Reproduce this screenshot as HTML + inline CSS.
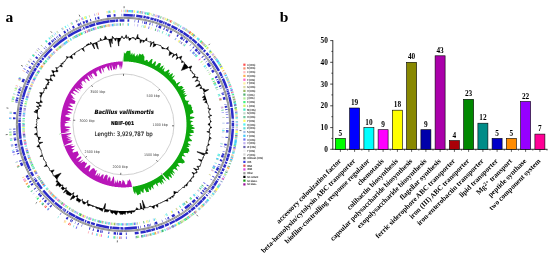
<!DOCTYPE html>
<html><head><meta charset="utf-8"><style>
html,body{margin:0;padding:0;background:#fff;}
svg{display:block;}
.tk{font-family:"DejaVu Sans Condensed","DejaVu Sans",sans-serif;font-stretch:condensed;font-size:3.6px;fill:#444;}
.dc{font-family:"DejaVu Sans Condensed","DejaVu Sans",sans-serif;font-stretch:condensed;}
.lg{font-family:"DejaVu Sans Condensed","DejaVu Sans",sans-serif;font-stretch:condensed;font-size:2.75px;fill:#333;stroke:#333;stroke-width:0.1px;}
.ax{font-family:"Liberation Serif",serif;font-weight:bold;font-size:7.3px;fill:#000;}
.xl{font-family:"Liberation Serif",serif;font-weight:bold;font-size:7.2px;fill:#000;}
.pl{font-family:"Liberation Serif",serif;font-weight:bold;font-size:15.5px;fill:#000;}
</style></head><body>
<svg width="550" height="258" viewBox="0 0 550 258">
<defs><filter id="bl" x="-5%" y="-5%" width="110%" height="110%"><feGaussianBlur stdDeviation="0.35"/></filter></defs>
<rect width="550" height="258" fill="#fff"/>
<text x="5.5" y="22" class="pl">a</text>
<text x="279.8" y="22" class="pl">b</text>
<g id="map" filter="url(#bl)">
<circle cx="123.5" cy="124.4" r="113.4" fill="none" stroke="#ff5050" stroke-width="2.4" pathLength="1440" stroke-dasharray="0 33 2 62 3 42 3 148 2 14 2 117 2 112 1 240 1 50 2 56 2 236 1 257 1 51" transform="rotate(-90 123.5 124.4)"/>
<circle cx="123.5" cy="124.4" r="113.4" fill="none" stroke="#f89070" stroke-width="2.4" pathLength="1440" stroke-dasharray="0 7 3 98 1 25 1 39 3 1 1 30 1 43 2 25 2 71 1 55 2 11 1 138 2 20 2 141 3 102 2 12 1 49 1 63 2 32 2 164 1 13 1 18 1 38 1 204 1 3" transform="rotate(-90 123.5 124.4)"/>
<circle cx="123.5" cy="124.4" r="113.4" fill="none" stroke="#ffb8c0" stroke-width="2.4" pathLength="1440" stroke-dasharray="0 65 3 263 2 55 2 21 2 108 1 54 2 14 2 80 1 116 2 168 1 179 1 298" transform="rotate(-90 123.5 124.4)"/>
<circle cx="123.5" cy="124.4" r="113.4" fill="none" stroke="#ffb050" stroke-width="2.4" pathLength="1440" stroke-dasharray="0 82 1 65 3 31 1 33 1 29 2 95 1 40 1 49 2 13 3 91 2 81 1 23 1 2 3 15 1 236 2 42 3 13 1 246 1 131 1 92" transform="rotate(-90 123.5 124.4)"/>
<circle cx="123.5" cy="124.4" r="113.4" fill="none" stroke="#ff60c8" stroke-width="2.4" pathLength="1440" stroke-dasharray="0 37 2 243 1 12 1 69 1 107 2 1 1 150 1 136 2 7 1 188 1 1 1 388 2 85" transform="rotate(-90 123.5 124.4)"/>
<circle cx="123.5" cy="124.4" r="113.4" fill="none" stroke="#fff0a0" stroke-width="2.4" pathLength="1440" stroke-dasharray="0 1 2 86 1 16 1 49 3 116 2 73 1 104 1 90 3 95 2 196 3 560 3 32" transform="rotate(-90 123.5 124.4)"/>
<circle cx="123.5" cy="124.4" r="113.4" fill="none" stroke="#d8d8a0" stroke-width="2.4" pathLength="1440" stroke-dasharray="0 100 2 7 3 157 3 68 2 81 3 86 2 56 3 163 2 433 2 123 1 33 2 37 2 14 1 54" transform="rotate(-90 123.5 124.4)"/>
<circle cx="123.5" cy="124.4" r="113.4" fill="none" stroke="#98b860" stroke-width="2.4" pathLength="1440" stroke-dasharray="0 90 2 89 1 30 2 89 3 66 1 12 1 180 1 11 2 17 2 64 3 511 1 29 1 34 1 12 1 184" transform="rotate(-90 123.5 124.4)"/>
<circle cx="123.5" cy="124.4" r="113.4" fill="none" stroke="#50b070" stroke-width="2.4" pathLength="1440" stroke-dasharray="0 51 2 7 1 72 1 65 2 31 2 73 2 4 3 9 3 75 2 41 2 11 2 19 1 8 1 5 1 89 2 51 3 50 3 206 3 44 2 42 2 57 1 360 2 27" transform="rotate(-90 123.5 124.4)"/>
<circle cx="123.5" cy="124.4" r="113.4" fill="none" stroke="#b0f090" stroke-width="2.4" pathLength="1440" stroke-dasharray="0 57 1 46 1 8 3 81 1 64 3 73 2 21 1 4 1 13 2 31 1 50 2 124 2 2 3 91 3 229 1 80 1 55 4 65 2 6 3 12 1 2 3 126 1 158" transform="rotate(-90 123.5 124.4)"/>
<circle cx="123.5" cy="124.4" r="113.4" fill="none" stroke="#40f080" stroke-width="2.4" pathLength="1440" stroke-dasharray="0 30 1 120 2 18 3 11 2 51 1 59 2 102 1 149 1 34 3 47 1 42 2 56 2 175 3 27 2 493" transform="rotate(-90 123.5 124.4)"/>
<circle cx="123.5" cy="124.4" r="113.4" fill="none" stroke="#d0f060" stroke-width="2.4" pathLength="1440" stroke-dasharray="0 135 1 9 2 20 1 21 3 9 3 30 2 92 3 175 1 101 2 733 1 96" transform="rotate(-90 123.5 124.4)"/>
<circle cx="123.5" cy="124.4" r="113.4" fill="none" stroke="#40e8c0" stroke-width="2.4" pathLength="1440" stroke-dasharray="0 19 1 24 3 1 3 41 1 229 1 193 1 9 2 11 3 8 1 17 2 10 3 18 4 36 1 34 2 209 1 159 2 82 2 43 1 51 3 36 3 38 1 23 1 29 1 77" transform="rotate(-90 123.5 124.4)"/>
<circle cx="123.5" cy="124.4" r="113.4" fill="none" stroke="#c0d8c8" stroke-width="2.4" pathLength="1440" stroke-dasharray="0 251 2 58 2 207 1 38 2 105 2 435 3 191 2 141" transform="rotate(-90 123.5 124.4)"/>
<circle cx="123.5" cy="124.4" r="113.4" fill="none" stroke="#70c8a0" stroke-width="2.4" pathLength="1440" stroke-dasharray="0 39 1 36 2 87 1 17 1 207 1 48 2 131 1 44 2 36 2 277 2 126 2 219 1 155" transform="rotate(-90 123.5 124.4)"/>
<circle cx="123.5" cy="124.4" r="113.4" fill="none" stroke="#ffff60" stroke-width="2.4" pathLength="1440" stroke-dasharray="0 21 3 29 2 19 1 11 2 96 1 54 4 130 5 74 1 13 1 30 6 102 2 160 2 542 1 47 3 57 3 18" transform="rotate(-90 123.5 124.4)"/>
<circle cx="123.5" cy="124.4" r="113.4" fill="none" stroke="#50f0f0" stroke-width="2.4" pathLength="1440" stroke-dasharray="0 4 1 8 4 18 2 68 1 56 3 56 3 2 5 65 1 19 3 17 1 41 2 10 1 267 3 113 2 127 1 372 2 38 2 4 1 25 1 14 1 45 2 11 1 17" transform="rotate(-90 123.5 124.4)"/>
<circle cx="123.5" cy="124.4" r="113.4" fill="none" stroke="#60e0d8" stroke-width="2.4" pathLength="1440" stroke-dasharray="0 3 1 116 2 9 1 38 1 6 1 41 2 10 1 35 2 8 3 5 2 5 1 52 3 14 2 22 2 10 2 16 3 44 1 26 5 14 1 123 2 189 1 35 1 281 1 142 1 69 2 83" transform="rotate(-90 123.5 124.4)"/>
<circle cx="123.5" cy="124.4" r="113.4" fill="none" stroke="#a0b8e8" stroke-width="2.4" pathLength="1440" stroke-dasharray="0 27 1 34 2 19 1 23 1 8 2 10 3 8 3 123 2 5 3 139 2 51 1 54 1 7 5 10 1 7 2 44 2 11 3 27 1 35 2 14 1 89 1 144 1 105 3 31 2 142 2 129 1 63 1 31" transform="rotate(-90 123.5 124.4)"/>
<circle cx="123.5" cy="124.4" r="113.4" fill="none" stroke="#40c8f8" stroke-width="2.4" pathLength="1440" stroke-dasharray="0 10 3 15 2 168 1 57 3 78 1 16 2 36 6 2 2 17 1 6 2 3 3 2 1 73 2 16 2 80 2 120 1 7 1 9 2 275 1 63 2 9 1 189 1 147" transform="rotate(-90 123.5 124.4)"/>
<circle cx="123.5" cy="124.4" r="113.4" fill="none" stroke="#7070f0" stroke-width="2.4" pathLength="1440" stroke-dasharray="0 17 2 52 3 92 1 48 1 2 1 5 2 10 2 23 1 26 3 115 3 61 1 10 1 69 1 70 1 90 2 102 2 66 2 115 1 19 3 13 1 135 2 20 2 5 1 236" transform="rotate(-90 123.5 124.4)"/>
<circle cx="123.5" cy="124.4" r="113.4" fill="none" stroke="#c0b0f0" stroke-width="2.4" pathLength="1440" stroke-dasharray="1 4 2 35 2 17 1 6 2 42 1 12 3 51 2 25 3 5 1 85 1 1 1 41 1 13 3 8 3 76 1 37 3 48 2 36 1 47 3 2 3 16 3 12 1 12 1 19 1 27 3 291 2 32 1 41 2 61 1 80 1 51 1 19 2 69 2 58" transform="rotate(-90 123.5 124.4)"/>
<circle cx="123.5" cy="124.4" r="113.4" fill="none" stroke="#6860b0" stroke-width="2.4" pathLength="1440" stroke-dasharray="0 153 2 164 3 12 2 46 2 91 1 27 1 1 1 57 2 50 3 55 1 8 2 562 1 94 2 97" transform="rotate(-90 123.5 124.4)"/>
<circle cx="123.5" cy="124.4" r="113.4" fill="none" stroke="#f0f0f0" stroke-width="2.4" pathLength="1440" stroke-dasharray="0 306 1 50 1 560 1 521" transform="rotate(-90 123.5 124.4)"/>
<circle cx="123.5" cy="124.4" r="113.4" fill="none" stroke="#d0d0d0" stroke-width="2.4" pathLength="1440" stroke-dasharray="0 80 2 3 1 8 3 39 3 53 1 263 3 106 1 102 3 62 1 38 1 446 2 57 1 1 1 48 1 110" transform="rotate(-90 123.5 124.4)"/>
<circle cx="123.5" cy="124.4" r="109.4" fill="none" stroke="#2c2cc8" stroke-width="2.5" pathLength="1440" stroke-dasharray="20 1 3 3 13 2 5 1 7 2 7 1 5 1 4 1 8 1 3 1 4 1 8 2 14 2 3 1 8 1 14 1 7 1 12 2 17 2 4 4 7 2 4 2 5 1 25 3 9 1 3 2 22 2 2 1 3 1 5 1 3 1 21 2 23 2 1 2 3 1 7 1 2 2 36 1 14 2 8 1 7 2 4 2 7 2 6 2 5 2 1 2 4 3 2 2 12 1 7 1 2 2 5 2 1 3 3 3 9 1 13 1 5 2 10 1 6 1 32 1 12 2 9 2 13 1 4 2 8 1 10 1 11 4 8 17 2 8 6 3 2 2 5 9 2 12 2 1 2 3 4 7 2 6 2 16 1 7 2 5 1 6 2 1 2 6 4 14 1 24 3 4 2 1 1 4 4 4 2 5 4 1 3 6 1 5 2 8 4 3 3 4 4 1 5 22 7 3 2 14 2 3 3 2 1 3 2 2 4 7 3 1 2 5 4 2 2 4 2 20 4 7 4 20 2 1 4 1 3 4 2 3 4 2 3 1 1 2 1 11 7 14 1 1 1 1 2 5 3 1 1 5 3 3 2 7 4 5 1 4 1 3 1 8 1 3 1 7 6 3 3 1 2 2 2 3 1 2 1 3 3 9 4 4 2 4 1 6 4 8 5 1 2 4 4 2 5 5 2 9 2 3 4 16 8 6 4 13 1 3" transform="rotate(-90 123.5 124.4)"/>
<circle cx="123.5" cy="124.4" r="106.15" fill="none" stroke="#404040" stroke-width="0.6"/>
<circle cx="123.5" cy="124.4" r="107.15" fill="none" stroke="#404040" stroke-width="0.6"/>
<circle cx="123.5" cy="124.4" r="104.0" fill="none" stroke="#2c2cc8" stroke-width="2.5" pathLength="1440" stroke-dasharray="2 7 4 12 1 6 2 8 1 3 2 1 3 6 2 4 1 9 2 3 6 6 2 4 2 1 2 4 5 13 3 6 6 2 2 4 5 8 1 7 2 5 6 2 2 1 3 8 2 5 2 5 1 4 9 4 1 4 6 10 4 3 2 2 7 4 3 3 1 10 2 1 2 5 6 10 1 3 4 3 2 4 1 4 1 6 1 11 2 11 1 3 4 1 1 9 2 13 4 3 1 9 1 4 3 1 5 5 4 7 2 3 1 2 7 3 3 9 2 6 1 14 2 5 3 1 2 2 3 3 3 8 1 2 4 4 8 4 3 1 13 6 2 7 3 9 7 7 2 1 1 3 1 8 1 11 5 1 1 8 1 2 2 1 2 5 2 8 1 3 2 2 28 2 7 2 16 1 4 2 29 3 9 2 7 2 3 2 21 1 16 2 3 3 3 1 2 1 1 2 20 2 35 5 17 2 5 1 2 2 1 4 10 3 4 1 18 1 11 1 21 2 13 2 35 2 6 2 2 3 3 1 4 1 3 1 7 2 4 2 3 2 3 2 4 1 26 2 3 1 8 1 20 1 8 2 4 1 6 2 6 2 5 2 25 5 37 3 33 2 1 2 3 2 8 1 14 2 30 1 11 1 6 3 9 0" transform="rotate(-90 123.5 124.4)"/>
<circle cx="123.5" cy="124.4" r="100.0" fill="none" stroke="#ff5050" stroke-width="2.4" pathLength="1440" stroke-dasharray="0 321 1 410 1 198 3 33 2 31 2 60 1 202 1 5 2 81 2 84" transform="rotate(-90 123.5 124.4)"/>
<circle cx="123.5" cy="124.4" r="100.0" fill="none" stroke="#f89070" stroke-width="2.4" pathLength="1440" stroke-dasharray="0 253 1 122 1 93 1 297 2 99 1 13 1 13 3 4 3 49 1 84 3 73 1 30 1 20 2 2 1 200 1 22 1 7 3 32" transform="rotate(-90 123.5 124.4)"/>
<circle cx="123.5" cy="124.4" r="100.0" fill="none" stroke="#ffb8c0" stroke-width="2.4" pathLength="1440" stroke-dasharray="0 133 1 85 1 84 1 145 1 73 2 367 1 15 3 7 1 90 1 9 3 5 1 124 3 26 3 7 3 31 3 21 2 51 3 70 1 6 1 8 2 6 3 37" transform="rotate(-90 123.5 124.4)"/>
<circle cx="123.5" cy="124.4" r="100.0" fill="none" stroke="#ffb050" stroke-width="2.4" pathLength="1440" stroke-dasharray="0 50 1 768 1 74 3 322 5 28 2 25 1 5 1 50 3 101" transform="rotate(-90 123.5 124.4)"/>
<circle cx="123.5" cy="124.4" r="100.0" fill="none" stroke="#ff60c8" stroke-width="2.4" pathLength="1440" stroke-dasharray="0 109 2 86 2 100 2 389 1 58 1 21 1 24 2 15 3 49 3 13 2 4 2 102 2 40 3 4 1 18 2 16 1 131 1 141 1 23 1 61 1 2" transform="rotate(-90 123.5 124.4)"/>
<circle cx="123.5" cy="124.4" r="100.0" fill="none" stroke="#fff0a0" stroke-width="2.4" pathLength="1440" stroke-dasharray="0 211 1 411 1 118 2 11 2 31 2 83 1 2 2 317 1 244" transform="rotate(-90 123.5 124.4)"/>
<circle cx="123.5" cy="124.4" r="100.0" fill="none" stroke="#d8d8a0" stroke-width="2.4" pathLength="1440" stroke-dasharray="0 480 2 108 3 69 2 53 1 121 2 71 2 67 2 83 3 172 1 12 4 19 2 161" transform="rotate(-90 123.5 124.4)"/>
<circle cx="123.5" cy="124.4" r="100.0" fill="none" stroke="#98b860" stroke-width="2.4" pathLength="1440" stroke-dasharray="0 9 1 39 1 211 2 38 3 40 1 97 1 119 3 174 3 35 2 62 2 132 1 306 3 104 3 6 2 40" transform="rotate(-90 123.5 124.4)"/>
<circle cx="123.5" cy="124.4" r="100.0" fill="none" stroke="#50b070" stroke-width="2.4" pathLength="1440" stroke-dasharray="0 74 2 16 1 136 1 43 2 188 2 45 2 160 2 13 1 132 4 38 1 7 3 45 1 33 2 22 1 36 3 200 1 1 1 10 3 96 2 36 1 19 3 42 3 6" transform="rotate(-90 123.5 124.4)"/>
<circle cx="123.5" cy="124.4" r="100.0" fill="none" stroke="#b0f090" stroke-width="2.4" pathLength="1440" stroke-dasharray="0 204 2 32 2 404 1 52 2 45 1 1 3 13 1 177 2 121 3 19 2 36 1 7 3 23 2 1 1 112 4 163" transform="rotate(-90 123.5 124.4)"/>
<circle cx="123.5" cy="124.4" r="100.0" fill="none" stroke="#40f080" stroke-width="2.4" pathLength="1440" stroke-dasharray="0 136 1 113 3 4 2 4 2 284 3 174 1 63 2 32 2 91 1 48 1 16 3 3 2 5 1 1 1 94 2 32 2 74 3 30 2 42 2 29 1 21 3 3 3 4 1 32 3 57 1 0" transform="rotate(-90 123.5 124.4)"/>
<circle cx="123.5" cy="124.4" r="100.0" fill="none" stroke="#d0f060" stroke-width="2.4" pathLength="1440" stroke-dasharray="0 47 1 807 3 141 1 126 1 179 2 12 2 81 2 14 2 19" transform="rotate(-90 123.5 124.4)"/>
<circle cx="123.5" cy="124.4" r="100.0" fill="none" stroke="#40e8c0" stroke-width="2.4" pathLength="1440" stroke-dasharray="0 84 1 65 2 23 1 10 3 33 1 69 2 139 1 80 2 65 2 76 1 100 2 4 2 4 3 23 2 10 1 48 2 18 2 93 1 4 2 69 2 28 3 105 3 23 2 18 2 124 1 21 1 57" transform="rotate(-90 123.5 124.4)"/>
<circle cx="123.5" cy="124.4" r="100.0" fill="none" stroke="#c0d8c8" stroke-width="2.4" pathLength="1440" stroke-dasharray="0 369 1 165 1 308 3 42 1 121 1 75 3 18 2 134 3 70 2 119 1 1" transform="rotate(-90 123.5 124.4)"/>
<circle cx="123.5" cy="124.4" r="100.0" fill="none" stroke="#70c8a0" stroke-width="2.4" pathLength="1440" stroke-dasharray="0 278 1 47 2 190 3 31 1 15 3 229 2 47 3 22 1 3 1 59 2 6 3 125 1 187 1 59 3 38 3 18 2 54" transform="rotate(-90 123.5 124.4)"/>
<circle cx="123.5" cy="124.4" r="100.0" fill="none" stroke="#ffff60" stroke-width="2.4" pathLength="1440" stroke-dasharray="0 51 1 12 1 69 2 467 3 59 2 15 1 126 1 1 2 4 2 150 2 23 2 75 3 100 2 264" transform="rotate(-90 123.5 124.4)"/>
<circle cx="123.5" cy="124.4" r="100.0" fill="none" stroke="#50f0f0" stroke-width="2.4" pathLength="1440" stroke-dasharray="0 46 1 54 1 114 3 155 2 53 2 20 1 86 3 31 2 45 1 89 3 11 3 194 2 107 2 14 1 23 2 4 2 75 1 12 2 29 2 144 2 23 2 58 1 12" transform="rotate(-90 123.5 124.4)"/>
<circle cx="123.5" cy="124.4" r="100.0" fill="none" stroke="#60e0d8" stroke-width="2.4" pathLength="1440" stroke-dasharray="0 42 1 48 1 14 3 70 2 84 2 5 1 16 2 113 2 25 2 141 1 41 2 73 2 6 3 1 3 30 1 33 1 8 2 3 1 2 1 28 1 17 3 63 3 31 2 13 1 27 1 15 1 12 2 30 2 96 4 1 1 14 1 34 1 50 2 53 3 122 2 16" transform="rotate(-90 123.5 124.4)"/>
<circle cx="123.5" cy="124.4" r="100.0" fill="none" stroke="#a0b8e8" stroke-width="2.4" pathLength="1440" stroke-dasharray="0 124 3 195 1 33 2 20 1 271 1 82 3 21 1 27 2 17 2 37 1 24 1 6 1 27 1 3 2 114 2 19 1 53 1 3 2 16 3 38 2 14 3 176 2 14 2 42 3 21" transform="rotate(-90 123.5 124.4)"/>
<circle cx="123.5" cy="124.4" r="100.0" fill="none" stroke="#40c8f8" stroke-width="2.4" pathLength="1440" stroke-dasharray="0 11 2 254 1 105 1 65 3 18 3 63 1 44 1 30 1 44 2 53 1 9 1 16 3 20 3 37 1 97 3 34 4 71 2 12 1 73 1 13 2 132 1 19 2 34 3 3 3 9 2 5 1 5 3 66 3 16 3 24" transform="rotate(-90 123.5 124.4)"/>
<circle cx="123.5" cy="124.4" r="100.0" fill="none" stroke="#7070f0" stroke-width="2.4" pathLength="1440" stroke-dasharray="0 32 1 25 2 108 2 6 3 4 2 147 1 77 1 47 2 43 2 36 1 151 3 24 3 52 2 29 1 143 1 10 3 1 1 51 3 17 1 61 2 41 4 25 1 13 3 18 3 38 3 13 1 105 3 68" transform="rotate(-90 123.5 124.4)"/>
<circle cx="123.5" cy="124.4" r="100.0" fill="none" stroke="#c0b0f0" stroke-width="2.4" pathLength="1440" stroke-dasharray="0 25 1 7 1 45 3 55 2 180 2 68 1 78 2 226 1 9 3 49 2 35 1 35 3 3 2 147 3 15 2 6 1 35 2 3 1 4 1 48 1 3 4 34 3 28 1 79 1 3 1 26 3 36 3 75 1 1 1 1 1 11 3 13" transform="rotate(-90 123.5 124.4)"/>
<circle cx="123.5" cy="124.4" r="100.0" fill="none" stroke="#6860b0" stroke-width="2.4" pathLength="1440" stroke-dasharray="0 141 2 570 1 115 1 54 1 51 2 4 2 20 1 71 1 15 1 1 4 20 2 35 2 46 2 33 1 150 2 7 2 1 1 78" transform="rotate(-90 123.5 124.4)"/>
<circle cx="123.5" cy="124.4" r="100.0" fill="none" stroke="#f0f0f0" stroke-width="2.4" pathLength="1440" stroke-dasharray="0 223 2 538 3 150 1 242 1 280" transform="rotate(-90 123.5 124.4)"/>
<circle cx="123.5" cy="124.4" r="100.0" fill="none" stroke="#d0d0d0" stroke-width="2.4" pathLength="1440" stroke-dasharray="0 147 3 84 1 168 1 310 3 20 2 269 1 137 2 51 3 8 1 75 5 120 1 28" transform="rotate(-90 123.5 124.4)"/>
<line x1="124.1" y1="8.2" x2="124.1" y2="6.2" stroke="#333" stroke-width="0.7"/>
<line x1="208.5" y1="45.2" x2="209.9" y2="43.8" stroke="#333" stroke-width="0.7"/>
<line x1="239.5" y1="130.5" x2="241.5" y2="130.6" stroke="#333" stroke-width="0.7"/>
<line x1="196.6" y1="214.7" x2="197.9" y2="216.3" stroke="#333" stroke-width="0.7"/>
<line x1="117.4" y1="240.4" x2="117.3" y2="242.4" stroke="#333" stroke-width="0.7"/>
<line x1="37.1" y1="202.2" x2="35.7" y2="203.5" stroke="#333" stroke-width="0.7"/>
<line x1="7.7" y1="134.5" x2="5.7" y2="134.7" stroke="#333" stroke-width="0.7"/>
<line x1="8.4" y1="108.2" x2="6.5" y2="107.9" stroke="#333" stroke-width="0.7"/>
<line x1="22.9" y1="66.3" x2="21.1" y2="65.3" stroke="#333" stroke-width="0.7"/>
<line x1="52" y1="32.8" x2="50.7" y2="31.3" stroke="#333" stroke-width="0.7"/>
<line x1="80" y1="16.7" x2="79.2" y2="14.8" stroke="#333" stroke-width="0.7"/>
<path d="M123.5,38.4 123.9,38.4 124.3,38.4 124.6,38.4 125,38 125.4,36.9 125.8,35.9 126.2,34.8 126.6,36.4 126.9,38.6 127.3,38.1 127.7,37.7 128.1,36.7 128.4,37.4 128.8,38.2 129,40.3 129.4,40.2 129.8,40.2 130.1,40.1 130.6,39.5 131,38.8 131.4,38.1 131.8,37.7 132.2,37.6 132.6,37.5 133,37.4 133.4,37.5 133.8,37.6 134.1,37.7 134.5,38 134.8,38.7 135.1,39.4 135.4,40 135.7,40 136.4,38.2 137.1,36.3 137.8,34.4 137.9,36.2 137.9,38.1 138.4,37.8 138.8,37.8 139.1,38.1 139.4,38.4 139.8,38.7 140,39.8 140.1,41.1 140.2,42.4 140.4,43.2 141,42.1 141.6,41 142.2,40 142.6,40 142.8,40.9 143,41.7 143.2,42.5 143.6,42.1 144.1,41.6 144.6,41.2 145.3,40.1 146,39 146.7,37.8 146.8,39 146.8,40.3 147.1,40.7 147.4,41 147.7,41.3 148.1,41.5 148.4,41.6 148.8,41.7 149.1,41.9 149.5,42 149.9,42 150.2,42.1 150.9,41.3 150.8,42.7 150.6,44.6 150.3,46.7 151.2,44.9 152.2,43.2 153.1,42 153.5,41.9 154,41.6 153.7,43.5 153.5,45.2 153.1,47.2 154,46 154.4,46 154.7,46.3 155.3,45.7 156,45 156.6,44.4 157,44.5 157.4,44.6 157.8,44.6 158.1,44.7 158.5,44.9 158.8,45 159.2,45.2 159.6,45.3 159.9,45.3 160.3,45.4 160.7,45.5 161,45.9 161.2,46.2 161.5,46.6 161.6,47 161.8,47.6 161.9,48.2 162.1,48.7 162.5,48.7 162.9,48.7 163.3,48.7 163.7,48.7 164.2,48.7 164.6,48.7 165,48.7 165.4,48.7 165.8,48.8 166.4,48.6 167.4,47.7 168.3,46.7 168.1,48 167.8,49.2 168.1,49.4 168.4,49.7 168.7,49.9 169,50.2 169.2,50.6 169.3,51.1 169.5,51.5 169.5,52.1 169.4,53 169.3,53.9 169.2,54.8 169,55.6 169.8,55.1 170.6,54.6 171.3,54.1 172.1,53.7 172.8,53.4 173.1,53.6 173.5,53.7 173.4,54.4 172.8,55.9 172.2,57.4 173.5,56.3 174.8,55.1 176.4,53.6 176.7,53.7 176.8,54.3 176.9,54.8 177,55.3 177.2,55.7 177.3,56.1 177.1,57 176.6,58.2 176.1,59.4 177.2,58.7 178.3,57.9 179.4,57.2 180.2,56.8 181,56.5 181.8,56.1 181.5,57.1 181.1,58.1 180.8,59.1 180.7,59.7 181.1,59.9 181.4,60.1 181.8,60.2 181.8,60.8 181.7,61.5 181.5,62.2 181.6,62.6 182.4,62.4 183.1,62.1 183.9,61.9 184.2,62.1 184.2,62.6 184.3,63.1 184.3,63.6 184.2,64.2 183.8,65.1 183.4,66.1 183,66.9 182.6,67.8 182.3,68.6 181.9,69.4 181.4,70.4 182.2,70.1 183.1,69.8 184,69.5 185,69.1 185.9,68.7 186.9,68.3 188,67.8 190.2,66.4 191,66.2 191.8,66 191.4,66.9 191,67.7 190.6,68.6 190.4,69.3 190.3,69.8 190.3,70.3 190.3,70.8 190.7,71 191.1,71.1 191.6,71.2 192,71.3 192.1,71.8 192.1,72.3 192.1,72.7 192.3,73 192.6,73.3 192.8,73.6 193.1,73.8 193.6,73.9 194.1,74 194.6,74.2 194.9,74.4 195,74.8 194.4,75.6 193.4,76.8 192.4,77.9 193.7,77.5 195.2,76.9 195.4,77.3 196.2,77.2 197,77.1 197.8,77 198,77.4 197.6,78.1 197.2,78.8 196.9,79.4 196,80.4 195.1,81.4 196.4,81 197.7,80.7 198.4,80.7 198.8,80.9 199.2,81.1 199.3,81.5 199.3,82 199.3,82.4 199.4,82.8 199.7,83 199.1,83.8 197.6,85 196,86.3 195.8,86.8 197.7,86.2 199.6,85.6 201,85.3 201,85.7 201.1,86.1 201,86.6 200.6,87.2 200.2,87.8 199.9,88.4 200.5,88.5 201.3,88.5 202.1,88.6 202.9,88.6 203.5,88.8 204.1,88.9 204.7,89.1 204.7,89.5 204.2,90.2 204.8,90.3 207.1,89.8 208.7,89.6 206.5,90.9 204.3,92.2 203.5,92.9 203.7,93.2 203.9,93.5 204.1,93.9 204.4,94.2 204.6,94.5 204.9,94.8 204.9,95.2 204.1,95.9 203.2,96.6 202.4,97.2 202.6,97.5 203.6,97.6 204.6,97.6 203.9,98.3 204.8,98.4 203.9,99.1 203,99.7 202.9,100.1 204.2,100.1 205.5,100.1 206.7,100.1 206.4,100.6 205.7,101.2 205,101.8 204.6,102.3 205.3,102.5 205.9,102.7 206.6,102.9 207,103.2 207.2,103.5 207.4,103.9 207.5,104.2 207.8,104.6 208,104.9 208.2,105.2 208.3,105.6 208.4,106 208.4,106.4 208.4,106.7 208.3,107.1 208.1,107.6 208,108 207.9,108.4 208.9,108.6 209.9,108.8 210.9,109 210.2,109.5 209.4,110 209.1,110.5 208.8,110.9 208.7,111.3 208.7,111.7 208.6,112.1 208.7,112.4 208.9,112.8 209.1,113.1 209.2,113.5 209.4,113.8 209.6,114.2 209.8,114.6 210.2,114.9 211,115.2 211.8,115.5 210,116.1 209.1,116.5 208.2,117 208.9,117.3 209.6,117.6 210.2,118 210,118.4 209.8,118.7 209.8,119.1 209.9,119.5 210.1,119.9 210.2,120.2 210.5,120.6 210.8,121 211.1,121.3 211.3,121.7 210.8,122.1 210.4,122.5 209.9,122.9 209.4,123.3 208.9,123.7 208.4,124 207.9,124.4 208.5,124.8 209.1,125.1 209.7,125.5 210,125.9 209.9,126.3 210.3,126.7 211.1,127.1 212,127.5 211.1,127.8 210.3,128.2 209.7,128.5 209.6,128.9 209.4,129.3 209.2,129.6 209.2,130 209.5,130.4 209.7,130.8 209.4,131.2 208.1,131.4 206.8,131.7 208.1,132.2 209.3,132.7 210.1,133.1 210.2,133.5 210.2,133.9 210,134.3 209.8,134.6 209.6,135 209.4,135.3 209.4,135.7 209.4,136.1 209.4,136.5 209.7,136.9 210.2,137.4 210.8,137.8 211.3,138.3 209.7,138.4 209.1,138.7 209.5,139.2 210.2,139.7 209.5,139.9 208.8,140.2 209,140.6 209,141 208.8,141.4 208.5,141.7 208.3,142 208.3,142.4 208.2,142.8 208.1,143.2 208.3,143.6 208.7,144.1 209.1,144.5 209.4,145 208.7,145.3 208,145.5 207.3,145.7 206.9,146 206.9,146.4 206.9,146.7 206.8,147.1 206.9,147.5 206.9,147.9 207,148.3 207.1,148.8 207.3,149.2 207.6,149.7 207.9,150.2 207.6,150.5 206.9,150.7 206.3,150.9 205.6,151.1 206.3,151.7 207,152.3 207.7,153 207.8,153.4 207,153.6 206.2,153.7 205.5,153.8 201.8,152.9 197.8,151.8 196.9,151.8 200.6,153.6 204.4,155.4 204.2,155.8 203.9,156.1 203.6,156.4 203.4,156.7 203.1,157 202.9,157.3 202.9,157.7 202.8,158.1 202.8,158.5 202.7,158.8 202.5,159.2 202.3,159.5 202.1,159.8 201.7,160 200,159.7 198.4,159.3 199.8,160.4 201.1,161.4 201.7,162.1 201.4,162.4 201.2,162.7 201.1,163.1 201,163.5 200.9,163.8 200.7,164.2 200.6,164.5 200.5,164.9 200.3,165.3 200.3,165.6 200.2,166 200.1,166.4 199.4,166.4 198.4,166.4 197.5,166.3 196.9,166.3 197.5,167.1 198.2,168 198.8,168.8 198.8,169.2 198.4,169.4 197.9,169.5 196.8,169.3 195.2,168.8 193.6,168.2 194.8,169.4 196.1,170.6 197,171.7 197.1,172.2 197.1,172.6 196.6,172.8 196.1,172.9 195.6,173 195.1,173.2 194.5,173.2 193.2,172.8 192,172.3 192.8,173.4 193.6,174.4 193.7,175 193.5,175.3 193.6,175.8 193.7,176.3 193.7,176.8 193.6,177.2 193,177.3 192.5,177.3 191.9,177.4 191.8,177.8 191.8,178.2 191.8,178.7 191.6,179.1 191.1,179.2 190.6,179.2 190.5,179.7 190.9,180.5 191.4,181.4 190.5,181.2 189.9,181.1 189.5,181.3 189.1,181.4 188.7,181.6 188.4,181.9 188.3,182.2 188.1,182.6 188,183 187.8,183.3 187.6,183.7 187.5,184 187.3,184.4 187.2,184.9 187.2,185.3 187.1,185.8 186.6,185.9 185.9,185.7 185.2,185.6 184.5,185.4 184.6,186 184.7,186.6 184.7,187.2 184.5,187.6 183.9,187.5 183.3,187.4 182.7,187.3 182.4,187.6 182.2,187.9 181.9,188.2 181.7,188.5 181.4,188.7 181.1,189 180.9,189.3 180.6,189.5 180.3,189.7 180,189.9 179.7,190.2 179.3,190.3 179,190.5 178.7,190.7 178.4,191 178.2,191.4 178.1,191.8 177.9,192.2 177.8,192.6 176.9,192.1 176.3,192 175.7,191.9 175.1,191.7 174.5,191.5 173.9,191.2 173.9,191.9 173.9,192.6 174,193.2 174,193.9 174,194.5 174.3,195.6 173.7,195.4 173.3,195.6 173.3,196.2 173.2,196.7 173.2,197.3 172.7,197.3 172.1,197.1 171.5,197 171.1,196.9 171,197.5 170.9,198.1 170.8,198.7 170.5,198.8 169.9,198.6 169.3,198.5 168.8,198.3 168.4,198.4 168.1,198.6 167.7,198.7 167.6,199.3 167.8,200.3 167.9,201.3 167.3,201.1 166.9,201.1 166.4,201 165.9,200.9 165.4,200.8 165.1,200.9 164.7,201.1 164.4,201.2 164,201.4 163.6,201.5 163.3,201.7 162.9,201.8 162.6,202 162.3,202.2 162,202.4 161.6,202.6 161.3,202.8 161,203 160.6,203.1 160.3,203.2 159.9,203.3 159.5,203.4 159.1,203.4 158.7,203.5 158.4,203.6 158,203.7 157.8,204.3 157.8,205.3 157.8,206.3 157.8,207.2 157.2,206.7 156.5,206.2 155.9,205.6 155.3,205 155,205.4 154.8,205.9 154.5,206.3 154.4,207 154.2,207.7 154.1,208.5 153.6,208.3 153.1,207.9 152.6,207.6 152,207.2 151.5,206.9 150.9,206.2 150.4,206.1 150,206 149.7,206.2 149.4,206.5 149.1,206.7 148.7,206.9 148.4,207.1 148.1,207.4 147.7,207.6 147.4,207.7 147,207.7 146.6,207.7 146.2,207.8 145.9,207.9 145.5,207.9 144.5,205.4 143.4,202.9 142.4,200.3 142.8,203.3 143.2,206.3 143.7,210.1 143.1,209.5 142.6,208.8 142,207.9 141.1,205.5 140.2,203.1 140.4,205.6 140.5,208.2 140.3,209 140,209.1 139.6,209.3 139.2,209.3 138.8,209.2 138.5,209.2 138,209 137.6,208.5 137.1,208.1 136.7,207.7 136.4,208.3 136.1,208.9 135.8,209.5 135.5,210.1 135.2,210.6 134.9,211.1 134.6,211.7 134.2,211.8 133.9,211.9 133.5,212 133.1,212 132.7,211.9 132.3,211.8 132,212.3 131.7,213.1 131.3,214 130.9,213.3 130.4,212.6 130.1,212.6 129.7,212.5 129.3,212.4 128.9,212.5 128.5,212.9 128.2,213.3 127.8,213.6 127.4,213 126.9,212.1 126.5,211.2 126.2,211.7 125.8,212.6 125.4,213.5 125.1,214.5 124.7,213.8 124.3,213.8 123.9,213.8 123.5,213.7 123.1,214 122.7,214.2 122.3,214.4 121.9,214.5 121.5,214.2 121.2,213.9 120.8,213.7 120.4,214.5 120,213.3 119.6,213.1 119.3,212.9 118.9,212.4 118.5,212 118.2,211.5 117.8,212 117.3,213 116.8,214 116.4,215.1 116,214.7 115.6,214.4 115.3,214.1 114.9,213.7 114.6,213.3 114.2,212.9 113.9,212.4 113.4,212.7 113,213 112.6,213.4 112.2,213.6 111.8,213.3 111.4,213 111.1,212.7 110.8,212.1 110.5,211.2 110.3,210.4 110,209.6 109.5,210.2 109,210.8 108.5,211.4 108.1,211.8 107.7,211.8 107.3,211.8 106.9,211.8 106.5,211.8 106.1,211.8 105.7,211.7 105.3,211.7 104.9,211.9 104.5,212.1 105.1,207.2 105.5,204.1 105.3,203.4 104.2,206.3 103.1,209.2 102.2,211.4 101.9,211 101.6,210.7 101.3,210.4 100.9,210.2 100.5,210.1 100.2,209.9 99.8,209.7 99.5,209.5 99.2,209.3 98.8,209 98.6,208.5 98.2,208.6 97.6,209.2 97.5,208.3 97.2,207.8 96.7,208.1 96.2,208.4 96,207.9 95.7,207.4 95.5,206.9 95.2,206.6 94.8,206.5 94.4,206.5 94,206.4 93.6,206.5 93.2,206.5 92.8,206.6 92.4,206.5 92.1,206.3 91.8,206 91.5,205.7 91.1,205.5 90.7,205.5 90.4,205.4 90,205.3 89.5,205.5 88.9,205.8 88.4,206 88,206 87.8,205.5 87.6,205 87.4,204.5 87.7,202.9 87.9,201.6 88.1,200.2 87.3,201.2 86.4,202.2 85.3,203.6 84.7,204 84.2,204 83.9,203.9 83.5,203.8 83.1,203.6 82.9,203.1 82.8,202.7 82.6,202.2 82.5,201.6 82.5,200.8 82.5,200 82.5,199.2 81.7,199.8 80.7,200.8 79.8,201.7 78.9,202.4 78.7,202 78.5,201.5 78.3,201.1 78,201 77.5,200.9 77.1,200.9 76.7,200.8 76.6,200.2 76.5,199.6 77.5,197.3 77.6,196.5 77.6,195.8 77.6,195.1 76.7,195.7 76.1,196.1 75.4,196.4 73.6,198.5 73.5,197.9 72.5,198.5 71.6,199.2 70.7,199.8 70.4,199.5 73,195.2 73.5,193.8 74,192.5 73,193.3 72,194 70.2,195.8 69.9,195.6 69.5,195.4 69.1,195.3 68.7,195.1 68.4,195 68,194.8 67.6,194.7 67.2,194.6 66.9,194.3 66.6,194.1 66.3,193.8 66.2,193.3 66.3,192.6 66.4,191.9 66.5,191.1 65.5,191.7 64.5,192.3 63.5,192.8 65.7,189.7 66.1,188.7 66.5,187.7 65.7,188 64.9,188.4 63,189.9 62.6,189.8 62.2,189.6 62,189.2 61.8,188.9 61.6,188.5 61.1,188.4 62.6,186.4 62.8,185.6 63,184.9 62.2,185.1 61.5,185.4 59.3,187 59.3,186.4 59.1,186 59,185.6 58.9,185.2 58.2,185.3 57.3,185.6 56.5,185.8 55.9,185.8 56.5,184.7 57.1,183.6 57.7,182.6 57.6,182.2 57.1,182.1 56.5,182.1 56,182.1 56.4,181.2 56.9,180.3 57.3,179.4 57.1,179.2 57.3,178.5 57.8,177.6 58.3,176.7 59.2,175.6 60.1,174.4 61.1,173.1 60.1,173.5 58.8,174 57.6,174.5 56.3,175 55.1,175.5 53.7,176 53.4,175.8 53.2,175.5 53.1,175.1 53.1,174.6 53.1,174.2 52.9,173.8 52.7,173.5 52.4,173.3 52.1,173 52.6,172.2 53.2,171.4 53.8,170.5 54.1,169.9 52.9,170.2 51.8,170.5 50.6,170.8 50,170.8 49.8,170.4 49.6,170.1 49.5,169.8 49.4,169.4 49.4,168.9 49.3,168.5 49.2,168.2 49,167.9 48.7,167.6 48.5,167.3 48.2,167 47.9,166.8 47.6,166.5 47.2,166.2 47,166 45.6,166.3 44.3,166.5 45.2,165.6 46.1,164.7 46,164.3 45.8,164 46,163.5 46.1,163 46.2,162.5 46.1,162.1 45.8,161.9 45.4,161.6 45.1,161.4 44.9,161.1 44.6,160.8 44.4,160.4 44.2,160.1 44,159.8 43.7,159.5 43.5,159.2 43.4,158.8 43.5,158.4 43.5,157.9 43.5,157.5 43.4,157.2 43.2,156.8 43.1,156.5 42.5,156.3 41.2,156.4 39.9,156.5 40.9,155.7 41.9,154.9 42.2,154.4 42.1,154 42,153.7 41.8,153.3 41.7,153 41.6,152.6 41.5,152.2 41.4,151.9 41.3,151.5 41.2,151.2 41.2,150.8 41.2,150.4 41.2,150 41,149.6 40.6,149.4 40.1,149.1 39.7,148.8 39.7,148.4 39.8,148 39.8,147.6 39.7,147.2 38.8,147.1 37.9,146.9 37,146.8 37,146.4 37.6,145.8 38.3,145.2 38.9,144.7 38.9,144.3 39.7,143.7 41.3,143 42.8,142.3 41.1,142.3 39.4,142.3 38.6,142.1 38.5,141.7 38.3,141.3 38.2,141 38,140.6 38.6,140.1 39.4,139.6 40.1,139.1 39.4,138.9 39.2,138.5 40,138 40.8,137.5 39.7,137.3 38.6,137.1 37.6,136.9 36.9,136.6 37,136.2 37.1,135.8 37.1,135.4 36.5,135.1 35.6,134.8 34.8,134.5 34.3,134.2 35.2,133.7 36.1,133.2 36.9,132.7 37.3,132.3 37.2,131.9 37.2,131.6 37.2,131.2 37.1,130.8 36.9,130.5 36.7,130.1 36.7,129.7 36.8,129.3 36.9,128.9 36.9,128.6 36.6,128.2 35.7,127.9 34.7,127.5 35.7,127.1 36,126.7 36.4,126.3 36.8,125.9 36.8,125.5 36.6,125.2 36.4,124.8 36.2,124.4 36.4,124 36.7,123.6 37,123.3 37.1,122.9 36.9,122.5 36.8,122.1 36.6,121.7 36.7,121.4 36.8,121 36.9,120.6 36.9,120.2 36.7,119.9 36.5,119.5 37.3,119.1 38.4,118.8 39.6,118.5 38.7,118.1 38.2,117.7 38,117.3 37.9,116.9 37.7,116.5 37.6,116.1 37.6,115.8 37.6,115.4 37.6,115 37.5,114.6 37.4,114.2 37.3,113.8 37.3,113.4 37,113 35.5,112.4 33.9,111.8 35.5,111.6 37.1,111.5 36.1,111 35.2,110.4 36,110.1 36.8,109.9 37.6,109.6 38.3,109.4 38.7,109.1 39.2,108.8 39.6,108.5 38.9,108 37.9,107.4 36.9,106.8 36.4,106.3 38,106.2 39.6,106.2 41.2,106.2 41.4,105.8 40.5,105.2 39.7,104.7 38.9,104.1 37.9,103.5 37,102.8 36,102.2 39.3,102.6 40.6,102.6 41.9,102.5 42.3,102.3 42.3,101.9 41.7,101.3 41.2,100.8 40.8,100.3 40.8,99.9 40.7,99.5 40.7,99.1 40.7,98.7 40.7,98.3 40.7,97.9 40.7,97.5 40.4,97 40.2,96.5 39.9,96 39.9,95.6 40.4,95.4 40.9,95.2 41.4,94.9 41,94.4 40.5,93.8 39.9,93.1 39.7,92.6 40.9,92.7 42.1,92.7 43.3,92.8 43.8,92.6 43.7,92.2 43.7,91.7 43.6,91.3 43.8,91 44,90.7 44.3,90.4 44.3,90 44.1,89.4 43.8,88.9 43.6,88.4 44.9,88.6 46,88.7 47,88.7 46.7,88.2 46.7,87.8 46.7,87.4 46.7,86.9 46.5,86.4 46.3,85.9 46.2,85.4 46,84.9 46.7,84.9 47.5,84.8 48.3,84.8 48.7,84.6 48.5,84.1 48.4,83.6 48.3,83.1 48.6,82.9 49,82.7 49.4,82.5 47.7,81.1 46.3,79.8 45.4,78.9 46.9,79.3 48,79.5 49.5,79.9 51,80.4 52.5,80.9 52,80.1 51.5,79.4 51.1,78.7 50.8,78.1 50.7,77.6 50.7,77.1 50.7,76.7 50.7,76.2 50.6,75.7 50.6,75.2 50.9,74.9 52.4,75.6 53.6,75.9 55,76.4 55.1,76.1 54.4,75.1 53.8,74.2 53.2,73.3 52.7,72.5 52.2,71.6 51.7,70.8 51.9,70.4 53,70.8 54.1,71.1 55.2,71.5 55.9,71.6 56.6,71.7 57.3,71.7 57.8,71.7 57.9,71.2 57.9,70.8 56.7,69.3 56.2,68.4 55.7,67.5 56.5,67.7 57.2,67.8 57.6,67.7 58.1,67.5 58.5,67.4 58.8,67.2 58.9,66.8 59.1,66.4 59.2,66 59.9,66.1 60.8,66.4 61.7,66.8 62.3,66.8 62,66 61.6,65.2 61.3,64.3 60.9,63.5 61.7,63.7 62.5,63.9 63.2,64.1 63,63.4 62.9,62.7 62.9,62.2 63.6,62.3 63.9,62.1 64.2,61.9 64.6,61.7 64.8,61.5 65.1,61.2 65.3,60.9 65.5,60.6 65.6,60.1 65.8,59.7 65.9,59.3 66.1,59 66.4,58.7 66.7,58.5 67,58.2 66.7,57.3 66.4,56.4 67.3,56.9 67.7,56.7 68.3,56.9 69,57.1 69.7,57.3 70.4,57.7 71.3,58.1 72.1,58.6 72.6,58.7 72.4,57.8 72.1,56.8 71.9,55.9 71.9,55.4 72.2,55.1 72.4,54.8 72.7,54.4 73,54.2 73.4,54.2 74.2,54.6 75,55.1 74.8,54.3 74.7,53.4 75.1,53.4 75.4,53.1 75.6,52.7 75.8,52.4 76.1,52.1 76.4,51.9 76.7,51.7 77.1,51.5 77.4,51.3 77.8,51.2 78.1,51 78.5,50.9 78.8,50.7 79.1,50.5 79.4,50.4 79.7,50.1 80,49.8 80.2,49.5 80.5,49.1 80.8,49 81.2,48.9 81.6,48.9 82.4,49.4 83.5,50.7 84.3,51.4 83.8,49.8 83.3,48.1 83.6,47.7 83.8,47.3 84,46.9 84.4,46.8 84.8,46.8 85.2,46.8 85.6,46.6 85.8,46.1 86,45.7 86.2,45.3 86.5,45 86.8,44.7 87.1,44.5 87.4,44.2 87.7,44.1 88.1,43.9 88.4,43.7 88.9,43.8 89.4,44 89.9,44.2 90.4,44.4 90.5,43.6 90.5,42.8 90.6,42 92,44.3 93.3,46.7 94.6,49 94.1,46.7 93.5,44.3 93.7,43.7 94.2,43.8 94.6,43.9 94.9,43.5 95.1,43.2 96.3,45.3 97.7,48.5 98.3,49.1 97.5,45.6 97,42.8 97.2,42.3 97.5,41.9 97.8,41.5 98.1,41.2 98.4,41.1 98.8,41 99.2,41 99.5,40.9 99.9,40.8 100.2,40.5 100.3,39.4 100.4,38.3 101.1,39.2 101.7,40.2 102.2,40.4 102.5,40.1 102.8,39.8 103.1,39.5 103.5,39.4 103.9,39.4 104.2,39.3 104.5,38.8 104.7,37.8 104.9,36.8 105.1,35.9 105.6,36.5 106.2,37.6 106.8,38.6 107.4,39.5 107.7,39.4 108.1,39.3 108.5,39.2 109.2,41.3 110.2,45 110.9,47.2 110.7,43.4 110.5,39.7 110.8,39.7 111.5,41.7 112.2,43.7 112.2,41.4 112.3,39.1 112.3,36.3 112.7,36.6 113.2,37.1 113.6,37.7 114.1,38.3 114.5,39.1 115,39.9 115.4,40.8 115.8,40.6 116.1,39.7 116.4,38.8 116.7,37.9 117.1,38 117.6,39.4 118.1,42.7 118.7,46.1 118.9,42.9 119.1,40.4 119.5,41.4 119.9,40.9 120.2,40.1 120.5,39.2 120.9,38.5 121.2,37.6 121.6,36.7 122,35.9 122.4,36.7 122.7,37.5 123.1,38.3 123.5,38.4 L123.5,37.8 123.1,37.8 122.7,37.8 122.4,37.8 122,37.8 121.6,37.8 121.2,37.8 120.9,37.8 120.5,37.9 120.1,37.9 119.7,37.9 119.3,37.9 119,37.9 118.6,37.9 118.2,38 117.8,38 117.5,38 117.1,38 116.7,38.1 116.3,38.1 116,38.1 115.6,38.2 115.2,38.2 114.8,38.2 114.4,38.3 114.1,38.3 113.7,38.4 113.3,38.4 112.9,38.4 112.6,38.5 112.2,38.5 111.8,38.6 111.4,38.6 111.1,38.7 110.7,38.8 110.3,38.8 110,38.9 109.6,38.9 109.2,39 108.8,39.1 108.5,39.1 108.1,39.2 107.7,39.3 107.3,39.3 107,39.4 106.6,39.5 106.2,39.5 105.9,39.6 105.5,39.7 105.1,39.8 104.8,39.9 104.4,39.9 104,40 103.7,40.1 103.3,40.2 102.9,40.3 102.5,40.4 102.2,40.5 101.8,40.6 101.5,40.7 101.1,40.8 100.7,40.8 100.4,40.9 100,41.1 99.6,41.2 99.3,41.3 98.9,41.4 98.5,41.5 98.2,41.6 97.8,41.7 97.5,41.8 97.1,41.9 96.7,42 96.4,42.2 96,42.3 95.7,42.4 95.3,42.5 94.9,42.6 94.6,42.8 94.2,42.9 93.9,43 93.5,43.2 93.2,43.3 92.8,43.4 92.5,43.6 92.1,43.7 91.8,43.8 91.4,44 91.1,44.1 90.7,44.2 90.4,44.4 90,44.5 89.7,44.7 89.3,44.8 89,45 88.6,45.1 88.3,45.3 87.9,45.4 87.6,45.6 87.2,45.8 86.9,45.9 86.6,46.1 86.2,46.2 85.9,46.4 85.5,46.6 85.2,46.7 84.9,46.9 84.5,47.1 84.2,47.2 83.8,47.4 83.5,47.6 83.2,47.8 82.8,47.9 82.5,48.1 82.2,48.3 81.8,48.5 81.5,48.7 81.2,48.8 80.9,49 80.5,49.2 80.2,49.4 79.9,49.6 79.5,49.8 79.2,50 78.9,50.2 78.6,50.4 78.3,50.6 77.9,50.8 77.6,51 77.3,51.2 77,51.4 76.7,51.6 76.3,51.8 76,52 75.7,52.2 75.4,52.4 75.1,52.6 74.8,52.8 74.4,53 74.1,53.2 73.8,53.5 73.5,53.7 73.2,53.9 72.9,54.1 72.6,54.3 72.3,54.6 72,54.8 71.7,55 71.4,55.2 71.1,55.5 70.8,55.7 70.5,55.9 70.2,56.2 69.9,56.4 69.6,56.6 69.3,56.9 69,57.1 68.7,57.3 68.4,57.6 68.1,57.8 67.8,58.1 67.5,58.3 67.3,58.5 67,58.8 66.7,59 66.4,59.3 66.1,59.5 65.8,59.8 65.6,60 65.3,60.3 65,60.6 64.7,60.8 64.4,61.1 64.2,61.3 63.9,61.6 63.6,61.8 63.3,62.1 63.1,62.4 62.8,62.6 62.5,62.9 62.3,63.2 62,63.4 61.7,63.7 61.5,64 61.2,64.2 60.9,64.5 60.7,64.8 60.4,65.1 60.2,65.3 59.9,65.6 59.7,65.9 59.4,66.2 59.1,66.5 58.9,66.7 58.6,67 58.4,67.3 58.1,67.6 57.9,67.9 57.6,68.2 57.4,68.4 57.2,68.7 56.9,69 56.7,69.3 56.4,69.6 56.2,69.9 56,70.2 55.7,70.5 55.5,70.8 55.3,71.1 55,71.4 54.8,71.7 54.6,72 54.3,72.3 54.1,72.6 53.9,72.9 53.7,73.2 53.4,73.5 53.2,73.8 53,74.1 52.8,74.4 52.6,74.7 52.3,75 52.1,75.3 51.9,75.7 51.7,76 51.5,76.3 51.3,76.6 51.1,76.9 50.9,77.2 50.7,77.6 50.5,77.9 50.3,78.2 50.1,78.5 49.9,78.8 49.7,79.2 49.5,79.5 49.3,79.8 49.1,80.1 48.9,80.4 48.7,80.8 48.5,81.1 48.3,81.4 48.1,81.8 47.9,82.1 47.8,82.4 47.6,82.7 47.4,83.1 47.2,83.4 47,83.7 46.9,84.1 46.7,84.4 46.5,84.7 46.3,85.1 46.2,85.4 46,85.8 45.8,86.1 45.7,86.4 45.5,86.8 45.3,87.1 45.2,87.5 45,87.8 44.9,88.1 44.7,88.5 44.5,88.8 44.4,89.2 44.2,89.5 44.1,89.9 43.9,90.2 43.8,90.6 43.6,90.9 43.5,91.3 43.3,91.6 43.2,92 43.1,92.3 42.9,92.7 42.8,93 42.7,93.4 42.5,93.7 42.4,94.1 42.3,94.4 42.1,94.8 42,95.1 41.9,95.5 41.7,95.8 41.6,96.2 41.5,96.6 41.4,96.9 41.3,97.3 41.1,97.6 41,98 40.9,98.4 40.8,98.7 40.7,99.1 40.6,99.4 40.5,99.8 40.4,100.2 40.3,100.5 40.2,100.9 40,101.3 39.9,101.6 39.9,102 39.8,102.4 39.7,102.7 39.6,103.1 39.5,103.4 39.4,103.8 39.3,104.2 39.2,104.6 39.1,104.9 39,105.3 39,105.7 38.9,106 38.8,106.4 38.7,106.8 38.6,107.1 38.6,107.5 38.5,107.9 38.4,108.2 38.4,108.6 38.3,109 38.2,109.4 38.2,109.7 38.1,110.1 38,110.5 38,110.9 37.9,111.2 37.9,111.6 37.8,112 37.7,112.3 37.7,112.7 37.6,113.1 37.6,113.5 37.5,113.8 37.5,114.2 37.5,114.6 37.4,115 37.4,115.3 37.3,115.7 37.3,116.1 37.3,116.5 37.2,116.9 37.2,117.2 37.2,117.6 37.1,118 37.1,118.4 37.1,118.7 37.1,119.1 37,119.5 37,119.9 37,120.2 37,120.6 37,121 37,121.4 36.9,121.8 36.9,122.1 36.9,122.5 36.9,122.9 36.9,123.3 36.9,123.6 36.9,124 36.9,124.4 36.9,124.8 36.9,125.2 36.9,125.5 36.9,125.9 36.9,126.3 36.9,126.7 36.9,127 37,127.4 37,127.8 37,128.2 37,128.6 37,128.9 37,129.3 37.1,129.7 37.1,130.1 37.1,130.4 37.1,130.8 37.2,131.2 37.2,131.6 37.2,131.9 37.3,132.3 37.3,132.7 37.3,133.1 37.4,133.5 37.4,133.8 37.5,134.2 37.5,134.6 37.5,135 37.6,135.3 37.6,135.7 37.7,136.1 37.7,136.5 37.8,136.8 37.9,137.2 37.9,137.6 38,137.9 38,138.3 38.1,138.7 38.2,139.1 38.2,139.4 38.3,139.8 38.4,140.2 38.4,140.6 38.5,140.9 38.6,141.3 38.6,141.7 38.7,142 38.8,142.4 38.9,142.8 39,143.1 39,143.5 39.1,143.9 39.2,144.2 39.3,144.6 39.4,145 39.5,145.4 39.6,145.7 39.7,146.1 39.8,146.4 39.9,146.8 39.9,147.2 40,147.5 40.2,147.9 40.3,148.3 40.4,148.6 40.5,149 40.6,149.4 40.7,149.7 40.8,150.1 40.9,150.4 41,150.8 41.1,151.2 41.3,151.5 41.4,151.9 41.5,152.2 41.6,152.6 41.7,153 41.9,153.3 42,153.7 42.1,154 42.3,154.4 42.4,154.7 42.5,155.1 42.7,155.4 42.8,155.8 42.9,156.1 43.1,156.5 43.2,156.8 43.3,157.2 43.5,157.5 43.6,157.9 43.8,158.2 43.9,158.6 44.1,158.9 44.2,159.3 44.4,159.6 44.5,160 44.7,160.3 44.9,160.7 45,161 45.2,161.3 45.3,161.7 45.5,162 45.7,162.4 45.8,162.7 46,163 46.2,163.4 46.3,163.7 46.5,164.1 46.7,164.4 46.9,164.7 47,165.1 47.2,165.4 47.4,165.7 47.6,166.1 47.8,166.4 47.9,166.7 48.1,167 48.3,167.4 48.5,167.7 48.7,168 48.9,168.4 49.1,168.7 49.3,169 49.5,169.3 49.7,169.6 49.9,170 50.1,170.3 50.3,170.6 50.5,170.9 50.7,171.2 50.9,171.6 51.1,171.9 51.3,172.2 51.5,172.5 51.7,172.8 51.9,173.1 52.1,173.5 52.3,173.8 52.6,174.1 52.8,174.4 53,174.7 53.2,175 53.4,175.3 53.7,175.6 53.9,175.9 54.1,176.2 54.3,176.5 54.6,176.8 54.8,177.1 55,177.4 55.3,177.7 55.5,178 55.7,178.3 56,178.6 56.2,178.9 56.4,179.2 56.7,179.5 56.9,179.8 57.2,180.1 57.4,180.4 57.6,180.6 57.9,180.9 58.1,181.2 58.4,181.5 58.6,181.8 58.9,182.1 59.1,182.3 59.4,182.6 59.7,182.9 59.9,183.2 60.2,183.5 60.4,183.7 60.7,184 60.9,184.3 61.2,184.6 61.5,184.8 61.7,185.1 62,185.4 62.3,185.6 62.5,185.9 62.8,186.2 63.1,186.4 63.3,186.7 63.6,187 63.9,187.2 64.2,187.5 64.4,187.7 64.7,188 65,188.2 65.3,188.5 65.6,188.8 65.8,189 66.1,189.3 66.4,189.5 66.7,189.8 67,190 67.3,190.3 67.5,190.5 67.8,190.7 68.1,191 68.4,191.2 68.7,191.5 69,191.7 69.3,191.9 69.6,192.2 69.9,192.4 70.2,192.6 70.5,192.9 70.8,193.1 71.1,193.3 71.4,193.6 71.7,193.8 72,194 72.3,194.2 72.6,194.5 72.9,194.7 73.2,194.9 73.5,195.1 73.8,195.3 74.1,195.6 74.4,195.8 74.8,196 75.1,196.2 75.4,196.4 75.7,196.6 76,196.8 76.3,197 76.7,197.2 77,197.4 77.3,197.6 77.6,197.8 77.9,198 78.3,198.2 78.6,198.4 78.9,198.6 79.2,198.8 79.5,199 79.9,199.2 80.2,199.4 80.5,199.6 80.9,199.8 81.2,200 81.5,200.1 81.8,200.3 82.2,200.5 82.5,200.7 82.8,200.9 83.2,201 83.5,201.2 83.8,201.4 84.2,201.6 84.5,201.7 84.9,201.9 85.2,202.1 85.5,202.2 85.9,202.4 86.2,202.6 86.6,202.7 86.9,202.9 87.2,203 87.6,203.2 87.9,203.4 88.3,203.5 88.6,203.7 89,203.8 89.3,204 89.7,204.1 90,204.3 90.4,204.4 90.7,204.6 91.1,204.7 91.4,204.8 91.8,205 92.1,205.1 92.5,205.2 92.8,205.4 93.2,205.5 93.5,205.6 93.9,205.8 94.2,205.9 94.6,206 94.9,206.2 95.3,206.3 95.7,206.4 96,206.5 96.4,206.6 96.7,206.8 97.1,206.9 97.5,207 97.8,207.1 98.2,207.2 98.5,207.3 98.9,207.4 99.3,207.5 99.6,207.6 100,207.7 100.4,207.9 100.7,208 101.1,208 101.5,208.1 101.8,208.2 102.2,208.3 102.5,208.4 102.9,208.5 103.3,208.6 103.7,208.7 104,208.8 104.4,208.9 104.8,208.9 105.1,209 105.5,209.1 105.9,209.2 106.2,209.3 106.6,209.3 107,209.4 107.3,209.5 107.7,209.5 108.1,209.6 108.5,209.7 108.8,209.7 109.2,209.8 109.6,209.9 110,209.9 110.3,210 110.7,210 111.1,210.1 111.4,210.2 111.8,210.2 112.2,210.3 112.6,210.3 112.9,210.4 113.3,210.4 113.7,210.4 114.1,210.5 114.4,210.5 114.8,210.6 115.2,210.6 115.6,210.6 116,210.7 116.3,210.7 116.7,210.7 117.1,210.8 117.5,210.8 117.8,210.8 118.2,210.8 118.6,210.9 119,210.9 119.3,210.9 119.7,210.9 120.1,210.9 120.5,210.9 120.9,211 121.2,211 121.6,211 122,211 122.4,211 122.7,211 123.1,211 123.5,211 123.9,211 124.3,211 124.6,211 125,211 125.4,211 125.8,211 126.1,211 126.5,210.9 126.9,210.9 127.3,210.9 127.7,210.9 128,210.9 128.4,210.9 128.8,210.8 129.2,210.8 129.5,210.8 129.9,210.8 130.3,210.7 130.7,210.7 131,210.7 131.4,210.6 131.8,210.6 132.2,210.6 132.6,210.5 132.9,210.5 133.3,210.4 133.7,210.4 134.1,210.4 134.4,210.3 134.8,210.3 135.2,210.2 135.6,210.2 135.9,210.1 136.3,210 136.7,210 137,209.9 137.4,209.9 137.8,209.8 138.2,209.7 138.5,209.7 138.9,209.6 139.3,209.5 139.7,209.5 140,209.4 140.4,209.3 140.8,209.3 141.1,209.2 141.5,209.1 141.9,209 142.2,208.9 142.6,208.9 143,208.8 143.3,208.7 143.7,208.6 144.1,208.5 144.5,208.4 144.8,208.3 145.2,208.2 145.5,208.1 145.9,208 146.3,208 146.6,207.9 147,207.7 147.4,207.6 147.7,207.5 148.1,207.4 148.5,207.3 148.8,207.2 149.2,207.1 149.5,207 149.9,206.9 150.3,206.8 150.6,206.6 151,206.5 151.3,206.4 151.7,206.3 152.1,206.2 152.4,206 152.8,205.9 153.1,205.8 153.5,205.6 153.8,205.5 154.2,205.4 154.5,205.2 154.9,205.1 155.2,205 155.6,204.8 155.9,204.7 156.3,204.6 156.6,204.4 157,204.3 157.3,204.1 157.7,204 158,203.8 158.4,203.7 158.7,203.5 159.1,203.4 159.4,203.2 159.8,203 160.1,202.9 160.4,202.7 160.8,202.6 161.1,202.4 161.5,202.2 161.8,202.1 162.1,201.9 162.5,201.7 162.8,201.6 163.2,201.4 163.5,201.2 163.8,201 164.2,200.9 164.5,200.7 164.8,200.5 165.2,200.3 165.5,200.1 165.8,200 166.1,199.8 166.5,199.6 166.8,199.4 167.1,199.2 167.5,199 167.8,198.8 168.1,198.6 168.4,198.4 168.7,198.2 169.1,198 169.4,197.8 169.7,197.6 170,197.4 170.3,197.2 170.7,197 171,196.8 171.3,196.6 171.6,196.4 171.9,196.2 172.2,196 172.6,195.8 172.9,195.6 173.2,195.3 173.5,195.1 173.8,194.9 174.1,194.7 174.4,194.5 174.7,194.2 175,194 175.3,193.8 175.6,193.6 175.9,193.3 176.2,193.1 176.5,192.9 176.8,192.6 177.1,192.4 177.4,192.2 177.7,191.9 178,191.7 178.3,191.5 178.6,191.2 178.9,191 179.2,190.7 179.5,190.5 179.7,190.3 180,190 180.3,189.8 180.6,189.5 180.9,189.3 181.2,189 181.4,188.8 181.7,188.5 182,188.2 182.3,188 182.6,187.7 182.8,187.5 183.1,187.2 183.4,187 183.7,186.7 183.9,186.4 184.2,186.2 184.5,185.9 184.7,185.6 185,185.4 185.3,185.1 185.5,184.8 185.8,184.6 186.1,184.3 186.3,184 186.6,183.7 186.8,183.5 187.1,183.2 187.3,182.9 187.6,182.6 187.9,182.3 188.1,182.1 188.4,181.8 188.6,181.5 188.9,181.2 189.1,180.9 189.4,180.6 189.6,180.4 189.8,180.1 190.1,179.8 190.3,179.5 190.6,179.2 190.8,178.9 191,178.6 191.3,178.3 191.5,178 191.7,177.7 192,177.4 192.2,177.1 192.4,176.8 192.7,176.5 192.9,176.2 193.1,175.9 193.3,175.6 193.6,175.3 193.8,175 194,174.7 194.2,174.4 194.4,174.1 194.7,173.8 194.9,173.5 195.1,173.1 195.3,172.8 195.5,172.5 195.7,172.2 195.9,171.9 196.1,171.6 196.3,171.2 196.5,170.9 196.7,170.6 196.9,170.3 197.1,170 197.3,169.6 197.5,169.3 197.7,169 197.9,168.7 198.1,168.4 198.3,168 198.5,167.7 198.7,167.4 198.9,167 199.1,166.7 199.2,166.4 199.4,166.1 199.6,165.7 199.8,165.4 200,165.1 200.1,164.7 200.3,164.4 200.5,164.1 200.7,163.7 200.8,163.4 201,163 201.2,162.7 201.3,162.4 201.5,162 201.7,161.7 201.8,161.3 202,161 202.1,160.7 202.3,160.3 202.5,160 202.6,159.6 202.8,159.3 202.9,158.9 203.1,158.6 203.2,158.2 203.4,157.9 203.5,157.5 203.7,157.2 203.8,156.8 203.9,156.5 204.1,156.1 204.2,155.8 204.3,155.4 204.5,155.1 204.6,154.7 204.7,154.4 204.9,154 205,153.7 205.1,153.3 205.3,153 205.4,152.6 205.5,152.2 205.6,151.9 205.7,151.5 205.9,151.2 206,150.8 206.1,150.4 206.2,150.1 206.3,149.7 206.4,149.4 206.5,149 206.6,148.6 206.7,148.3 206.8,147.9 207,147.5 207.1,147.2 207.1,146.8 207.2,146.4 207.3,146.1 207.4,145.7 207.5,145.4 207.6,145 207.7,144.6 207.8,144.2 207.9,143.9 208,143.5 208,143.1 208.1,142.8 208.2,142.4 208.3,142 208.4,141.7 208.4,141.3 208.5,140.9 208.6,140.6 208.6,140.2 208.7,139.8 208.8,139.4 208.8,139.1 208.9,138.7 209,138.3 209,137.9 209.1,137.6 209.1,137.2 209.2,136.8 209.3,136.5 209.3,136.1 209.4,135.7 209.4,135.3 209.5,135 209.5,134.6 209.5,134.2 209.6,133.8 209.6,133.5 209.7,133.1 209.7,132.7 209.7,132.3 209.8,131.9 209.8,131.6 209.8,131.2 209.9,130.8 209.9,130.4 209.9,130.1 209.9,129.7 210,129.3 210,128.9 210,128.6 210,128.2 210,127.8 210,127.4 210.1,127 210.1,126.7 210.1,126.3 210.1,125.9 210.1,125.5 210.1,125.2 210.1,124.8 210.1,124.4 210.1,124 210.1,123.6 210.1,123.3 210.1,122.9 210.1,122.5 210.1,122.1 210.1,121.8 210,121.4 210,121 210,120.6 210,120.2 210,119.9 210,119.5 209.9,119.1 209.9,118.7 209.9,118.4 209.9,118 209.8,117.6 209.8,117.2 209.8,116.9 209.7,116.5 209.7,116.1 209.7,115.7 209.6,115.3 209.6,115 209.5,114.6 209.5,114.2 209.5,113.8 209.4,113.5 209.4,113.1 209.3,112.7 209.3,112.3 209.2,112 209.1,111.6 209.1,111.2 209,110.9 209,110.5 208.9,110.1 208.8,109.7 208.8,109.4 208.7,109 208.6,108.6 208.6,108.2 208.5,107.9 208.4,107.5 208.4,107.1 208.3,106.8 208.2,106.4 208.1,106 208,105.7 208,105.3 207.9,104.9 207.8,104.6 207.7,104.2 207.6,103.8 207.5,103.4 207.4,103.1 207.3,102.7 207.2,102.4 207.1,102 207.1,101.6 207,101.3 206.8,100.9 206.7,100.5 206.6,100.2 206.5,99.8 206.4,99.4 206.3,99.1 206.2,98.7 206.1,98.4 206,98 205.9,97.6 205.7,97.3 205.6,96.9 205.5,96.6 205.4,96.2 205.3,95.8 205.1,95.5 205,95.1 204.9,94.8 204.7,94.4 204.6,94.1 204.5,93.7 204.3,93.4 204.2,93 204.1,92.7 203.9,92.3 203.8,92 203.7,91.6 203.5,91.3 203.4,90.9 203.2,90.6 203.1,90.2 202.9,89.9 202.8,89.5 202.6,89.2 202.5,88.8 202.3,88.5 202.1,88.1 202,87.8 201.8,87.5 201.7,87.1 201.5,86.8 201.3,86.4 201.2,86.1 201,85.8 200.8,85.4 200.7,85.1 200.5,84.7 200.3,84.4 200.1,84.1 200,83.7 199.8,83.4 199.6,83.1 199.4,82.7 199.2,82.4 199.1,82.1 198.9,81.8 198.7,81.4 198.5,81.1 198.3,80.8 198.1,80.4 197.9,80.1 197.7,79.8 197.5,79.5 197.3,79.2 197.1,78.8 196.9,78.5 196.7,78.2 196.5,77.9 196.3,77.6 196.1,77.2 195.9,76.9 195.7,76.6 195.5,76.3 195.3,76 195.1,75.7 194.9,75.3 194.7,75 194.4,74.7 194.2,74.4 194,74.1 193.8,73.8 193.6,73.5 193.3,73.2 193.1,72.9 192.9,72.6 192.7,72.3 192.4,72 192.2,71.7 192,71.4 191.7,71.1 191.5,70.8 191.3,70.5 191,70.2 190.8,69.9 190.6,69.6 190.3,69.3 190.1,69 189.8,68.7 189.6,68.4 189.4,68.2 189.1,67.9 188.9,67.6 188.6,67.3 188.4,67 188.1,66.7 187.9,66.5 187.6,66.2 187.3,65.9 187.1,65.6 186.8,65.3 186.6,65.1 186.3,64.8 186.1,64.5 185.8,64.2 185.5,64 185.3,63.7 185,63.4 184.7,63.2 184.5,62.9 184.2,62.6 183.9,62.4 183.7,62.1 183.4,61.8 183.1,61.6 182.8,61.3 182.6,61.1 182.3,60.8 182,60.6 181.7,60.3 181.4,60 181.2,59.8 180.9,59.5 180.6,59.3 180.3,59 180,58.8 179.7,58.5 179.5,58.3 179.2,58.1 178.9,57.8 178.6,57.6 178.3,57.3 178,57.1 177.7,56.9 177.4,56.6 177.1,56.4 176.8,56.2 176.5,55.9 176.2,55.7 175.9,55.5 175.6,55.2 175.3,55 175,54.8 174.7,54.6 174.4,54.3 174.1,54.1 173.8,53.9 173.5,53.7 173.2,53.5 172.9,53.2 172.6,53 172.2,52.8 171.9,52.6 171.6,52.4 171.3,52.2 171,52 170.7,51.8 170.3,51.6 170,51.4 169.7,51.2 169.4,51 169.1,50.8 168.7,50.6 168.4,50.4 168.1,50.2 167.8,50 167.5,49.8 167.1,49.6 166.8,49.4 166.5,49.2 166.1,49 165.8,48.8 165.5,48.7 165.2,48.5 164.8,48.3 164.5,48.1 164.2,47.9 163.8,47.8 163.5,47.6 163.2,47.4 162.8,47.2 162.5,47.1 162.1,46.9 161.8,46.7 161.5,46.6 161.1,46.4 160.8,46.2 160.4,46.1 160.1,45.9 159.8,45.8 159.4,45.6 159.1,45.4 158.7,45.3 158.4,45.1 158,45 157.7,44.8 157.3,44.7 157,44.5 156.6,44.4 156.3,44.2 155.9,44.1 155.6,44 155.2,43.8 154.9,43.7 154.5,43.6 154.2,43.4 153.8,43.3 153.5,43.2 153.1,43 152.8,42.9 152.4,42.8 152.1,42.6 151.7,42.5 151.3,42.4 151,42.3 150.6,42.2 150.3,42 149.9,41.9 149.5,41.8 149.2,41.7 148.8,41.6 148.5,41.5 148.1,41.4 147.7,41.3 147.4,41.2 147,41.1 146.6,40.9 146.3,40.8 145.9,40.8 145.5,40.7 145.2,40.6 144.8,40.5 144.5,40.4 144.1,40.3 143.7,40.2 143.3,40.1 143,40 142.6,39.9 142.2,39.9 141.9,39.8 141.5,39.7 141.1,39.6 140.8,39.5 140.4,39.5 140,39.4 139.7,39.3 139.3,39.3 138.9,39.2 138.5,39.1 138.2,39.1 137.8,39 137.4,38.9 137,38.9 136.7,38.8 136.3,38.8 135.9,38.7 135.6,38.6 135.2,38.6 134.8,38.5 134.4,38.5 134.1,38.4 133.7,38.4 133.3,38.4 132.9,38.3 132.6,38.3 132.2,38.2 131.8,38.2 131.4,38.2 131,38.1 130.7,38.1 130.3,38.1 129.9,38 129.5,38 129.2,38 128.8,38 128.4,37.9 128,37.9 127.7,37.9 127.3,37.9 126.9,37.9 126.5,37.9 126.1,37.8 125.8,37.8 125.4,37.8 125,37.8 124.6,37.8 124.3,37.8 123.9,37.8 123.5,37.8Z" fill="#000"/><path d="M123.5,38.4 123.9,38.4 124.3,38.4 124.6,38.4 125,38 125.4,36.9 125.8,35.9 126.2,34.8 126.6,36.4 126.9,38.6 127.3,38.1 127.7,37.7 128.1,36.7 128.4,37.4 128.8,38.2 129,40.3 129.4,40.2 129.8,40.2 130.1,40.1 130.6,39.5 131,38.8 131.4,38.1 131.8,37.7 132.2,37.6 132.6,37.5 133,37.4 133.4,37.5 133.8,37.6 134.1,37.7 134.5,38 134.8,38.7 135.1,39.4 135.4,40 135.7,40 136.4,38.2 137.1,36.3 137.8,34.4 137.9,36.2 137.9,38.1 138.4,37.8 138.8,37.8 139.1,38.1 139.4,38.4 139.8,38.7 140,39.8 140.1,41.1 140.2,42.4 140.4,43.2 141,42.1 141.6,41 142.2,40 142.6,40 142.8,40.9 143,41.7 143.2,42.5 143.6,42.1 144.1,41.6 144.6,41.2 145.3,40.1 146,39 146.7,37.8 146.8,39 146.8,40.3 147.1,40.7 147.4,41 147.7,41.3 148.1,41.5 148.4,41.6 148.8,41.7 149.1,41.9 149.5,42 149.9,42 150.2,42.1 150.9,41.3 150.8,42.7 150.6,44.6 150.3,46.7 151.2,44.9 152.2,43.2 153.1,42 153.5,41.9 154,41.6 153.7,43.5 153.5,45.2 153.1,47.2 154,46 154.4,46 154.7,46.3 155.3,45.7 156,45 156.6,44.4 157,44.5 157.4,44.6 157.8,44.6 158.1,44.7 158.5,44.9 158.8,45 159.2,45.2 159.6,45.3 159.9,45.3 160.3,45.4 160.7,45.5 161,45.9 161.2,46.2 161.5,46.6 161.6,47 161.8,47.6 161.9,48.2 162.1,48.7 162.5,48.7 162.9,48.7 163.3,48.7 163.7,48.7 164.2,48.7 164.6,48.7 165,48.7 165.4,48.7 165.8,48.8 166.4,48.6 167.4,47.7 168.3,46.7 168.1,48 167.8,49.2 168.1,49.4 168.4,49.7 168.7,49.9 169,50.2 169.2,50.6 169.3,51.1 169.5,51.5 169.5,52.1 169.4,53 169.3,53.9 169.2,54.8 169,55.6 169.8,55.1 170.6,54.6 171.3,54.1 172.1,53.7 172.8,53.4 173.1,53.6 173.5,53.7 173.4,54.4 172.8,55.9 172.2,57.4 173.5,56.3 174.8,55.1 176.4,53.6 176.7,53.7 176.8,54.3 176.9,54.8 177,55.3 177.2,55.7 177.3,56.1 177.1,57 176.6,58.2 176.1,59.4 177.2,58.7 178.3,57.9 179.4,57.2 180.2,56.8 181,56.5 181.8,56.1 181.5,57.1 181.1,58.1 180.8,59.1 180.7,59.7 181.1,59.9 181.4,60.1 181.8,60.2 181.8,60.8 181.7,61.5 181.5,62.2 181.6,62.6 182.4,62.4 183.1,62.1 183.9,61.9 184.2,62.1 184.2,62.6 184.3,63.1 184.3,63.6 184.2,64.2 183.8,65.1 183.4,66.1 183,66.9 182.6,67.8 182.3,68.6 181.9,69.4 181.4,70.4 182.2,70.1 183.1,69.8 184,69.5 185,69.1 185.9,68.7 186.9,68.3 188,67.8 190.2,66.4 191,66.2 191.8,66 191.4,66.9 191,67.7 190.6,68.6 190.4,69.3 190.3,69.8 190.3,70.3 190.3,70.8 190.7,71 191.1,71.1 191.6,71.2 192,71.3 192.1,71.8 192.1,72.3 192.1,72.7 192.3,73 192.6,73.3 192.8,73.6 193.1,73.8 193.6,73.9 194.1,74 194.6,74.2 194.9,74.4 195,74.8 194.4,75.6 193.4,76.8 192.4,77.9 193.7,77.5 195.2,76.9 195.4,77.3 196.2,77.2 197,77.1 197.8,77 198,77.4 197.6,78.1 197.2,78.8 196.9,79.4 196,80.4 195.1,81.4 196.4,81 197.7,80.7 198.4,80.7 198.8,80.9 199.2,81.1 199.3,81.5 199.3,82 199.3,82.4 199.4,82.8 199.7,83 199.1,83.8 197.6,85 196,86.3 195.8,86.8 197.7,86.2 199.6,85.6 201,85.3 201,85.7 201.1,86.1 201,86.6 200.6,87.2 200.2,87.8 199.9,88.4 200.5,88.5 201.3,88.5 202.1,88.6 202.9,88.6 203.5,88.8 204.1,88.9 204.7,89.1 204.7,89.5 204.2,90.2 204.8,90.3 207.1,89.8 208.7,89.6 206.5,90.9 204.3,92.2 203.5,92.9 203.7,93.2 203.9,93.5 204.1,93.9 204.4,94.2 204.6,94.5 204.9,94.8 204.9,95.2 204.1,95.9 203.2,96.6 202.4,97.2 202.6,97.5 203.6,97.6 204.6,97.6 203.9,98.3 204.8,98.4 203.9,99.1 203,99.7 202.9,100.1 204.2,100.1 205.5,100.1 206.7,100.1 206.4,100.6 205.7,101.2 205,101.8 204.6,102.3 205.3,102.5 205.9,102.7 206.6,102.9 207,103.2 207.2,103.5 207.4,103.9 207.5,104.2 207.8,104.6 208,104.9 208.2,105.2 208.3,105.6 208.4,106 208.4,106.4 208.4,106.7 208.3,107.1 208.1,107.6 208,108 207.9,108.4 208.9,108.6 209.9,108.8 210.9,109 210.2,109.5 209.4,110 209.1,110.5 208.8,110.9 208.7,111.3 208.7,111.7 208.6,112.1 208.7,112.4 208.9,112.8 209.1,113.1 209.2,113.5 209.4,113.8 209.6,114.2 209.8,114.6 210.2,114.9 211,115.2 211.8,115.5 210,116.1 209.1,116.5 208.2,117 208.9,117.3 209.6,117.6 210.2,118 210,118.4 209.8,118.7 209.8,119.1 209.9,119.5 210.1,119.9 210.2,120.2 210.5,120.6 210.8,121 211.1,121.3 211.3,121.7 210.8,122.1 210.4,122.5 209.9,122.9 209.4,123.3 208.9,123.7 208.4,124 207.9,124.4 208.5,124.8 209.1,125.1 209.7,125.5 210,125.9 209.9,126.3 210.3,126.7 211.1,127.1 212,127.5 211.1,127.8 210.3,128.2 209.7,128.5 209.6,128.9 209.4,129.3 209.2,129.6 209.2,130 209.5,130.4 209.7,130.8 209.4,131.2 208.1,131.4 206.8,131.7 208.1,132.2 209.3,132.7 210.1,133.1 210.2,133.5 210.2,133.9 210,134.3 209.8,134.6 209.6,135 209.4,135.3 209.4,135.7 209.4,136.1 209.4,136.5 209.7,136.9 210.2,137.4 210.8,137.8 211.3,138.3 209.7,138.4 209.1,138.7 209.5,139.2 210.2,139.7 209.5,139.9 208.8,140.2 209,140.6 209,141 208.8,141.4 208.5,141.7 208.3,142 208.3,142.4 208.2,142.8 208.1,143.2 208.3,143.6 208.7,144.1 209.1,144.5 209.4,145 208.7,145.3 208,145.5 207.3,145.7 206.9,146 206.9,146.4 206.9,146.7 206.8,147.1 206.9,147.5 206.9,147.9 207,148.3 207.1,148.8 207.3,149.2 207.6,149.7 207.9,150.2 207.6,150.5 206.9,150.7 206.3,150.9 205.6,151.1 206.3,151.7 207,152.3 207.7,153 207.8,153.4 207,153.6 206.2,153.7 205.5,153.8 201.8,152.9 197.8,151.8 196.9,151.8 200.6,153.6 204.4,155.4 204.2,155.8 203.9,156.1 203.6,156.4 203.4,156.7 203.1,157 202.9,157.3 202.9,157.7 202.8,158.1 202.8,158.5 202.7,158.8 202.5,159.2 202.3,159.5 202.1,159.8 201.7,160 200,159.7 198.4,159.3 199.8,160.4 201.1,161.4 201.7,162.1 201.4,162.4 201.2,162.7 201.1,163.1 201,163.5 200.9,163.8 200.7,164.2 200.6,164.5 200.5,164.9 200.3,165.3 200.3,165.6 200.2,166 200.1,166.4 199.4,166.4 198.4,166.4 197.5,166.3 196.9,166.3 197.5,167.1 198.2,168 198.8,168.8 198.8,169.2 198.4,169.4 197.9,169.5 196.8,169.3 195.2,168.8 193.6,168.2 194.8,169.4 196.1,170.6 197,171.7 197.1,172.2 197.1,172.6 196.6,172.8 196.1,172.9 195.6,173 195.1,173.2 194.5,173.2 193.2,172.8 192,172.3 192.8,173.4 193.6,174.4 193.7,175 193.5,175.3 193.6,175.8 193.7,176.3 193.7,176.8 193.6,177.2 193,177.3 192.5,177.3 191.9,177.4 191.8,177.8 191.8,178.2 191.8,178.7 191.6,179.1 191.1,179.2 190.6,179.2 190.5,179.7 190.9,180.5 191.4,181.4 190.5,181.2 189.9,181.1 189.5,181.3 189.1,181.4 188.7,181.6 188.4,181.9 188.3,182.2 188.1,182.6 188,183 187.8,183.3 187.6,183.7 187.5,184 187.3,184.4 187.2,184.9 187.2,185.3 187.1,185.8 186.6,185.9 185.9,185.7 185.2,185.6 184.5,185.4 184.6,186 184.7,186.6 184.7,187.2 184.5,187.6 183.9,187.5 183.3,187.4 182.7,187.3 182.4,187.6 182.2,187.9 181.9,188.2 181.7,188.5 181.4,188.7 181.1,189 180.9,189.3 180.6,189.5 180.3,189.7 180,189.9 179.7,190.2 179.3,190.3 179,190.5 178.7,190.7 178.4,191 178.2,191.4 178.1,191.8 177.9,192.2 177.8,192.6 176.9,192.1 176.3,192 175.7,191.9 175.1,191.7 174.5,191.5 173.9,191.2 173.9,191.9 173.9,192.6 174,193.2 174,193.9 174,194.5 174.3,195.6 173.7,195.4 173.3,195.6 173.3,196.2 173.2,196.7 173.2,197.3 172.7,197.3 172.1,197.1 171.5,197 171.1,196.9 171,197.5 170.9,198.1 170.8,198.7 170.5,198.8 169.9,198.6 169.3,198.5 168.8,198.3 168.4,198.4 168.1,198.6 167.7,198.7 167.6,199.3 167.8,200.3 167.9,201.3 167.3,201.1 166.9,201.1 166.4,201 165.9,200.9 165.4,200.8 165.1,200.9 164.7,201.1 164.4,201.2 164,201.4 163.6,201.5 163.3,201.7 162.9,201.8 162.6,202 162.3,202.2 162,202.4 161.6,202.6 161.3,202.8 161,203 160.6,203.1 160.3,203.2 159.9,203.3 159.5,203.4 159.1,203.4 158.7,203.5 158.4,203.6 158,203.7 157.8,204.3 157.8,205.3 157.8,206.3 157.8,207.2 157.2,206.7 156.5,206.2 155.9,205.6 155.3,205 155,205.4 154.8,205.9 154.5,206.3 154.4,207 154.2,207.7 154.1,208.5 153.6,208.3 153.1,207.9 152.6,207.6 152,207.2 151.5,206.9 150.9,206.2 150.4,206.1 150,206 149.7,206.2 149.4,206.5 149.1,206.7 148.7,206.9 148.4,207.1 148.1,207.4 147.7,207.6 147.4,207.7 147,207.7 146.6,207.7 146.2,207.8 145.9,207.9 145.5,207.9 144.5,205.4 143.4,202.9 142.4,200.3 142.8,203.3 143.2,206.3 143.7,210.1 143.1,209.5 142.6,208.8 142,207.9 141.1,205.5 140.2,203.1 140.4,205.6 140.5,208.2 140.3,209 140,209.1 139.6,209.3 139.2,209.3 138.8,209.2 138.5,209.2 138,209 137.6,208.5 137.1,208.1 136.7,207.7 136.4,208.3 136.1,208.9 135.8,209.5 135.5,210.1 135.2,210.6 134.9,211.1 134.6,211.7 134.2,211.8 133.9,211.9 133.5,212 133.1,212 132.7,211.9 132.3,211.8 132,212.3 131.7,213.1 131.3,214 130.9,213.3 130.4,212.6 130.1,212.6 129.7,212.5 129.3,212.4 128.9,212.5 128.5,212.9 128.2,213.3 127.8,213.6 127.4,213 126.9,212.1 126.5,211.2 126.2,211.7 125.8,212.6 125.4,213.5 125.1,214.5 124.7,213.8 124.3,213.8 123.9,213.8 123.5,213.7 123.1,214 122.7,214.2 122.3,214.4 121.9,214.5 121.5,214.2 121.2,213.9 120.8,213.7 120.4,214.5 120,213.3 119.6,213.1 119.3,212.9 118.9,212.4 118.5,212 118.2,211.5 117.8,212 117.3,213 116.8,214 116.4,215.1 116,214.7 115.6,214.4 115.3,214.1 114.9,213.7 114.6,213.3 114.2,212.9 113.9,212.4 113.4,212.7 113,213 112.6,213.4 112.2,213.6 111.8,213.3 111.4,213 111.1,212.7 110.8,212.1 110.5,211.2 110.3,210.4 110,209.6 109.5,210.2 109,210.8 108.5,211.4 108.1,211.8 107.7,211.8 107.3,211.8 106.9,211.8 106.5,211.8 106.1,211.8 105.7,211.7 105.3,211.7 104.9,211.9 104.5,212.1 105.1,207.2 105.5,204.1 105.3,203.4 104.2,206.3 103.1,209.2 102.2,211.4 101.9,211 101.6,210.7 101.3,210.4 100.9,210.2 100.5,210.1 100.2,209.9 99.8,209.7 99.5,209.5 99.2,209.3 98.8,209 98.6,208.5 98.2,208.6 97.6,209.2 97.5,208.3 97.2,207.8 96.7,208.1 96.2,208.4 96,207.9 95.7,207.4 95.5,206.9 95.2,206.6 94.8,206.5 94.4,206.5 94,206.4 93.6,206.5 93.2,206.5 92.8,206.6 92.4,206.5 92.1,206.3 91.8,206 91.5,205.7 91.1,205.5 90.7,205.5 90.4,205.4 90,205.3 89.5,205.5 88.9,205.8 88.4,206 88,206 87.8,205.5 87.6,205 87.4,204.5 87.7,202.9 87.9,201.6 88.1,200.2 87.3,201.2 86.4,202.2 85.3,203.6 84.7,204 84.2,204 83.9,203.9 83.5,203.8 83.1,203.6 82.9,203.1 82.8,202.7 82.6,202.2 82.5,201.6 82.5,200.8 82.5,200 82.5,199.2 81.7,199.8 80.7,200.8 79.8,201.7 78.9,202.4 78.7,202 78.5,201.5 78.3,201.1 78,201 77.5,200.9 77.1,200.9 76.7,200.8 76.6,200.2 76.5,199.6 77.5,197.3 77.6,196.5 77.6,195.8 77.6,195.1 76.7,195.7 76.1,196.1 75.4,196.4 73.6,198.5 73.5,197.9 72.5,198.5 71.6,199.2 70.7,199.8 70.4,199.5 73,195.2 73.5,193.8 74,192.5 73,193.3 72,194 70.2,195.8 69.9,195.6 69.5,195.4 69.1,195.3 68.7,195.1 68.4,195 68,194.8 67.6,194.7 67.2,194.6 66.9,194.3 66.6,194.1 66.3,193.8 66.2,193.3 66.3,192.6 66.4,191.9 66.5,191.1 65.5,191.7 64.5,192.3 63.5,192.8 65.7,189.7 66.1,188.7 66.5,187.7 65.7,188 64.9,188.4 63,189.9 62.6,189.8 62.2,189.6 62,189.2 61.8,188.9 61.6,188.5 61.1,188.4 62.6,186.4 62.8,185.6 63,184.9 62.2,185.1 61.5,185.4 59.3,187 59.3,186.4 59.1,186 59,185.6 58.9,185.2 58.2,185.3 57.3,185.6 56.5,185.8 55.9,185.8 56.5,184.7 57.1,183.6 57.7,182.6 57.6,182.2 57.1,182.1 56.5,182.1 56,182.1 56.4,181.2 56.9,180.3 57.3,179.4 57.1,179.2 57.3,178.5 57.8,177.6 58.3,176.7 59.2,175.6 60.1,174.4 61.1,173.1 60.1,173.5 58.8,174 57.6,174.5 56.3,175 55.1,175.5 53.7,176 53.4,175.8 53.2,175.5 53.1,175.1 53.1,174.6 53.1,174.2 52.9,173.8 52.7,173.5 52.4,173.3 52.1,173 52.6,172.2 53.2,171.4 53.8,170.5 54.1,169.9 52.9,170.2 51.8,170.5 50.6,170.8 50,170.8 49.8,170.4 49.6,170.1 49.5,169.8 49.4,169.4 49.4,168.9 49.3,168.5 49.2,168.2 49,167.9 48.7,167.6 48.5,167.3 48.2,167 47.9,166.8 47.6,166.5 47.2,166.2 47,166 45.6,166.3 44.3,166.5 45.2,165.6 46.1,164.7 46,164.3 45.8,164 46,163.5 46.1,163 46.2,162.5 46.1,162.1 45.8,161.9 45.4,161.6 45.1,161.4 44.9,161.1 44.6,160.8 44.4,160.4 44.2,160.1 44,159.8 43.7,159.5 43.5,159.2 43.4,158.8 43.5,158.4 43.5,157.9 43.5,157.5 43.4,157.2 43.2,156.8 43.1,156.5 42.5,156.3 41.2,156.4 39.9,156.5 40.9,155.7 41.9,154.9 42.2,154.4 42.1,154 42,153.7 41.8,153.3 41.7,153 41.6,152.6 41.5,152.2 41.4,151.9 41.3,151.5 41.2,151.2 41.2,150.8 41.2,150.4 41.2,150 41,149.6 40.6,149.4 40.1,149.1 39.7,148.8 39.7,148.4 39.8,148 39.8,147.6 39.7,147.2 38.8,147.1 37.9,146.9 37,146.8 37,146.4 37.6,145.8 38.3,145.2 38.9,144.7 38.9,144.3 39.7,143.7 41.3,143 42.8,142.3 41.1,142.3 39.4,142.3 38.6,142.1 38.5,141.7 38.3,141.3 38.2,141 38,140.6 38.6,140.1 39.4,139.6 40.1,139.1 39.4,138.9 39.2,138.5 40,138 40.8,137.5 39.7,137.3 38.6,137.1 37.6,136.9 36.9,136.6 37,136.2 37.1,135.8 37.1,135.4 36.5,135.1 35.6,134.8 34.8,134.5 34.3,134.2 35.2,133.7 36.1,133.2 36.9,132.7 37.3,132.3 37.2,131.9 37.2,131.6 37.2,131.2 37.1,130.8 36.9,130.5 36.7,130.1 36.7,129.7 36.8,129.3 36.9,128.9 36.9,128.6 36.6,128.2 35.7,127.9 34.7,127.5 35.7,127.1 36,126.7 36.4,126.3 36.8,125.9 36.8,125.5 36.6,125.2 36.4,124.8 36.2,124.4 36.4,124 36.7,123.6 37,123.3 37.1,122.9 36.9,122.5 36.8,122.1 36.6,121.7 36.7,121.4 36.8,121 36.9,120.6 36.9,120.2 36.7,119.9 36.5,119.5 37.3,119.1 38.4,118.8 39.6,118.5 38.7,118.1 38.2,117.7 38,117.3 37.9,116.9 37.7,116.5 37.6,116.1 37.6,115.8 37.6,115.4 37.6,115 37.5,114.6 37.4,114.2 37.3,113.8 37.3,113.4 37,113 35.5,112.4 33.9,111.8 35.5,111.6 37.1,111.5 36.1,111 35.2,110.4 36,110.1 36.8,109.9 37.6,109.6 38.3,109.4 38.7,109.1 39.2,108.8 39.6,108.5 38.9,108 37.9,107.4 36.9,106.8 36.4,106.3 38,106.2 39.6,106.2 41.2,106.2 41.4,105.8 40.5,105.2 39.7,104.7 38.9,104.1 37.9,103.5 37,102.8 36,102.2 39.3,102.6 40.6,102.6 41.9,102.5 42.3,102.3 42.3,101.9 41.7,101.3 41.2,100.8 40.8,100.3 40.8,99.9 40.7,99.5 40.7,99.1 40.7,98.7 40.7,98.3 40.7,97.9 40.7,97.5 40.4,97 40.2,96.5 39.9,96 39.9,95.6 40.4,95.4 40.9,95.2 41.4,94.9 41,94.4 40.5,93.8 39.9,93.1 39.7,92.6 40.9,92.7 42.1,92.7 43.3,92.8 43.8,92.6 43.7,92.2 43.7,91.7 43.6,91.3 43.8,91 44,90.7 44.3,90.4 44.3,90 44.1,89.4 43.8,88.9 43.6,88.4 44.9,88.6 46,88.7 47,88.7 46.7,88.2 46.7,87.8 46.7,87.4 46.7,86.9 46.5,86.4 46.3,85.9 46.2,85.4 46,84.9 46.7,84.9 47.5,84.8 48.3,84.8 48.7,84.6 48.5,84.1 48.4,83.6 48.3,83.1 48.6,82.9 49,82.7 49.4,82.5 47.7,81.1 46.3,79.8 45.4,78.9 46.9,79.3 48,79.5 49.5,79.9 51,80.4 52.5,80.9 52,80.1 51.5,79.4 51.1,78.7 50.8,78.1 50.7,77.6 50.7,77.1 50.7,76.7 50.7,76.2 50.6,75.7 50.6,75.2 50.9,74.9 52.4,75.6 53.6,75.9 55,76.4 55.1,76.1 54.4,75.1 53.8,74.2 53.2,73.3 52.7,72.5 52.2,71.6 51.7,70.8 51.9,70.4 53,70.8 54.1,71.1 55.2,71.5 55.9,71.6 56.6,71.7 57.3,71.7 57.8,71.7 57.9,71.2 57.9,70.8 56.7,69.3 56.2,68.4 55.7,67.5 56.5,67.7 57.2,67.8 57.6,67.7 58.1,67.5 58.5,67.4 58.8,67.2 58.9,66.8 59.1,66.4 59.2,66 59.9,66.1 60.8,66.4 61.7,66.8 62.3,66.8 62,66 61.6,65.2 61.3,64.3 60.9,63.5 61.7,63.7 62.5,63.9 63.2,64.1 63,63.4 62.9,62.7 62.9,62.2 63.6,62.3 63.9,62.1 64.2,61.9 64.6,61.7 64.8,61.5 65.1,61.2 65.3,60.9 65.5,60.6 65.6,60.1 65.8,59.7 65.9,59.3 66.1,59 66.4,58.7 66.7,58.5 67,58.2 66.7,57.3 66.4,56.4 67.3,56.9 67.7,56.7 68.3,56.9 69,57.1 69.7,57.3 70.4,57.7 71.3,58.1 72.1,58.6 72.6,58.7 72.4,57.8 72.1,56.8 71.9,55.9 71.9,55.4 72.2,55.1 72.4,54.8 72.7,54.4 73,54.2 73.4,54.2 74.2,54.6 75,55.1 74.8,54.3 74.7,53.4 75.1,53.4 75.4,53.1 75.6,52.7 75.8,52.4 76.1,52.1 76.4,51.9 76.7,51.7 77.1,51.5 77.4,51.3 77.8,51.2 78.1,51 78.5,50.9 78.8,50.7 79.1,50.5 79.4,50.4 79.7,50.1 80,49.8 80.2,49.5 80.5,49.1 80.8,49 81.2,48.9 81.6,48.9 82.4,49.4 83.5,50.7 84.3,51.4 83.8,49.8 83.3,48.1 83.6,47.7 83.8,47.3 84,46.9 84.4,46.8 84.8,46.8 85.2,46.8 85.6,46.6 85.8,46.1 86,45.7 86.2,45.3 86.5,45 86.8,44.7 87.1,44.5 87.4,44.2 87.7,44.1 88.1,43.9 88.4,43.7 88.9,43.8 89.4,44 89.9,44.2 90.4,44.4 90.5,43.6 90.5,42.8 90.6,42 92,44.3 93.3,46.7 94.6,49 94.1,46.7 93.5,44.3 93.7,43.7 94.2,43.8 94.6,43.9 94.9,43.5 95.1,43.2 96.3,45.3 97.7,48.5 98.3,49.1 97.5,45.6 97,42.8 97.2,42.3 97.5,41.9 97.8,41.5 98.1,41.2 98.4,41.1 98.8,41 99.2,41 99.5,40.9 99.9,40.8 100.2,40.5 100.3,39.4 100.4,38.3 101.1,39.2 101.7,40.2 102.2,40.4 102.5,40.1 102.8,39.8 103.1,39.5 103.5,39.4 103.9,39.4 104.2,39.3 104.5,38.8 104.7,37.8 104.9,36.8 105.1,35.9 105.6,36.5 106.2,37.6 106.8,38.6 107.4,39.5 107.7,39.4 108.1,39.3 108.5,39.2 109.2,41.3 110.2,45 110.9,47.2 110.7,43.4 110.5,39.7 110.8,39.7 111.5,41.7 112.2,43.7 112.2,41.4 112.3,39.1 112.3,36.3 112.7,36.6 113.2,37.1 113.6,37.7 114.1,38.3 114.5,39.1 115,39.9 115.4,40.8 115.8,40.6 116.1,39.7 116.4,38.8 116.7,37.9 117.1,38 117.6,39.4 118.1,42.7 118.7,46.1 118.9,42.9 119.1,40.4 119.5,41.4 119.9,40.9 120.2,40.1 120.5,39.2 120.9,38.5 121.2,37.6 121.6,36.7 122,35.9 122.4,36.7 122.7,37.5 123.1,38.3 123.5,38.4" fill="none" stroke="#000" stroke-width="0.6"/>
<path d="M123.5,61.4 123.7,61.4 123.9,51.6 124,52 124.2,52.5 124.4,52.9 124.6,53.4 124.7,53.4 124.9,53.4 125.1,53.4 125.3,53.4 125.4,53.4 125.6,53.3 125.8,53 126,52.6 126.2,52.2 126.4,51.9 126.6,51.5 126.8,51.1 127,51.1 127.2,51 127.4,50.9 127.5,50.8 127.7,50.8 127.9,50.7 128.1,50.8 128.3,50.8 128.5,50.9 128.6,50.9 128.8,51 129,51 129.2,50.9 129.4,50.8 129.6,50.7 129.8,50.5 130,50.4 130.2,50.3 130.3,51.1 130.4,51.9 130.5,52.8 130.6,53.6 130.7,54.4 130.8,55.3 131,54.8 131.2,54.4 131.4,53.9 131.7,53.4 131.9,53 132.1,52.5 132.3,53 132.4,53.5 132.5,54 132.6,54.5 132.7,55 132.8,55.5 133.1,55 133.3,54.6 133.5,54.2 133.8,53.8 134,53.4 134.3,53 134.4,53.5 134.5,54 134.6,54.5 134.7,55 134.8,55.5 134.8,56.1 135,56.1 135.2,56.2 135.3,56.2 135.5,56.3 135.7,56.4 135.8,56.4 136.1,56 136.3,55.6 136.6,55.1 136.9,54.7 137.1,54.2 137.4,53.8 137.5,54.3 137.6,54.8 137.7,55.3 137.7,55.8 137.8,56.3 137.9,56.8 138.2,56.2 138.5,55.6 138.8,55.1 139.1,54.5 139.4,53.9 139.7,53.4 139.9,53.6 140,53.8 140.1,54 140.3,54.1 140.4,54.3 140.6,54.5 140.7,54.6 140.9,54.6 141.1,54.6 141.3,54.7 141.4,54.7 141.6,54.8 141.8,54.6 142.1,54.4 142.3,54.2 142.5,54 142.8,53.8 143,53.7 143.1,54 143.2,54.3 143.3,54.6 143.4,54.9 143.5,55.2 143.6,55.5 143.8,55.7 143.9,55.9 144,56.1 144.1,56.3 144.3,56.4 144.4,56.6 144.4,57.3 144.4,58 144.3,58.6 144.3,59.3 144.3,59.9 144.2,60.6 144.4,60.6 144.6,60.6 144.7,60.7 144.9,60.7 145.1,60.7 145.2,60.8 145.5,60.6 145.7,60.4 145.9,60.3 146.2,60.1 146.4,59.9 146.7,59.8 146.8,59.8 147,59.9 147.1,60 147.3,60.1 147.4,60.1 147.6,60.2 147.7,60.5 147.7,60.8 147.8,61.1 147.9,61.4 147.9,61.7 148,62 148.2,61.9 148.4,61.8 148.6,61.7 148.9,61.7 149.1,61.6 149.3,61.5 149.6,61.1 150,60.6 150.4,60.2 150.8,59.8 151.1,59.3 151.5,58.9 151.7,58.9 151.9,59 152,59 152.2,59 152.4,59.1 152.6,59.1 152.4,59.8 152.3,60.5 152.2,61.2 152.1,61.9 151.9,62.6 151.8,63.3 151.9,63.4 152.1,63.5 152.2,63.7 152.3,63.8 152.4,63.9 152.6,64 153,63.6 153.4,63.1 153.8,62.7 154.2,62.2 154.6,61.8 155,61.3 155.2,61.4 155.4,61.4 155.6,61.4 155.8,61.4 156,61.5 156.1,61.5 156,62.2 155.8,62.9 155.6,63.7 155.4,64.4 155.2,65.1 155,65.8 155.2,65.8 155.4,65.8 155.6,65.7 155.8,65.7 156,65.7 156.2,65.7 156.7,65.2 157.2,64.7 157.6,64.3 158.1,63.8 158.6,63.3 159,62.9 159.2,62.9 159.4,62.9 159.6,63 159.8,63 160,63 160.1,63.1 160.3,63.2 160.4,63.3 160.6,63.4 160.7,63.5 160.8,63.7 161,63.8 160.7,64.5 160.5,65.2 160.2,66 160,66.7 159.7,67.4 159.4,68.1 159.9,67.8 160.3,67.5 160.7,67.1 161.1,66.8 161.5,66.4 162,66.1 162.3,66 162.6,65.9 162.8,65.8 163.1,65.6 163.4,65.5 163.7,65.4 163.4,66.2 163.1,66.9 162.8,67.7 162.4,68.5 162.1,69.2 161.8,70 162.3,69.6 162.8,69.1 163.3,68.7 163.9,68.3 164.4,67.8 164.9,67.4 164.7,68 164.5,68.5 164.3,69.1 164.1,69.7 163.9,70.2 163.7,70.8 163.8,70.9 163.9,71.1 164,71.2 164.1,71.3 164.2,71.5 164.3,71.6 164.5,71.6 164.7,71.6 165,71.6 165.2,71.6 165.4,71.6 165.6,71.6 166.1,71.3 166.6,70.9 167.1,70.6 167.6,70.2 168.1,69.9 168.6,69.6 168.8,69.6 168.9,69.7 169.1,69.8 169.3,69.9 169.4,69.9 169.6,70 169.3,70.6 169.1,71.2 168.8,71.7 168.6,72.3 168.3,72.9 168,73.4 168.4,73.3 168.8,73.1 169.1,72.9 169.5,72.8 169.9,72.6 170.3,72.4 170.1,72.9 169.8,73.5 169.6,74 169.4,74.5 169.1,75 168.9,75.5 169.5,75 170.1,74.6 170.8,74.2 171.4,73.8 172,73.4 172.6,73 172.7,73.2 172.7,73.5 172.7,73.7 172.7,74 172.7,74.2 172.7,74.5 172.4,75 172.2,75.4 172,75.9 171.8,76.4 171.5,76.9 171.3,77.3 171.9,76.9 172.6,76.6 173.2,76.2 173.8,75.8 174.5,75.4 175.1,75.1 174.6,75.7 174.2,76.4 173.7,77.1 173.2,77.8 172.8,78.5 172.3,79.1 172.5,79.2 172.7,79.2 172.9,79.2 173.1,79.3 173.3,79.3 173.5,79.4 173.7,79.4 173.9,79.5 174.1,79.6 174.2,79.6 174.4,79.7 174.6,79.7 174.6,79.9 174.7,80.1 174.7,80.3 174.8,80.5 174.8,80.7 174.8,80.9 175,81 175.1,81.1 175.3,81.2 175.4,81.3 175.6,81.4 175.7,81.5 175.8,81.7 175.8,81.8 175.9,82 175.9,82.2 176,82.3 176,82.5 176,82.7 176.1,82.9 176.1,83.1 176.1,83.3 176.1,83.5 176.2,83.7 176.9,83.3 177.6,83 178.3,82.6 179.1,82.3 179.8,82 180.5,81.6 180.2,82.2 179.8,82.7 179.4,83.2 179,83.7 178.6,84.2 178.2,84.7 178.1,84.9 178.1,85.1 178.1,85.4 178,85.6 178,85.9 177.9,86.1 178.1,86.1 178.4,86.2 178.6,86.2 178.8,86.3 179.1,86.3 179.3,86.4 179.7,86.3 180.2,86.2 180.6,86.1 181.1,86 181.5,85.9 182,85.8 182.1,86 182.1,86.1 182.2,86.3 182.2,86.5 182.3,86.6 182.4,86.8 182.6,86.9 182.8,86.9 183,87 183.2,87.1 183.4,87.2 183.6,87.2 183.2,87.7 182.8,88.2 182.3,88.6 181.9,89.1 181.5,89.6 181,90 181.7,89.8 182.5,89.6 183.2,89.3 183.9,89.1 184.6,88.9 185.4,88.7 184.9,89.1 184.5,89.6 184.1,90 183.7,90.4 183.3,90.9 182.9,91.3 183.3,91.3 183.7,91.2 184.2,91.2 184.6,91.1 185,91.1 185.5,91.1 185,91.5 184.6,91.9 184.1,92.4 183.7,92.8 183.2,93.2 182.8,93.6 183.3,93.5 183.9,93.4 184.4,93.4 185,93.3 185.5,93.2 186.1,93.1 185.7,93.5 185.4,93.8 185,94.2 184.6,94.6 184.3,94.9 183.9,95.3 184.5,95.2 185.1,95.1 185.8,95 186.4,94.9 187,94.8 187.6,94.7 187.1,95.1 186.6,95.5 186.1,96 185.6,96.4 185.1,96.8 184.6,97.2 184.6,97.4 184.7,97.5 184.7,97.7 184.8,97.8 184.9,98 184.9,98.1 184.9,98.3 185,98.5 185,98.7 185,98.8 185,99 185.1,99.2 185.1,99.3 185.2,99.5 185.3,99.6 185.3,99.8 185.4,99.9 185.5,100.1 185.7,100.2 185.9,100.3 186,100.4 186.2,100.5 186.4,100.6 186.6,100.7 187.1,100.7 187.6,100.7 188.1,100.7 188.6,100.7 189.1,100.7 189.6,100.7 189.3,101 189,101.3 188.7,101.6 188.4,101.9 188.1,102.2 187.8,102.4 187.9,102.6 187.9,102.8 187.9,102.9 188,103.1 188,103.3 188.1,103.4 188.1,103.6 188.2,103.7 188.3,103.9 188.3,104.1 188.4,104.2 188.4,104.4 188.8,104.4 189.2,104.5 189.6,104.5 190.1,104.6 190.5,104.7 190.9,104.7 190.9,104.9 191,105 191.1,105.2 191.2,105.4 191.2,105.5 191.3,105.7 191.3,105.9 191.3,106 191.3,106.2 191.3,106.4 191.4,106.6 191.4,106.8 191.5,106.9 191.7,107 191.8,107.2 192,107.3 192.1,107.5 192.3,107.6 192.2,107.8 192.1,108 192.1,108.2 192,108.4 191.9,108.6 191.8,108.8 191.9,109 191.9,109.1 191.9,109.3 192,109.5 192,109.7 192,109.8 192.2,110 192.4,110.1 192.6,110.3 192.8,110.4 193,110.5 193.2,110.7 193.2,110.9 193.2,111 193.2,111.2 193.2,111.4 193.2,111.6 193.2,111.8 193.2,111.9 193.3,112.1 193.3,112.3 193.3,112.4 193.3,112.6 193.4,112.8 192.9,113.1 192.4,113.3 191.9,113.6 191.4,113.8 190.8,114.1 190.3,114.3 190.3,114.5 190.2,114.7 190.1,114.9 190,115 190,115.2 189.9,115.4 190,115.6 190,115.7 190.1,115.9 190.1,116.1 190.2,116.2 190.2,116.4 190.9,116.5 191.6,116.6 192.3,116.7 193,116.7 193.6,116.9 194.3,117 194.3,117.1 194.3,117.3 194.3,117.5 194.3,117.7 194.2,117.9 194.2,118 193.5,118.3 192.8,118.5 192.1,118.7 191.4,119 190.6,119.2 189.9,119.4 189.9,119.6 189.9,119.8 189.9,119.9 189.9,120.1 189.9,120.3 189.9,120.4 190.5,120.6 191.1,120.7 191.6,120.8 192.2,121 192.8,121.1 193.3,121.3 192.9,121.5 192.5,121.6 192.1,121.8 191.7,122 191.3,122.2 190.9,122.4 190.9,122.6 190.9,122.7 190.8,122.9 190.8,123.1 190.8,123.2 190.8,123.4 190.7,123.6 190.7,123.7 190.6,123.9 190.6,124.1 190.6,124.2 190.5,124.4 191.1,124.6 191.7,124.7 192.2,124.9 192.8,125.1 193.4,125.3 193.9,125.5 193.5,125.6 193,125.8 192.6,126 192.2,126.1 191.7,126.3 191.3,126.4 191.8,126.6 192.3,126.8 192.8,127 193.3,127.2 193.9,127.4 194.4,127.6 194.4,127.8 194.5,127.9 194.5,128.1 194.6,128.3 194.6,128.5 194.6,128.7 194,128.8 193.4,128.9 192.8,129.1 192.2,129.2 191.6,129.3 190.9,129.5 191.4,129.7 191.9,129.9 192.4,130.1 192.8,130.3 193.3,130.5 193.8,130.7 193.7,130.9 193.7,131.1 193.6,131.2 193.5,131.4 193.5,131.6 193.4,131.8 193.5,131.9 193.6,132.1 193.6,132.3 193.7,132.5 193.7,132.7 193.8,132.9 193.1,132.9 192.3,133 191.6,133.1 190.9,133.2 190.2,133.3 189.4,133.3 189.6,133.5 189.7,133.7 189.8,133.9 190,134.1 190.1,134.3 190.2,134.5 190.7,134.7 191.1,134.9 191.5,135.2 191.9,135.4 192.3,135.6 192.7,135.9 192.1,136 191.5,136 191,136.1 190.4,136.2 189.8,136.3 189.3,136.3 189.3,136.5 189.3,136.7 189.3,136.9 189.3,137 189.4,137.2 189.4,137.4 189.5,137.6 189.6,137.8 189.6,137.9 189.7,138.1 189.8,138.3 189.9,138.5 190.2,138.8 190.5,139 190.8,139.2 191,139.5 191.3,139.7 191.6,139.9 191.7,140.1 191.8,140.3 191.8,140.5 191.9,140.7 192,140.9 192,141.1 191.5,141.2 190.9,141.2 190.4,141.2 189.8,141.3 189.2,141.3 188.7,141.3 188.5,141.5 188.4,141.6 188.2,141.7 188,141.9 187.9,142 187.7,142.1 187.8,142.3 188,142.5 188.1,142.7 188.2,143 188.3,143.2 188.4,143.4 188.9,143.7 189.3,144 189.7,144.3 190.2,144.6 190.6,144.9 191,145.2 190.5,145.2 189.9,145.3 189.4,145.3 188.8,145.3 188.3,145.3 187.7,145.3 188,145.5 188.3,145.8 188.7,146.1 189,146.4 189.3,146.7 189.6,147 189.1,147 188.5,147 188,147 187.5,147 186.9,146.9 186.4,146.9 186.8,147.3 187.3,147.6 187.7,148 188.1,148.3 188.6,148.6 189,149 189,149.2 189,149.4 189.1,149.6 189.1,149.8 189.1,149.9 189.1,150.1 189.2,150.4 189.3,150.6 189.3,150.8 189.4,151 189.5,151.3 189.6,151.5 189.3,151.6 189,151.6 188.7,151.7 188.4,151.8 188.2,151.8 187.9,151.9 187.9,152.1 188,152.4 188.1,152.6 188.2,152.8 188.2,153 188.3,153.2 187.7,153.2 187.2,153.1 186.6,153.1 186.1,153 185.5,153 185,152.9 184.8,153 184.5,153 184.3,153.1 184.1,153.2 183.8,153.3 183.6,153.4 183.6,153.5 183.6,153.7 183.6,153.9 183.5,154.1 183.5,154.2 183.5,154.4 183.9,154.8 184.2,155.2 184.6,155.5 185,155.9 185.3,156.3 185.7,156.7 185.1,156.6 184.5,156.5 183.9,156.3 183.3,156.2 182.8,156.1 182.2,156 182.1,156.1 182.1,156.3 182.1,156.5 182,156.6 182,156.8 181.9,157 181.9,157.2 181.9,157.3 181.9,157.5 181.9,157.7 181.9,157.9 181.9,158.1 182.2,158.5 182.6,158.9 183,159.3 183.4,159.8 183.8,160.2 184.1,160.6 184.3,160.9 184.4,161.2 184.5,161.5 184.7,161.8 184.8,162.1 184.9,162.4 184.7,162.4 184.5,162.5 184.3,162.6 184.1,162.7 183.9,162.8 183.7,162.9 183.5,163 183.4,163.1 183.2,163.2 183,163.3 182.9,163.4 182.7,163.5 182.3,163.4 181.8,163.3 181.4,163.2 180.9,163.1 180.5,163 180,162.9 179.8,163 179.5,163 179.3,163.1 179.1,163.1 178.8,163.1 178.6,163.2 178.4,163.3 178.2,163.3 178.1,163.4 177.9,163.5 177.7,163.6 177.6,163.7 178,164.2 178.4,164.7 178.8,165.2 179.2,165.7 179.6,166.2 180,166.7 179.5,166.6 179.1,166.5 178.6,166.4 178.2,166.3 177.7,166.1 177.3,166 177.2,166.1 177.1,166.3 177,166.4 176.9,166.5 176.8,166.7 176.7,166.8 176.6,166.9 176.5,167.1 176.4,167.2 176.2,167.3 176.1,167.5 176,167.6 176.4,168.1 176.7,168.6 177.1,169.2 177.5,169.7 177.8,170.2 178.2,170.7 177.5,170.4 176.9,170.1 176.2,169.8 175.6,169.4 174.9,169.1 174.3,168.8 174.2,168.9 174,169 173.9,169.1 173.8,169.3 173.7,169.4 173.6,169.5 173.4,169.6 173.2,169.6 173,169.7 172.9,169.8 172.7,169.8 172.5,169.9 173,170.5 173.4,171.2 173.8,171.8 174.3,172.5 174.7,173.1 175.1,173.8 174.6,173.5 174,173.2 173.4,172.8 172.9,172.5 172.3,172.2 171.7,171.9 172.2,172.6 172.6,173.2 173,173.9 173.4,174.5 173.8,175.2 174.2,175.9 173.5,175.4 172.8,174.9 172.1,174.4 171.3,173.9 170.6,173.5 169.9,173 170.2,173.5 170.5,174 170.7,174.6 171,175.1 171.3,175.6 171.5,176.2 171.6,176.5 171.7,176.9 171.8,177.2 171.8,177.5 171.9,177.9 171.9,178.2 171.3,177.8 170.7,177.4 170.1,177 169.5,176.6 168.9,176.2 168.3,175.7 168.5,176.1 168.6,176.6 168.7,177 168.9,177.4 169,177.8 169.1,178.2 169.2,178.6 169.2,178.9 169.3,179.3 169.4,179.6 169.4,180 169.5,180.3 168.9,179.9 168.4,179.5 167.8,179.1 167.3,178.7 166.7,178.3 166.2,177.9 165.2,177 164.3,176.1 163.4,175.1 162.4,174.2 162.2,174.1 162,174.2 161.9,174.3 162.6,175.4 163.6,177 164.5,178.6 165.5,180.2 166.5,181.7 165.9,181.3 165.4,180.8 164.8,180.4 164.2,179.9 163.7,179.4 163.1,179 163,179 162.8,179.1 162.6,179.1 162.5,179.2 162.3,179.2 162.1,179.3 162.4,180 162.8,180.8 163.1,181.5 163.4,182.3 163.7,183 164,183.7 163.5,183.4 163,183 162.5,182.6 162.1,182.2 161.6,181.8 161.1,181.4 161.3,182 161.5,182.6 161.7,183.2 161.8,183.7 162,184.3 162.2,184.9 161.7,184.5 161.2,184 160.7,183.5 160.2,183.1 159.7,182.6 159.2,182.2 159.1,182.3 158.9,182.4 158.8,182.5 158.7,182.6 158.6,182.8 158.4,182.9 158.3,182.9 158.1,183 157.9,183 157.8,183.1 157.6,183.1 157.4,183.2 157.6,183.8 157.7,184.4 157.8,184.9 158,185.5 158.1,186.1 158.2,186.7 157.7,186.1 157.2,185.6 156.7,185 156.2,184.5 155.7,183.9 155.2,183.3 155.1,183.5 155,183.7 155,183.9 154.9,184.1 154.8,184.3 154.7,184.5 154.6,184.6 154.4,184.7 154.3,184.9 154.2,185 154,185.1 153.9,185.2 153.7,185.3 153.6,185.3 153.4,185.3 153.2,185.4 153.1,185.4 152.9,185.5 153.1,186.2 153.2,186.9 153.3,187.6 153.5,188.3 153.6,188.9 153.7,189.6 153.3,189.1 152.9,188.6 152.4,188.1 152,187.6 151.6,187 151.2,186.5 151.2,187 151.2,187.4 151.2,187.9 151.2,188.3 151.2,188.8 151.2,189.2 151.1,189.4 151,189.6 150.9,189.8 150.8,190.1 150.7,190.3 150.6,190.5 150.2,189.9 149.7,189.4 149.3,188.8 148.9,188.3 148.5,187.7 148.1,187.2 148.3,188 148.4,188.9 148.6,189.7 148.7,190.5 148.8,191.4 149,192.2 148.7,192.1 148.5,192.1 148.3,192 148.1,191.9 147.8,191.8 147.6,191.7 147.5,191.8 147.3,191.9 147.2,192.1 147,192.2 146.9,192.3 146.7,192.4 146.3,191.8 145.9,191.1 145.5,190.4 145.1,189.7 144.7,189 144.3,188.3 144.2,188.5 144.1,188.7 143.9,189 143.8,189.2 143.7,189.4 143.6,189.6 143.6,190.1 143.6,190.7 143.6,191.2 143.6,191.8 143.5,192.4 143.5,192.9 143.3,192.9 143.1,192.8 142.9,192.7 142.7,192.6 142.5,192.5 142.3,192.4 142,192.1 141.7,191.8 141.5,191.5 141.2,191.2 140.9,190.8 140.7,190.5 140.7,191.2 140.7,191.8 140.6,192.5 140.6,193.1 140.6,193.7 140.6,194.4 140.4,194.3 140.2,194.3 140,194.2 139.8,194.2 139.6,194.1 139.4,194.1 139.2,194.2 139.1,194.3 138.9,194.4 138.8,194.6 138.6,194.7 138.5,194.8 138.3,194.9 138.1,195 138,195.1 137.8,195.2 137.6,195.3 137.5,195.4 137.2,194.7 136.9,194.1 136.6,193.4 136.3,192.8 136,192.1 135.7,191.5 135.6,192 135.5,192.5 135.4,192.9 135.3,193.4 135.2,193.9 135.1,194.4 134.9,193.9 134.6,193.5 134.4,193.1 134.1,192.6 133.9,192.2 133.6,191.7 133.3,190.4 132.6,186.7 132.4,186.8 132.3,186.8 132.1,186.8 132,186.8 131.8,186.9 131.6,186.9 131.5,186.9 131.3,186.9 131.2,186.9 131,186.9 130.9,187 130.7,187 130.6,187 130.4,187 130.2,187 130.1,187.1 129.9,187.1 129.8,187.1 129.6,187.1 129.5,187.1 129.3,187.1 129.1,187.1 129,187.2 128.8,187.2 128.7,187.2 128.5,187.2 128.4,187.2 128.2,187.2 128.1,187.2 127.9,187.2 127.7,187.3 127.6,187.3 127.4,187.3 127.3,187.3 127.1,187.3 127,187.3 126.8,187.3 126.6,187.3 126.5,187.3 126.3,187.3 126.2,187.3 126,187.3 125.9,187.4 125.7,187.4 125.5,187.4 125.4,187.4 125.2,187.4 125.1,187.4 124.9,187.4 124.8,187.4 124.6,187.4 124.4,187.4 124.3,187.4 124.1,187.4 124,187.4 123.8,187.4 123.7,187.4 123.5,187.4 123.3,187.4 123.2,187.4 123,187.4 122.9,187.4 122.7,187.4 122.6,187.4 122.4,187.4 122.2,187.4 122.1,187.4 121.9,187.4 121.8,187.4 121.6,187.4 121.5,187.4 121.3,187.4 121.1,187.4 121,187.3 120.8,187.3 120.7,187.3 120.5,187.3 120.4,187.3 120.2,187.3 120,187.3 119.9,187.3 119.7,187.3 119.6,187.3 119.4,187.3 119.3,187.3 119.1,187.2 118.9,187.2 118.8,187.2 118.6,187.2 118.5,187.2 118.3,187.2 118.2,187.2 118,187.2 117.9,187.1 117.7,187.1 117.5,187.1 117.4,187.1 117.2,187.1 117.1,187.1 116.9,187.1 116.8,187 116.6,187 116.4,187 116.3,187 116.1,187 116,186.9 115.8,186.9 115.7,186.9 115.5,186.9 115.4,186.9 115.2,186.9 115,186.8 114.9,186.8 114.7,186.8 114.6,186.8 114.4,186.7 114.3,186.7 114.1,186.7 114,186.7 113.8,186.6 113.6,186.6 113.5,186.6 113.3,186.6 113.2,186.5 113,186.5 112.9,186.5 112.7,186.5 112.6,186.4 112.4,186.4 112.3,186.4 112.1,186.4 111.9,186.3 111.8,186.3 111.6,186.3 111.5,186.2 111.3,186.2 111.2,186.2 111,186.2 110.9,186.1 110.7,186.1 110.6,186.1 110.4,186 110.2,186 110.1,186 109.9,185.9 109.8,185.9 109.6,185.9 109.5,185.8 109.3,185.8 109.2,185.7 109,185.7 108.9,185.7 108.7,185.6 108.6,185.6 108.4,185.6 108.3,185.5 108.1,185.5 108,185.5 107.8,185.4 107.7,185.4 107.5,185.3 107.3,185.3 107.2,185.3 107,185.2 106.9,185.2 106.7,185.1 106.6,185.1 106.4,185 106.3,185 106.1,185 106,184.9 105.8,184.9 105.7,184.8 105.5,184.8 105.4,184.7 105.2,184.7 105.1,184.6 104.9,184.6 104.8,184.6 104.6,184.5 104.5,184.5 104.3,184.4 104.2,184.4 104,184.3 103.9,184.3 103.7,184.2 103.6,184.2 103.4,184.1 103.3,184.1 103.1,184 103,184 102.8,183.9 102.7,183.9 102.5,183.8 102.4,183.8 102.2,183.7 102.1,183.7 102,183.6 101.8,183.5 101.7,183.5 101.5,183.4 101.4,183.4 101.2,183.3 101.1,183.3 100.9,183.2 100.8,183.2 100.6,183.1 100.5,183 100.3,183 100.2,182.9 100,182.9 99.9,182.8 99.8,182.8 99.6,182.7 99.5,182.6 99.3,182.6 99.2,182.5 99,182.5 98.9,182.4 98.7,182.3 98.6,182.3 98.5,182.2 98.3,182.1 98.2,182.1 98,182 97.9,182 97.7,181.9 97.6,181.8 97.4,181.8 97.3,181.7 97.2,181.6 97,181.6 96.9,181.5 96.7,181.4 96.6,181.4 96.4,181.3 96.3,181.2 96.2,181.2 96,181.1 95.9,181 95.7,181 95.6,180.9 95.5,180.8 95.3,180.7 95.2,180.7 95,180.6 94.9,180.5 94.8,180.5 94.6,180.4 94.5,180.3 94.3,180.2 94.2,180.2 94.1,180.1 93.9,180 93.8,180 93.6,179.9 93.5,179.8 93.4,179.7 93.2,179.7 93.1,179.6 93,179.5 92.8,179.4 92.7,179.3 92.5,179.3 92.4,179.2 92.3,179.1 92.1,179 92,179 91.9,178.9 91.7,178.8 91.6,178.7 91.5,178.6 91.3,178.6 91.2,178.5 91.1,178.4 90.9,178.3 90.8,178.2 90.6,178.2 90.5,178.1 90.4,178 90.2,177.9 90.1,177.8 90,177.7 89.8,177.7 89.7,177.6 89.6,177.5 89.5,177.4 89.3,177.3 89.2,177.2 89.1,177.2 88.9,177.1 88.8,177 88.7,176.9 88.5,176.8 88.4,176.7 88.3,176.6 88.1,176.5 88,176.5 87.9,176.4 87.8,176.3 87.6,176.2 87.5,176.1 87.4,176 87.2,175.9 87.1,175.8 87,175.7 86.9,175.6 86.7,175.6 86.6,175.5 86.5,175.4 86.3,175.3 86.2,175.2 86.1,175.1 86,175 85.8,174.9 85.7,174.8 85.6,174.7 85.5,174.6 85.3,174.5 85.2,174.4 85.1,174.3 85,174.2 84.8,174.1 84.7,174 84.6,173.9 84.5,173.9 84.3,173.8 84.2,173.7 84.1,173.6 84,173.5 83.9,173.4 83.7,173.3 83.6,173.2 83.5,173.1 83.4,173 83.2,172.9 83.1,172.8 83,172.7 82.9,172.6 82.8,172.5 82.6,172.4 82.5,172.3 82.4,172.2 82.3,172 82.2,171.9 82,171.8 81.9,171.7 81.8,171.6 81.7,171.5 81.6,171.4 81.5,171.3 81.3,171.2 81.2,171.1 81.1,171 81,170.9 80.9,170.8 80.8,170.7 80.6,170.6 80.5,170.5 80.4,170.4 80.3,170.3 80.2,170.2 80.1,170 80,169.9 79.8,169.8 79.7,169.7 79.6,169.6 79.5,169.5 79.4,169.4 79.3,169.3 79.2,169.2 79.1,169.1 79,168.9 78.8,168.8 78.7,168.7 78.6,168.6 78.5,168.5 78.4,168.4 78.3,168.3 78.2,168.2 78.1,168.1 78,167.9 77.9,167.8 77.7,167.7 77.6,167.6 77.5,167.5 77.4,167.4 77.3,167.3 77.2,167.1 77.1,167 77,166.9 76.9,166.8 76.8,166.7 76.7,166.6 76.6,166.4 76.5,166.3 76.4,166.2 76.3,166.1 76.2,166 76.1,165.9 76,165.7 75.9,165.6 75.7,165.5 75.6,165.4 75.5,165.3 75.4,165.1 75.3,165 75.2,164.9 75.1,164.8 75,164.7 74.9,164.5 74.8,164.4 74.7,164.3 74.6,164.2 74.5,164 74.4,163.9 74.3,163.8 74.2,163.7 74.1,163.6 74,163.4 74,163.3 73.9,163.2 73.8,163.1 73.7,162.9 73.6,162.8 73.5,162.7 73.4,162.6 73.3,162.4 73.2,162.3 73.1,162.2 73,162.1 72.9,161.9 72.8,161.8 72.7,161.7 72.6,161.6 72.5,161.4 72.4,161.3 72.3,161.2 72.3,161 72.2,160.9 72.1,160.8 72,160.7 71.9,160.5 71.8,160.4 71.7,160.3 71.6,160.1 71.5,160 71.4,159.9 71.4,159.8 71.3,159.6 71.2,159.5 71.1,159.4 71,159.2 70.9,159.1 70.8,159 70.7,158.8 70.7,158.7 70.6,158.6 70.5,158.4 70.4,158.3 70.3,158.2 70.2,158.1 70.2,157.9 70.1,157.8 70,157.7 69.9,157.5 69.8,157.4 69.7,157.3 69.7,157.1 69.6,157 69.5,156.8 69.4,156.7 69.3,156.6 69.3,156.4 69.2,156.3 69.1,156.2 69,156 68.9,155.9 68.9,155.8 68.8,155.6 68.7,155.5 68.6,155.4 68.6,155.2 68.5,155.1 68.4,154.9 68.3,154.8 68.2,154.7 68.2,154.5 68.1,154.4 68,154.3 67.9,154.1 67.9,154 67.8,153.8 67.7,153.7 67.7,153.6 67.6,153.4 67.5,153.3 67.4,153.1 67.4,153 67.3,152.9 67.2,152.7 67.2,152.6 67.1,152.4 67,152.3 66.9,152.2 66.9,152 66.8,151.9 66.7,151.7 66.7,151.6 66.6,151.5 66.5,151.3 66.5,151.2 66.4,151 66.3,150.9 66.3,150.7 66.2,150.6 66.1,150.5 66.1,150.3 66,150.2 65.9,150 65.9,149.9 65.8,149.7 65.8,149.6 65.7,149.4 65.6,149.3 65.6,149.2 65.5,149 65.4,148.9 65.4,148.7 65.3,148.6 65.3,148.4 65.2,148.3 65.1,148.1 65.1,148 65,147.9 65,147.7 64.9,147.6 64.9,147.4 64.8,147.3 64.7,147.1 64.7,147 64.6,146.8 64.6,146.7 64.5,146.5 64.5,146.4 64.4,146.2 64.4,146.1 64.3,145.9 63.6,146 62.7,146.2 64.1,145.5 64.1,145.4 64,145.2 64,145.1 63.9,144.9 63.9,144.8 63.8,144.6 63.8,144.5 63.7,144.3 63.7,144.2 63.6,144 63.6,143.9 63.5,143.7 63.5,143.6 63.4,143.4 63.4,143.3 63.3,143.1 63.3,143 63.3,142.8 63.2,142.7 63.2,142.5 63.1,142.4 63.1,142.2 63,142.1 63,141.9 62.9,141.8 62.9,141.6 62.9,141.5 62.8,141.3 62.8,141.2 62.7,141 62.7,140.9 62.6,140.7 62.6,140.6 62.6,140.4 62.5,140.2 62.5,140.1 62.4,139.9 62.4,139.8 62.4,139.6 62.3,139.5 62.3,139.3 62.3,139.2 62.2,139 62.2,138.9 62.2,138.7 62.1,138.6 62.1,138.4 62,138.3 62,138.1 62,138 61.9,137.8 61.9,137.7 61.9,137.5 61.8,137.3 61.8,137.2 61.8,137 61.7,136.9 61.7,136.7 61.7,136.6 61.7,136.4 61.6,136.3 61.6,136.1 61.6,136 61.5,135.8 61.5,135.6 61.5,135.5 61.5,135.3 61.4,135.2 61.4,135 61.4,134.9 61.4,134.7 61.3,134.6 61.3,134.4 61.3,134.3 61.3,134.1 60.4,134.1 58.3,134.2 60.2,133.8 61.2,133.5 61.1,133.3 61.1,133.2 61.1,133 61.1,132.9 61,132.7 61,132.5 61,132.4 61,132.2 61,132.1 61,131.9 60.9,131.8 60.9,131.6 60.9,131.5 60.9,131.3 60.9,131.1 60.8,131 60.8,130.8 60.8,130.7 60.8,130.5 60.8,130.4 60.8,130.2 60.8,130 60.7,129.9 60.7,129.7 60.7,129.6 60.7,129.4 60.7,129.3 60.7,129.1 60.7,129 60.7,128.8 60.6,128.6 60.6,128.5 60.6,128.3 60.6,128.2 60.6,128 60.6,127.9 60.6,127.7 60.6,127.5 60.6,127.4 60.6,127.2 60.6,127.1 60.6,126.9 60.5,126.8 60.5,126.6 60.5,126.4 60.5,126.3 60.5,126.1 60.5,126 60.5,125.8 60.5,125.7 60.5,125.5 60.5,125.3 60.5,125.2 60.5,125 60.5,124.9 60.5,124.7 60.5,124.6 60.5,124.4 60.5,124.2 60.5,124.1 60.5,123.9 60.5,123.8 60.5,123.6 60.5,123.5 60.5,123.3 60.5,123.1 60.5,123 60.5,122.8 60.5,122.7 60.5,122.5 60.5,122.4 60.5,122.2 60.5,122 60.6,121.9 60.6,121.7 60.6,121.6 60.6,121.4 60.6,121.3 60.6,121.1 60.6,120.9 60.6,120.8 60.6,120.6 60.6,120.5 60.6,120.3 60.6,120.2 60.7,120 60.7,119.8 60.7,119.7 60.7,119.5 60.7,119.4 60.7,119.2 60.7,119.1 60.7,118.9 60.8,118.8 60.8,118.6 60.8,118.4 60.8,118.3 60.8,118.1 60.8,118 60.8,117.8 60.9,117.7 60.9,117.5 60.9,117.3 60.9,117.2 60.9,117 61,116.9 61,116.7 61,116.6 61,116.4 61,116.3 61,116.1 61.1,115.9 61.1,115.8 61.1,115.6 61.1,115.5 61.2,115.3 61.2,115.2 61.2,115 61.2,114.9 61.3,114.7 61.3,114.5 61.3,114.4 61.3,114.2 61.4,114.1 61.4,113.9 61.4,113.8 61.4,113.6 61.5,113.5 61.5,113.3 61.5,113.2 61.5,113 61.6,112.8 61.6,112.7 61.6,112.5 61.7,112.4 61.7,112.2 61.7,112.1 61.7,111.9 61.8,111.8 61.8,111.6 61.8,111.5 61.9,111.3 61.9,111.1 61.9,111 62,110.8 62,110.7 62,110.5 62.1,110.4 62.1,110.2 62.2,110.1 62.2,109.9 62.2,109.8 62.3,109.6 62.3,109.5 62.3,109.3 62.4,109.2 62.4,109 62.4,108.9 62.5,108.7 62.5,108.6 62.6,108.4 62.6,108.2 62.6,108.1 62.7,107.9 62.7,107.8 62.8,107.6 62.8,107.5 62.9,107.3 62.9,107.2 62.9,107 63,106.9 63,106.7 63.1,106.6 63.1,106.4 63.2,106.3 63.2,106.1 63.3,106 63.3,105.8 63.3,105.7 63.4,105.5 63.4,105.4 63.5,105.2 63.5,105.1 63.6,104.9 63.6,104.8 63.7,104.6 63.7,104.5 63.8,104.3 63.8,104.2 63.9,104 63.9,103.9 64,103.7 64,103.6 64.1,103.4 64.1,103.3 64.2,103.1 64.2,103 64.3,102.9 64.4,102.7 64.4,102.6 64.5,102.4 64.5,102.3 64.6,102.1 64.6,102 64.7,101.8 64.7,101.7 64.8,101.5 64.9,101.4 64.9,101.2 65,101.1 65,100.9 65.1,100.8 65.1,100.7 65.2,100.5 65.3,100.4 65.3,100.2 65.4,100.1 65.4,99.9 65.5,99.8 65.6,99.6 65.6,99.5 65.7,99.4 65.8,99.2 65.8,99.1 65.9,98.9 65.9,98.8 66,98.6 66.1,98.5 66.1,98.3 66.2,98.2 66.3,98.1 66.3,97.9 66.4,97.8 66.5,97.6 66.5,97.5 66.6,97.3 66.7,97.2 66.7,97.1 66.8,96.9 66.9,96.8 66.9,96.6 67,96.5 67.1,96.4 67.2,96.2 67.2,96.1 67.3,95.9 67.4,95.8 67.4,95.7 67.5,95.5 67.6,95.4 67.7,95.2 67.7,95.1 67.8,95 67.9,94.8 67.9,94.7 68,94.5 68.1,94.4 68.2,94.3 68.2,94.1 68.3,94 68.4,93.9 68.5,93.7 68.6,93.6 68.6,93.4 68.7,93.3 68.8,93.2 68.9,93 68.9,92.9 69,92.8 69.1,92.6 69.2,92.5 69.3,92.4 69.3,92.2 69.4,92.1 69.5,92 69.6,91.8 69.7,91.7 69.7,91.5 69.8,91.4 69.9,91.3 70,91.1 70.1,91 70.2,90.9 70.2,90.7 70.3,90.6 70.4,90.5 70.5,90.4 70.6,90.2 70.7,90.1 70.7,90 70.8,89.8 70.9,89.7 71,89.6 71.1,89.4 71.2,89.3 71.3,89.2 71.4,89 71.4,88.9 71.5,88.8 71.6,88.7 71.7,88.5 71.8,88.4 71.9,88.3 72,88.1 72.1,88 72.2,87.9 72.3,87.8 72.3,87.6 72.4,87.5 72.5,87.4 72.6,87.2 72.7,87.1 72.8,87 72.9,86.9 73,86.7 73.1,86.6 73.2,86.5 73.3,86.4 73.4,86.2 73.5,86.1 73.6,86 73.7,85.9 73.8,85.7 73.9,85.6 74,85.5 74,85.4 74.1,85.2 74.2,85.1 74.3,85 74.4,84.9 74.5,84.8 74.6,84.6 74.7,84.5 74.8,84.4 74.9,84.3 75,84.1 75.1,84 75.2,83.9 75.3,83.8 75.4,83.7 75.5,83.5 75.6,83.4 75.7,83.3 75.9,83.2 76,83.1 76.1,82.9 76.2,82.8 76.3,82.7 76.4,82.6 76.5,82.5 76.6,82.4 76.7,82.2 76.8,82.1 76.9,82 77,81.9 77.1,81.8 77.2,81.7 77.3,81.5 77.4,81.4 77.5,81.3 77.6,81.2 77.7,81.1 77.9,81 78,80.9 78.1,80.7 78.2,80.6 78.3,80.5 78.4,80.4 78.5,80.3 78.6,80.2 78.7,80.1 78.8,80 79,79.9 79.1,79.7 79.2,79.6 79.3,79.5 79.4,79.4 79.5,79.3 79.6,79.2 79.7,79.1 79.8,79 80,78.9 80.1,78.8 80.2,78.6 80.3,78.5 80.4,78.4 80.5,78.3 80.6,78.2 80.8,78.1 80.9,78 81,77.9 81.1,77.8 81.2,77.7 81.3,77.6 81.5,77.5 81.6,77.4 81.7,77.3 81.8,77.2 81.9,77.1 82,77 82.2,76.9 82.3,76.8 82.4,76.6 82.5,76.5 82.6,76.4 82.8,76.3 82.9,76.2 83,76.1 83.1,76 83.2,75.9 83.4,75.8 83.5,75.7 83.6,75.6 83.7,75.5 83.9,75.4 84,75.3 84.1,75.2 84.2,75.1 84.3,75 84.5,74.9 84.6,74.9 84.7,74.8 84.8,74.7 85,74.6 85.1,74.5 85.2,74.4 85.3,74.3 85.5,74.2 85.6,74.1 85.7,74 85.8,73.9 86,73.8 86.1,73.7 86.2,73.6 86.3,73.5 86.5,73.4 86.6,73.3 86.7,73.2 86.9,73.2 87,73.1 87.1,73 87.2,72.9 87.4,72.8 87.5,72.7 87.6,72.6 87.8,72.5 87.9,72.4 88,72.3 88.1,72.3 88.3,72.2 88.4,72.1 88.5,72 88.7,71.9 88.8,71.8 88.9,71.7 89.1,71.6 89.2,71.6 89.3,71.5 89.5,71.4 89.6,71.3 89.7,71.2 89.8,71.1 90,71.1 90.1,71 90.2,70.9 90.4,70.8 90.5,70.7 90.6,70.6 90.8,70.6 90.9,70.5 91.1,70.4 91.2,70.3 91.3,70.2 91.5,70.2 91.6,70.1 91.7,70 91.9,69.9 92,69.8 92.1,69.8 92.3,69.7 92.4,69.6 92.5,69.5 92.7,69.5 92.8,69.4 93,69.3 93.1,69.2 93.2,69.1 93.4,69.1 93.5,69 93.6,68.9 93.8,68.8 93.9,68.8 94.1,68.7 94.2,68.6 94.3,68.6 94.5,68.5 94.6,68.4 94.8,68.3 94.9,68.3 95,68.2 95.2,68.1 95.3,68.1 95.5,68 95.6,67.9 95.7,67.8 95.9,67.8 96,67.7 96.2,67.6 96.3,67.6 96.4,67.5 96.6,67.4 96.7,67.4 96.9,67.3 97,67.2 97.2,67.2 97.3,67.1 97.4,67 97.6,67 97.7,66.9 97.9,66.8 98,66.8 98.2,66.7 98.3,66.7 98.5,66.6 98.6,66.5 98.7,66.5 98.9,66.4 99,66.3 99.2,66.3 99.3,66.2 99.5,66.2 99.6,66.1 99.8,66 99.9,66 100,65.9 100.2,65.9 100.3,65.8 100.5,65.8 100.6,65.7 100.8,65.6 100.9,65.6 101.1,65.5 101.2,65.5 101.4,65.4 101.5,65.4 101.7,65.3 101.8,65.3 102,65.2 102.1,65.1 102.2,65.1 102.4,65 102.5,65 102.7,64.9 102.8,64.9 103,64.8 103.1,64.8 103.3,64.7 103.4,64.7 103.6,64.6 103.7,64.6 103.9,64.5 104,64.5 104.2,64.4 104.3,64.4 104.5,64.3 104.6,64.3 104.8,64.2 104.9,64.2 105.1,64.2 105.2,64.1 105.4,64.1 105.5,64 105.7,64 105.8,63.9 106,63.9 106.1,63.8 106.3,63.8 106.4,63.8 106.6,63.7 106.7,63.7 106.9,63.6 107,63.6 107.2,63.5 107.3,63.5 107.5,63.5 107.7,63.4 107.8,63.4 108,63.3 108.1,63.3 108.3,63.3 108.4,63.2 108.6,63.2 108.7,63.2 108.9,63.1 109,63.1 109.2,63.1 109.3,63 109.5,63 109.6,62.9 109.8,62.9 109.9,62.9 110.1,62.8 110.2,62.8 110.4,62.8 110.6,62.7 110.7,62.7 110.9,62.7 111,62.6 111.2,62.6 111.3,62.6 111.5,62.6 111.6,62.5 111.8,62.5 111.9,62.5 112.1,62.4 112.3,62.4 112.4,62.4 112.6,62.4 112.7,62.3 112.9,62.3 113,62.3 113.2,62.3 113.3,62.2 113.5,62.2 113.6,62.2 113.8,62.2 114,62.1 114.1,62.1 114.3,62.1 114.4,62.1 114.6,62 114.7,62 114.9,62 115,62 115.2,61.9 115.4,61.9 115.5,61.9 115.7,61.9 115.8,61.9 116,61.9 116.1,61.8 116.3,61.8 116.4,61.8 116.6,61.8 116.8,61.8 116.9,61.7 117.1,61.7 117.2,61.7 117.4,61.7 117.5,61.7 117.7,61.7 117.9,61.7 118,61.6 118.2,61.6 118.3,61.6 118.5,61.6 118.6,61.6 118.8,61.6 118.9,61.6 119.1,61.6 119.3,61.5 119.4,61.5 119.6,61.5 119.7,61.5 119.9,61.5 120,61.5 120.2,61.5 120.4,61.5 120.5,61.5 120.7,61.5 120.8,61.5 121,61.5 121.1,61.4 121.3,61.4 121.5,61.4 121.6,61.4 121.8,61.4 121.9,61.4 122.1,61.4 122.2,61.4 122.4,61.4 122.6,61.4 122.7,61.4 122.9,59.5 123,57.3 123.2,55.1 123.3,61.4 123.5,61.4 L123.5,61.4 123.3,61.4 123.2,61.4 123,61.4 122.9,61.4 122.7,61.4 122.6,61.4 122.4,61.4 122.2,61.4 122.1,61.4 121.9,61.4 121.8,61.4 121.6,61.4 121.5,61.4 121.3,61.4 121.1,61.4 121,61.5 120.8,61.5 120.7,61.5 120.5,61.5 120.4,61.5 120.2,61.5 120,61.5 119.9,61.5 119.7,61.5 119.6,61.5 119.4,61.5 119.3,61.5 119.1,61.6 118.9,61.6 118.8,61.6 118.6,61.6 118.5,61.6 118.3,61.6 118.2,61.6 118,61.6 117.9,61.7 117.7,61.7 117.5,61.7 117.4,61.7 117.2,61.7 117.1,61.7 116.9,61.7 116.8,61.8 116.6,61.8 116.4,61.8 116.3,61.8 116.1,61.8 116,61.9 115.8,61.9 115.7,61.9 115.5,61.9 115.4,61.9 115.2,61.9 115,62 114.9,62 114.7,62 114.6,62 114.4,62.1 114.3,62.1 114.1,62.1 114,62.1 113.8,62.2 113.6,62.2 113.5,62.2 113.3,62.2 113.2,62.3 113,62.3 112.9,62.3 112.7,62.3 112.6,62.4 112.4,62.4 112.3,62.4 112.1,62.4 111.9,62.5 111.8,62.5 111.6,62.5 111.5,62.6 111.3,62.6 111.2,62.6 111,62.6 110.9,62.7 110.7,62.7 110.6,62.7 110.4,62.8 110.2,62.8 110.1,62.8 109.9,62.9 109.8,62.9 109.6,62.9 109.5,63 109.3,63 109.2,63.1 109,63.1 108.9,63.1 108.7,63.2 108.6,63.2 108.4,63.2 108.3,63.3 108.1,63.3 108,63.3 107.8,63.4 107.7,63.4 107.5,63.5 107.3,63.5 107.2,63.5 107,63.6 106.9,63.6 106.7,63.7 106.6,63.7 106.4,63.8 106.3,63.8 106.1,63.8 106,63.9 105.8,63.9 105.7,64 105.5,64 105.4,64.1 105.2,64.1 105.1,64.2 104.9,64.2 104.8,64.2 104.6,64.3 104.5,64.3 104.3,64.4 104.2,64.4 104,64.5 103.9,64.5 103.7,64.6 103.6,64.6 103.4,64.7 103.3,64.7 103.1,64.8 103,64.8 102.8,64.9 102.7,64.9 102.5,65 102.4,65 102.2,65.1 102.1,65.1 102,65.2 101.8,65.3 101.7,65.3 101.5,65.4 101.4,65.4 101.2,65.5 101.1,65.5 100.9,65.6 100.8,65.6 100.6,65.7 100.5,65.8 100.3,65.8 100.2,65.9 100,65.9 99.9,66 99.8,66 99.6,66.1 99.5,66.2 99.3,66.2 99.2,66.3 99,66.3 98.9,66.4 98.7,66.5 98.6,66.5 98.5,66.6 98.3,66.7 98.2,66.7 98,66.8 97.9,66.8 97.7,66.9 97.6,67 97.4,67 97.3,67.1 97.2,67.2 97,67.2 96.9,67.3 96.7,67.4 96.6,67.4 96.4,67.5 96.3,67.6 96.2,67.6 96,67.7 95.9,67.8 95.7,67.8 95.6,67.9 95.5,68 95.3,68.1 95.2,68.1 95,68.2 94.9,68.3 94.8,68.3 94.6,68.4 94.5,68.5 94.3,68.6 94.2,68.6 94.1,68.7 93.9,68.8 93.8,68.8 93.6,68.9 93.5,69 93.4,69.1 93.2,69.1 93.1,69.2 93,69.3 92.8,69.4 92.7,69.5 92.5,69.5 92.4,69.6 92.3,69.7 92.1,69.8 92,69.8 91.9,69.9 91.7,70 91.6,70.1 91.5,70.2 91.3,70.2 91.2,70.3 91.1,70.4 90.9,70.5 90.8,70.6 90.6,70.6 90.5,70.7 90.4,70.8 90.2,70.9 90.1,71 90,71.1 89.8,71.1 89.7,71.2 89.6,71.3 89.5,71.4 89.3,71.5 89.2,71.6 89.1,71.6 88.9,71.7 88.8,71.8 88.7,71.9 88.5,72 88.4,72.1 88.3,72.2 88.1,72.3 88,72.3 87.9,72.4 87.8,72.5 87.6,72.6 87.5,72.7 87.4,72.8 87.2,72.9 87.1,73 87,73.1 86.9,73.2 86.7,73.2 86.6,73.3 86.5,73.4 86.3,73.5 86.2,73.6 86.1,73.7 86,73.8 85.8,73.9 85.7,74 85.6,74.1 85.5,74.2 85.3,74.3 85.2,74.4 85.1,74.5 85,74.6 84.8,74.7 84.7,74.8 84.6,74.9 84.5,74.9 84.3,75 84.2,75.1 84.1,75.2 84,75.3 83.9,75.4 83.7,75.5 83.6,75.6 83.5,75.7 83.4,75.8 83.2,75.9 83.1,76 83,76.1 82.9,76.2 82.8,76.3 82.6,76.4 82.5,76.5 82.4,76.6 82.3,76.8 82.2,76.9 82,77 81.9,77.1 81.8,77.2 81.7,77.3 81.6,77.4 81.5,77.5 81.3,77.6 81.2,77.7 81.1,77.8 81,77.9 80.9,78 80.8,78.1 80.6,78.2 80.5,78.3 80.4,78.4 80.3,78.5 80.2,78.6 80.1,78.8 80,78.9 79.8,79 79.7,79.1 79.6,79.2 79.5,79.3 79.4,79.4 79.3,79.5 79.2,79.6 79.1,79.7 79,79.9 78.8,80 78.7,80.1 78.6,80.2 78.5,80.3 78.4,80.4 78.3,80.5 78.2,80.6 78.1,80.7 78,80.9 77.9,81 77.7,81.1 77.6,81.2 77.5,81.3 77.4,81.4 77.3,81.5 77.2,81.7 77.1,81.8 77,81.9 76.9,82 76.8,82.1 76.7,82.2 76.6,82.4 76.5,82.5 76.4,82.6 76.3,82.7 76.2,82.8 76.1,82.9 76,83.1 75.9,83.2 75.7,83.3 75.6,83.4 75.5,83.5 75.4,83.7 75.3,83.8 75.2,83.9 75.1,84 75,84.1 74.9,84.3 74.8,84.4 74.7,84.5 74.6,84.6 74.5,84.8 74.4,84.9 74.3,85 74.2,85.1 74.1,85.2 74,85.4 74,85.5 73.9,85.6 73.8,85.7 73.7,85.9 73.6,86 73.5,86.1 73.4,86.2 73.3,86.4 73.2,86.5 73.1,86.6 73,86.7 72.9,86.9 72.8,87 72.7,87.1 72.6,87.2 72.5,87.4 72.4,87.5 72.3,87.6 72.3,87.8 72.2,87.9 72.1,88 72,88.1 71.9,88.3 71.8,88.4 71.7,88.5 71.6,88.7 71.5,88.8 71.4,88.9 71.4,89 71.3,89.2 71.2,89.3 71.1,89.4 71,89.6 70.9,89.7 70.8,89.8 70.7,90 70.7,90.1 70.6,90.2 70.5,90.4 70.4,90.5 70.3,90.6 70.2,90.7 70.2,90.9 70.1,91 70,91.1 69.9,91.3 69.8,91.4 69.7,91.5 69.7,91.7 69.6,91.8 69.5,92 69.4,92.1 69.3,92.2 69.3,92.4 69.2,92.5 69.1,92.6 69,92.8 68.9,92.9 68.9,93 68.8,93.2 68.7,93.3 68.6,93.4 68.6,93.6 68.5,93.7 68.4,93.9 68.3,94 68.2,94.1 68.2,94.3 68.1,94.4 68,94.5 67.9,94.7 67.9,94.8 67.8,95 67.7,95.1 67.7,95.2 67.6,95.4 67.5,95.5 67.4,95.7 67.4,95.8 67.3,95.9 67.2,96.1 67.2,96.2 67.1,96.4 67,96.5 66.9,96.6 66.9,96.8 66.8,96.9 66.7,97.1 66.7,97.2 66.6,97.3 66.5,97.5 66.5,97.6 66.4,97.8 66.3,97.9 66.3,98.1 66.2,98.2 66.1,98.3 66.1,98.5 66,98.6 65.9,98.8 65.9,98.9 65.8,99.1 65.8,99.2 65.7,99.4 65.6,99.5 65.6,99.6 65.5,99.8 65.4,99.9 65.4,100.1 65.3,100.2 65.3,100.4 65.2,100.5 65.1,100.7 65.1,100.8 65,100.9 65,101.1 64.9,101.2 64.9,101.4 64.8,101.5 64.7,101.7 64.7,101.8 64.6,102 64.6,102.1 64.5,102.3 64.5,102.4 64.4,102.6 64.4,102.7 64.3,102.9 64.2,103 64.2,103.1 64.1,103.3 64.1,103.4 64,103.6 64,103.7 63.9,103.9 63.9,104 63.8,104.2 63.8,104.3 63.7,104.5 63.7,104.6 63.6,104.8 63.6,104.9 63.5,105.1 63.5,105.2 63.4,105.4 63.4,105.5 63.3,105.7 63.3,105.8 63.3,106 63.2,106.1 63.2,106.3 63.1,106.4 63.1,106.6 63,106.7 63,106.9 62.9,107 62.9,107.2 62.9,107.3 62.8,107.5 62.8,107.6 62.7,107.8 62.7,107.9 62.6,108.1 62.6,108.2 62.6,108.4 62.5,108.6 62.5,108.7 62.4,108.9 62.4,109 62.4,109.2 62.3,109.3 62.3,109.5 62.3,109.6 62.2,109.8 62.2,109.9 62.2,110.1 62.1,110.2 62.1,110.4 62,110.5 62,110.7 62,110.8 61.9,111 61.9,111.1 61.9,111.3 61.8,111.5 61.8,111.6 61.8,111.8 61.7,111.9 61.7,112.1 61.7,112.2 61.7,112.4 61.6,112.5 61.6,112.7 61.6,112.8 61.5,113 61.5,113.2 61.5,113.3 61.5,113.5 61.4,113.6 61.4,113.8 61.4,113.9 61.4,114.1 61.3,114.2 61.3,114.4 61.3,114.5 61.3,114.7 61.2,114.9 61.2,115 61.2,115.2 61.2,115.3 61.1,115.5 61.1,115.6 61.1,115.8 61.1,115.9 61,116.1 61,116.3 61,116.4 61,116.6 61,116.7 61,116.9 60.9,117 60.9,117.2 60.9,117.3 60.9,117.5 60.9,117.7 60.8,117.8 60.8,118 60.8,118.1 60.8,118.3 60.8,118.4 60.8,118.6 60.8,118.8 60.7,118.9 60.7,119.1 60.7,119.2 60.7,119.4 60.7,119.5 60.7,119.7 60.7,119.8 60.7,120 60.6,120.2 60.6,120.3 60.6,120.5 60.6,120.6 60.6,120.8 60.6,120.9 60.6,121.1 60.6,121.3 60.6,121.4 60.6,121.6 60.6,121.7 60.6,121.9 60.5,122 60.5,122.2 60.5,122.4 60.5,122.5 60.5,122.7 60.5,122.8 60.5,123 60.5,123.1 60.5,123.3 60.5,123.5 60.5,123.6 60.5,123.8 60.5,123.9 60.5,124.1 60.5,124.2 60.5,124.4 60.5,124.6 60.5,124.7 60.5,124.9 60.5,125 60.5,125.2 60.5,125.3 60.5,125.5 60.5,125.7 60.5,125.8 60.5,126 60.5,126.1 60.5,126.3 60.5,126.4 60.5,126.6 60.5,126.8 60.6,126.9 60.6,127.1 60.6,127.2 60.6,127.4 60.6,127.5 60.6,127.7 60.6,127.9 60.6,128 60.6,128.2 60.6,128.3 60.6,128.5 60.6,128.6 60.7,128.8 60.7,129 60.7,129.1 60.7,129.3 60.7,129.4 60.7,129.6 60.7,129.7 60.7,129.9 60.8,130 60.8,130.2 60.8,130.4 60.8,130.5 60.8,130.7 60.8,130.8 60.8,131 60.9,131.1 60.9,131.3 60.9,131.5 60.9,131.6 60.9,131.8 61,131.9 61,132.1 61,132.2 61,132.4 61,132.5 61,132.7 61.1,132.9 61.1,133 61.1,133.2 61.1,133.3 61.2,133.5 61.2,133.6 61.2,133.8 61.2,133.9 61.3,134.1 61.3,134.3 61.3,134.4 61.3,134.6 61.4,134.7 61.4,134.9 61.4,135 61.4,135.2 61.5,135.3 61.5,135.5 61.5,135.6 61.5,135.8 61.6,136 61.6,136.1 61.6,136.3 61.7,136.4 61.7,136.6 61.7,136.7 61.7,136.9 61.8,137 61.8,137.2 61.8,137.3 61.9,137.5 61.9,137.7 61.9,137.8 62,138 62,138.1 62,138.3 62.1,138.4 62.1,138.6 62.2,138.7 62.2,138.9 62.2,139 62.3,139.2 62.3,139.3 62.3,139.5 62.4,139.6 62.4,139.8 62.4,139.9 62.5,140.1 62.5,140.2 62.6,140.4 62.6,140.6 62.6,140.7 62.7,140.9 62.7,141 62.8,141.2 62.8,141.3 62.9,141.5 62.9,141.6 62.9,141.8 63,141.9 63,142.1 63.1,142.2 63.1,142.4 63.2,142.5 63.2,142.7 63.3,142.8 63.3,143 63.3,143.1 63.4,143.3 63.4,143.4 63.5,143.6 63.5,143.7 63.6,143.9 63.6,144 63.7,144.2 63.7,144.3 63.8,144.5 63.8,144.6 63.9,144.8 63.9,144.9 64,145.1 64,145.2 64.1,145.4 64.1,145.5 64.2,145.7 64.2,145.8 64.3,145.9 64.4,146.1 64.4,146.2 64.5,146.4 64.5,146.5 64.6,146.7 64.6,146.8 64.7,147 64.7,147.1 64.8,147.3 64.9,147.4 64.9,147.6 65,147.7 65,147.9 65.1,148 65.1,148.1 65.2,148.3 65.3,148.4 65.3,148.6 65.4,148.7 65.4,148.9 65.5,149 65.6,149.2 65.6,149.3 65.7,149.4 65.8,149.6 65.8,149.7 65.9,149.9 65.9,150 66,150.2 66.1,150.3 66.1,150.5 66.2,150.6 66.3,150.7 66.3,150.9 66.4,151 66.5,151.2 66.5,151.3 66.6,151.5 66.7,151.6 66.7,151.7 66.8,151.9 66.9,152 66.9,152.2 67,152.3 67.1,152.4 67.2,152.6 67.2,152.7 67.3,152.9 67.4,153 67.4,153.1 67.5,153.3 67.6,153.4 67.7,153.6 67.7,153.7 67.8,153.8 67.9,154 67.9,154.1 68,154.3 68.1,154.4 68.2,154.5 68.2,154.7 68.3,154.8 68.4,154.9 68.5,155.1 68.6,155.2 68.6,155.4 68.7,155.5 68.8,155.6 68.9,155.8 68.9,155.9 69,156 69.1,156.2 69.2,156.3 69.3,156.4 69.3,156.6 69.4,156.7 69.5,156.8 69.6,157 69.7,157.1 69.7,157.3 69.8,157.4 69.9,157.5 70,157.7 70.1,157.8 70.2,157.9 70.2,158.1 70.3,158.2 70.4,158.3 70.5,158.4 70.6,158.6 70.7,158.7 70.7,158.8 70.8,159 70.9,159.1 71,159.2 71.1,159.4 71.2,159.5 71.3,159.6 71.4,159.8 71.4,159.9 71.5,160 71.6,160.1 71.7,160.3 71.8,160.4 71.9,160.5 72,160.7 72.1,160.8 72.2,160.9 72.3,161 72.3,161.2 72.4,161.3 72.5,161.4 72.6,161.6 72.7,161.7 72.8,161.8 72.9,161.9 73,162.1 73.1,162.2 73.2,162.3 73.3,162.4 73.4,162.6 73.5,162.7 73.6,162.8 73.7,162.9 73.8,163.1 73.9,163.2 74,163.3 74,163.4 74.1,163.6 74.2,163.7 74.3,163.8 74.4,163.9 74.5,164 74.6,164.2 74.7,164.3 74.8,164.4 74.9,164.5 75,164.7 75.1,164.8 75.2,164.9 75.3,165 75.4,165.1 75.5,165.3 75.6,165.4 75.7,165.5 75.9,165.6 76,165.7 76.1,165.9 76.2,166 76.3,166.1 76.4,166.2 76.5,166.3 76.6,166.4 76.7,166.6 76.8,166.7 76.9,166.8 77,166.9 77.1,167 77.2,167.1 77.3,167.3 77.4,167.4 77.5,167.5 77.6,167.6 77.7,167.7 77.9,167.8 78,167.9 78.1,168.1 78.2,168.2 78.3,168.3 78.4,168.4 78.5,168.5 78.6,168.6 78.7,168.7 78.8,168.8 79,168.9 79.1,169.1 79.2,169.2 79.3,169.3 79.4,169.4 79.5,169.5 79.6,169.6 79.7,169.7 79.8,169.8 80,169.9 80.1,170 80.2,170.2 80.3,170.3 80.4,170.4 80.5,170.5 80.6,170.6 80.8,170.7 80.9,170.8 81,170.9 81.1,171 81.2,171.1 81.3,171.2 81.5,171.3 81.6,171.4 81.7,171.5 81.8,171.6 81.9,171.7 82,171.8 82.2,171.9 82.3,172 82.4,172.2 82.5,172.3 82.6,172.4 82.8,172.5 82.9,172.6 83,172.7 83.1,172.8 83.2,172.9 83.4,173 83.5,173.1 83.6,173.2 83.7,173.3 83.9,173.4 84,173.5 84.1,173.6 84.2,173.7 84.3,173.8 84.5,173.9 84.6,173.9 84.7,174 84.8,174.1 85,174.2 85.1,174.3 85.2,174.4 85.3,174.5 85.5,174.6 85.6,174.7 85.7,174.8 85.8,174.9 86,175 86.1,175.1 86.2,175.2 86.3,175.3 86.5,175.4 86.6,175.5 86.7,175.6 86.9,175.6 87,175.7 87.1,175.8 87.2,175.9 87.4,176 87.5,176.1 87.6,176.2 87.8,176.3 87.9,176.4 88,176.5 88.1,176.5 88.3,176.6 88.4,176.7 88.5,176.8 88.7,176.9 88.8,177 88.9,177.1 89.1,177.2 89.2,177.2 89.3,177.3 89.5,177.4 89.6,177.5 89.7,177.6 89.8,177.7 90,177.7 90.1,177.8 90.2,177.9 90.4,178 90.5,178.1 90.6,178.2 90.8,178.2 90.9,178.3 91.1,178.4 91.2,178.5 91.3,178.6 91.5,178.6 91.6,178.7 91.7,178.8 91.9,178.9 92,179 92.1,179 92.3,179.1 92.4,179.2 92.5,179.3 92.7,179.3 92.8,179.4 93,179.5 93.1,179.6 93.2,179.7 93.4,179.7 93.5,179.8 93.6,179.9 93.8,180 93.9,180 94.1,180.1 94.2,180.2 94.3,180.2 94.5,180.3 94.6,180.4 94.8,180.5 94.9,180.5 95,180.6 95.2,180.7 95.3,180.7 95.5,180.8 95.6,180.9 95.7,181 95.9,181 96,181.1 96.2,181.2 96.3,181.2 96.4,181.3 96.6,181.4 96.7,181.4 96.9,181.5 97,181.6 97.2,181.6 97.3,181.7 97.4,181.8 97.6,181.8 97.7,181.9 97.9,182 98,182 98.2,182.1 98.3,182.1 98.5,182.2 98.6,182.3 98.7,182.3 98.9,182.4 99,182.5 99.2,182.5 99.3,182.6 99.5,182.6 99.6,182.7 99.8,182.8 99.9,182.8 100,182.9 100.2,182.9 100.3,183 100.5,183 100.6,183.1 100.8,183.2 100.9,183.2 101.1,183.3 101.2,183.3 101.4,183.4 101.5,183.4 101.7,183.5 101.8,183.5 102,183.6 102.1,183.7 102.2,183.7 102.4,183.8 102.5,183.8 102.7,183.9 102.8,183.9 103,184 103.1,184 103.3,184.1 103.4,184.1 103.6,184.2 103.7,184.2 103.9,184.3 104,184.3 104.2,184.4 104.3,184.4 104.5,184.5 104.6,184.5 104.8,184.6 104.9,184.6 105.1,184.6 105.2,184.7 105.4,184.7 105.5,184.8 105.7,184.8 105.8,184.9 106,184.9 106.1,185 106.3,185 106.4,185 106.6,185.1 106.7,185.1 106.9,185.2 107,185.2 107.2,185.3 107.3,185.3 107.5,185.3 107.7,185.4 107.8,185.4 108,185.5 108.1,185.5 108.3,185.5 108.4,185.6 108.6,185.6 108.7,185.6 108.9,185.7 109,185.7 109.2,185.7 109.3,185.8 109.5,185.8 109.6,185.9 109.8,185.9 109.9,185.9 110.1,186 110.2,186 110.4,186 110.6,186.1 110.7,186.1 110.9,186.1 111,186.2 111.2,186.2 111.3,186.2 111.5,186.2 111.6,186.3 111.8,186.3 111.9,186.3 112.1,186.4 112.3,186.4 112.4,186.4 112.6,186.4 112.7,186.5 112.9,186.5 113,186.5 113.2,186.5 113.3,186.6 113.5,186.6 113.6,186.6 113.8,186.6 114,186.7 114.1,186.7 114.3,186.7 114.4,186.7 114.6,186.8 114.7,186.8 114.9,186.8 115,186.8 115.2,186.9 115.4,186.9 115.5,186.9 115.7,186.9 115.8,186.9 116,186.9 116.1,187 116.3,187 116.4,187 116.6,187 116.8,187 116.9,187.1 117.1,187.1 117.2,187.1 117.4,187.1 117.5,187.1 117.7,187.1 117.9,187.1 118,187.2 118.2,187.2 118.3,187.2 118.5,187.2 118.6,187.2 118.8,187.2 118.9,187.2 119.1,187.2 119.3,187.3 119.4,187.3 119.6,187.3 119.7,187.3 119.9,187.3 120,187.3 120.2,187.3 120.4,187.3 120.5,187.3 120.7,187.3 120.8,187.3 121,187.3 121.1,187.4 121.3,187.4 121.5,187.4 121.6,187.4 121.8,187.4 121.9,187.4 122.1,187.4 122.2,187.4 122.4,187.4 122.6,187.4 122.7,187.4 122.9,187.4 123,187.4 123.2,187.4 123.3,187.4 123.5,187.4 123.7,187.4 123.8,187.4 124,187.4 124.1,187.4 124.3,187.4 124.4,187.4 124.6,187.4 124.8,187.4 124.9,187.4 125.1,187.4 125.2,187.4 125.4,187.4 125.5,187.4 125.7,187.4 125.9,187.4 126,187.3 126.2,187.3 126.3,187.3 126.5,187.3 126.6,187.3 126.8,187.3 127,187.3 127.1,187.3 127.3,187.3 127.4,187.3 127.6,187.3 127.7,187.3 127.9,187.2 128.1,187.2 128.2,187.2 128.4,187.2 128.5,187.2 128.7,187.2 128.8,187.2 129,187.2 129.1,187.1 129.3,187.1 129.5,187.1 129.6,187.1 129.8,187.1 129.9,187.1 130.1,187.1 130.2,187 130.4,187 130.6,187 130.7,187 130.9,187 131,186.9 131.2,186.9 131.3,186.9 131.5,186.9 131.6,186.9 131.8,186.9 132,186.8 132.1,186.8 132.3,186.8 132.4,186.8 132.6,186.7 132.7,186.7 132.9,186.7 133,186.7 133.2,186.6 133.4,186.6 133.5,186.6 133.7,186.6 133.8,186.5 134,186.5 134.1,186.5 134.3,186.5 134.4,186.4 134.6,186.4 134.7,186.4 134.9,186.4 135.1,186.3 135.2,186.3 135.4,186.3 135.5,186.2 135.7,186.2 135.8,186.2 136,186.2 136.1,186.1 136.3,186.1 136.4,186.1 136.6,186 136.8,186 136.9,186 137.1,185.9 137.2,185.9 137.4,185.9 137.5,185.8 137.7,185.8 137.8,185.7 138,185.7 138.1,185.7 138.3,185.6 138.4,185.6 138.6,185.6 138.7,185.5 138.9,185.5 139,185.5 139.2,185.4 139.3,185.4 139.5,185.3 139.7,185.3 139.8,185.3 140,185.2 140.1,185.2 140.3,185.1 140.4,185.1 140.6,185 140.7,185 140.9,185 141,184.9 141.2,184.9 141.3,184.8 141.5,184.8 141.6,184.7 141.8,184.7 141.9,184.6 142.1,184.6 142.2,184.6 142.4,184.5 142.5,184.5 142.7,184.4 142.8,184.4 143,184.3 143.1,184.3 143.3,184.2 143.4,184.2 143.6,184.1 143.7,184.1 143.9,184 144,184 144.2,183.9 144.3,183.9 144.5,183.8 144.6,183.8 144.8,183.7 144.9,183.7 145,183.6 145.2,183.5 145.3,183.5 145.5,183.4 145.6,183.4 145.8,183.3 145.9,183.3 146.1,183.2 146.2,183.2 146.4,183.1 146.5,183 146.7,183 146.8,182.9 147,182.9 147.1,182.8 147.2,182.8 147.4,182.7 147.5,182.6 147.7,182.6 147.8,182.5 148,182.5 148.1,182.4 148.3,182.3 148.4,182.3 148.5,182.2 148.7,182.1 148.8,182.1 149,182 149.1,182 149.3,181.9 149.4,181.8 149.6,181.8 149.7,181.7 149.8,181.6 150,181.6 150.1,181.5 150.3,181.4 150.4,181.4 150.6,181.3 150.7,181.2 150.8,181.2 151,181.1 151.1,181 151.3,181 151.4,180.9 151.5,180.8 151.7,180.7 151.8,180.7 152,180.6 152.1,180.5 152.2,180.5 152.4,180.4 152.5,180.3 152.7,180.2 152.8,180.2 152.9,180.1 153.1,180 153.2,180 153.4,179.9 153.5,179.8 153.6,179.7 153.8,179.7 153.9,179.6 154,179.5 154.2,179.4 154.3,179.3 154.5,179.3 154.6,179.2 154.7,179.1 154.9,179 155,179 155.1,178.9 155.3,178.8 155.4,178.7 155.5,178.6 155.7,178.6 155.8,178.5 155.9,178.4 156.1,178.3 156.2,178.2 156.4,178.2 156.5,178.1 156.6,178 156.8,177.9 156.9,177.8 157,177.7 157.2,177.7 157.3,177.6 157.4,177.5 157.5,177.4 157.7,177.3 157.8,177.2 157.9,177.2 158.1,177.1 158.2,177 158.3,176.9 158.5,176.8 158.6,176.7 158.7,176.6 158.9,176.5 159,176.5 159.1,176.4 159.2,176.3 159.4,176.2 159.5,176.1 159.6,176 159.8,175.9 159.9,175.8 160,175.7 160.1,175.6 160.3,175.6 160.4,175.5 160.5,175.4 160.7,175.3 160.8,175.2 160.9,175.1 161,175 161.2,174.9 161.3,174.8 161.4,174.7 161.5,174.6 161.7,174.5 161.8,174.4 161.9,174.3 162,174.2 162.2,174.1 162.3,174 162.4,173.9 162.5,173.9 162.7,173.8 162.8,173.7 162.9,173.6 163,173.5 163.1,173.4 163.3,173.3 163.4,173.2 163.5,173.1 163.6,173 163.8,172.9 163.9,172.8 164,172.7 164.1,172.6 164.2,172.5 164.4,172.4 164.5,172.3 164.6,172.2 164.7,172 164.8,171.9 165,171.8 165.1,171.7 165.2,171.6 165.3,171.5 165.4,171.4 165.5,171.3 165.7,171.2 165.8,171.1 165.9,171 166,170.9 166.1,170.8 166.2,170.7 166.4,170.6 166.5,170.5 166.6,170.4 166.7,170.3 166.8,170.2 166.9,170 167,169.9 167.2,169.8 167.3,169.7 167.4,169.6 167.5,169.5 167.6,169.4 167.7,169.3 167.8,169.2 167.9,169.1 168,168.9 168.2,168.8 168.3,168.7 168.4,168.6 168.5,168.5 168.6,168.4 168.7,168.3 168.8,168.2 168.9,168.1 169,167.9 169.1,167.8 169.3,167.7 169.4,167.6 169.5,167.5 169.6,167.4 169.7,167.3 169.8,167.1 169.9,167 170,166.9 170.1,166.8 170.2,166.7 170.3,166.6 170.4,166.4 170.5,166.3 170.6,166.2 170.7,166.1 170.8,166 170.9,165.9 171,165.7 171.1,165.6 171.3,165.5 171.4,165.4 171.5,165.3 171.6,165.1 171.7,165 171.8,164.9 171.9,164.8 172,164.7 172.1,164.5 172.2,164.4 172.3,164.3 172.4,164.2 172.5,164 172.6,163.9 172.7,163.8 172.8,163.7 172.9,163.6 173,163.4 173,163.3 173.1,163.2 173.2,163.1 173.3,162.9 173.4,162.8 173.5,162.7 173.6,162.6 173.7,162.4 173.8,162.3 173.9,162.2 174,162.1 174.1,161.9 174.2,161.8 174.3,161.7 174.4,161.6 174.5,161.4 174.6,161.3 174.7,161.2 174.7,161 174.8,160.9 174.9,160.8 175,160.7 175.1,160.5 175.2,160.4 175.3,160.3 175.4,160.1 175.5,160 175.6,159.9 175.6,159.8 175.7,159.6 175.8,159.5 175.9,159.4 176,159.2 176.1,159.1 176.2,159 176.3,158.8 176.3,158.7 176.4,158.6 176.5,158.4 176.6,158.3 176.7,158.2 176.8,158.1 176.8,157.9 176.9,157.8 177,157.7 177.1,157.5 177.2,157.4 177.3,157.3 177.3,157.1 177.4,157 177.5,156.8 177.6,156.7 177.7,156.6 177.7,156.4 177.8,156.3 177.9,156.2 178,156 178.1,155.9 178.1,155.8 178.2,155.6 178.3,155.5 178.4,155.4 178.4,155.2 178.5,155.1 178.6,154.9 178.7,154.8 178.8,154.7 178.8,154.5 178.9,154.4 179,154.3 179.1,154.1 179.1,154 179.2,153.8 179.3,153.7 179.3,153.6 179.4,153.4 179.5,153.3 179.6,153.1 179.6,153 179.7,152.9 179.8,152.7 179.8,152.6 179.9,152.4 180,152.3 180.1,152.2 180.1,152 180.2,151.9 180.3,151.7 180.3,151.6 180.4,151.5 180.5,151.3 180.5,151.2 180.6,151 180.7,150.9 180.7,150.7 180.8,150.6 180.9,150.5 180.9,150.3 181,150.2 181.1,150 181.1,149.9 181.2,149.7 181.2,149.6 181.3,149.4 181.4,149.3 181.4,149.2 181.5,149 181.6,148.9 181.6,148.7 181.7,148.6 181.7,148.4 181.8,148.3 181.9,148.1 181.9,148 182,147.9 182,147.7 182.1,147.6 182.1,147.4 182.2,147.3 182.3,147.1 182.3,147 182.4,146.8 182.4,146.7 182.5,146.5 182.5,146.4 182.6,146.2 182.6,146.1 182.7,145.9 182.8,145.8 182.8,145.7 182.9,145.5 182.9,145.4 183,145.2 183,145.1 183.1,144.9 183.1,144.8 183.2,144.6 183.2,144.5 183.3,144.3 183.3,144.2 183.4,144 183.4,143.9 183.5,143.7 183.5,143.6 183.6,143.4 183.6,143.3 183.7,143.1 183.7,143 183.7,142.8 183.8,142.7 183.8,142.5 183.9,142.4 183.9,142.2 184,142.1 184,141.9 184.1,141.8 184.1,141.6 184.1,141.5 184.2,141.3 184.2,141.2 184.3,141 184.3,140.9 184.4,140.7 184.4,140.6 184.4,140.4 184.5,140.2 184.5,140.1 184.6,139.9 184.6,139.8 184.6,139.6 184.7,139.5 184.7,139.3 184.7,139.2 184.8,139 184.8,138.9 184.8,138.7 184.9,138.6 184.9,138.4 185,138.3 185,138.1 185,138 185.1,137.8 185.1,137.7 185.1,137.5 185.2,137.3 185.2,137.2 185.2,137 185.3,136.9 185.3,136.7 185.3,136.6 185.3,136.4 185.4,136.3 185.4,136.1 185.4,136 185.5,135.8 185.5,135.6 185.5,135.5 185.5,135.3 185.6,135.2 185.6,135 185.6,134.9 185.6,134.7 185.7,134.6 185.7,134.4 185.7,134.3 185.7,134.1 185.8,133.9 185.8,133.8 185.8,133.6 185.8,133.5 185.9,133.3 185.9,133.2 185.9,133 185.9,132.9 186,132.7 186,132.5 186,132.4 186,132.2 186,132.1 186,131.9 186.1,131.8 186.1,131.6 186.1,131.5 186.1,131.3 186.1,131.1 186.2,131 186.2,130.8 186.2,130.7 186.2,130.5 186.2,130.4 186.2,130.2 186.2,130 186.3,129.9 186.3,129.7 186.3,129.6 186.3,129.4 186.3,129.3 186.3,129.1 186.3,129 186.3,128.8 186.4,128.6 186.4,128.5 186.4,128.3 186.4,128.2 186.4,128 186.4,127.9 186.4,127.7 186.4,127.5 186.4,127.4 186.4,127.2 186.4,127.1 186.4,126.9 186.5,126.8 186.5,126.6 186.5,126.4 186.5,126.3 186.5,126.1 186.5,126 186.5,125.8 186.5,125.7 186.5,125.5 186.5,125.3 186.5,125.2 186.5,125 186.5,124.9 186.5,124.7 186.5,124.6 186.5,124.4 186.5,124.2 186.5,124.1 186.5,123.9 186.5,123.8 186.5,123.6 186.5,123.5 186.5,123.3 186.5,123.1 186.5,123 186.5,122.8 186.5,122.7 186.5,122.5 186.5,122.4 186.5,122.2 186.5,122 186.4,121.9 186.4,121.7 186.4,121.6 186.4,121.4 186.4,121.3 186.4,121.1 186.4,120.9 186.4,120.8 186.4,120.6 186.4,120.5 186.4,120.3 186.4,120.2 186.3,120 186.3,119.8 186.3,119.7 186.3,119.5 186.3,119.4 186.3,119.2 186.3,119.1 186.3,118.9 186.2,118.8 186.2,118.6 186.2,118.4 186.2,118.3 186.2,118.1 186.2,118 186.2,117.8 186.1,117.7 186.1,117.5 186.1,117.3 186.1,117.2 186.1,117 186,116.9 186,116.7 186,116.6 186,116.4 186,116.3 186,116.1 185.9,115.9 185.9,115.8 185.9,115.6 185.9,115.5 185.8,115.3 185.8,115.2 185.8,115 185.8,114.9 185.7,114.7 185.7,114.5 185.7,114.4 185.7,114.2 185.6,114.1 185.6,113.9 185.6,113.8 185.6,113.6 185.5,113.5 185.5,113.3 185.5,113.2 185.5,113 185.4,112.8 185.4,112.7 185.4,112.5 185.3,112.4 185.3,112.2 185.3,112.1 185.3,111.9 185.2,111.8 185.2,111.6 185.2,111.5 185.1,111.3 185.1,111.1 185.1,111 185,110.8 185,110.7 185,110.5 184.9,110.4 184.9,110.2 184.8,110.1 184.8,109.9 184.8,109.8 184.7,109.6 184.7,109.5 184.7,109.3 184.6,109.2 184.6,109 184.6,108.9 184.5,108.7 184.5,108.6 184.4,108.4 184.4,108.2 184.4,108.1 184.3,107.9 184.3,107.8 184.2,107.6 184.2,107.5 184.1,107.3 184.1,107.2 184.1,107 184,106.9 184,106.7 183.9,106.6 183.9,106.4 183.8,106.3 183.8,106.1 183.7,106 183.7,105.8 183.7,105.7 183.6,105.5 183.6,105.4 183.5,105.2 183.5,105.1 183.4,104.9 183.4,104.8 183.3,104.6 183.3,104.5 183.2,104.3 183.2,104.2 183.1,104 183.1,103.9 183,103.7 183,103.6 182.9,103.4 182.9,103.3 182.8,103.1 182.8,103 182.7,102.9 182.6,102.7 182.6,102.6 182.5,102.4 182.5,102.3 182.4,102.1 182.4,102 182.3,101.8 182.3,101.7 182.2,101.5 182.1,101.4 182.1,101.2 182,101.1 182,100.9 181.9,100.8 181.9,100.7 181.8,100.5 181.7,100.4 181.7,100.2 181.6,100.1 181.6,99.9 181.5,99.8 181.4,99.6 181.4,99.5 181.3,99.4 181.2,99.2 181.2,99.1 181.1,98.9 181.1,98.8 181,98.6 180.9,98.5 180.9,98.3 180.8,98.2 180.7,98.1 180.7,97.9 180.6,97.8 180.5,97.6 180.5,97.5 180.4,97.3 180.3,97.2 180.3,97.1 180.2,96.9 180.1,96.8 180.1,96.6 180,96.5 179.9,96.4 179.8,96.2 179.8,96.1 179.7,95.9 179.6,95.8 179.6,95.7 179.5,95.5 179.4,95.4 179.3,95.2 179.3,95.1 179.2,95 179.1,94.8 179.1,94.7 179,94.5 178.9,94.4 178.8,94.3 178.8,94.1 178.7,94 178.6,93.9 178.5,93.7 178.4,93.6 178.4,93.4 178.3,93.3 178.2,93.2 178.1,93 178.1,92.9 178,92.8 177.9,92.6 177.8,92.5 177.7,92.4 177.7,92.2 177.6,92.1 177.5,92 177.4,91.8 177.3,91.7 177.3,91.5 177.2,91.4 177.1,91.3 177,91.1 176.9,91 176.8,90.9 176.8,90.7 176.7,90.6 176.6,90.5 176.5,90.4 176.4,90.2 176.3,90.1 176.3,90 176.2,89.8 176.1,89.7 176,89.6 175.9,89.4 175.8,89.3 175.7,89.2 175.6,89 175.6,88.9 175.5,88.8 175.4,88.7 175.3,88.5 175.2,88.4 175.1,88.3 175,88.1 174.9,88 174.8,87.9 174.7,87.8 174.7,87.6 174.6,87.5 174.5,87.4 174.4,87.2 174.3,87.1 174.2,87 174.1,86.9 174,86.7 173.9,86.6 173.8,86.5 173.7,86.4 173.6,86.2 173.5,86.1 173.4,86 173.3,85.9 173.2,85.7 173.1,85.6 173,85.5 173,85.4 172.9,85.2 172.8,85.1 172.7,85 172.6,84.9 172.5,84.8 172.4,84.6 172.3,84.5 172.2,84.4 172.1,84.3 172,84.1 171.9,84 171.8,83.9 171.7,83.8 171.6,83.7 171.5,83.5 171.4,83.4 171.3,83.3 171.1,83.2 171,83.1 170.9,82.9 170.8,82.8 170.7,82.7 170.6,82.6 170.5,82.5 170.4,82.4 170.3,82.2 170.2,82.1 170.1,82 170,81.9 169.9,81.8 169.8,81.7 169.7,81.5 169.6,81.4 169.5,81.3 169.4,81.2 169.3,81.1 169.1,81 169,80.9 168.9,80.7 168.8,80.6 168.7,80.5 168.6,80.4 168.5,80.3 168.4,80.2 168.3,80.1 168.2,80 168,79.9 167.9,79.7 167.8,79.6 167.7,79.5 167.6,79.4 167.5,79.3 167.4,79.2 167.3,79.1 167.2,79 167,78.9 166.9,78.8 166.8,78.6 166.7,78.5 166.6,78.4 166.5,78.3 166.4,78.2 166.2,78.1 166.1,78 166,77.9 165.9,77.8 165.8,77.7 165.7,77.6 165.5,77.5 165.4,77.4 165.3,77.3 165.2,77.2 165.1,77.1 165,77 164.8,76.9 164.7,76.8 164.6,76.6 164.5,76.5 164.4,76.4 164.2,76.3 164.1,76.2 164,76.1 163.9,76 163.8,75.9 163.6,75.8 163.5,75.7 163.4,75.6 163.3,75.5 163.1,75.4 163,75.3 162.9,75.2 162.8,75.1 162.7,75 162.5,74.9 162.4,74.9 162.3,74.8 162.2,74.7 162,74.6 161.9,74.5 161.8,74.4 161.7,74.3 161.5,74.2 161.4,74.1 161.3,74 161.2,73.9 161,73.8 160.9,73.7 160.8,73.6 160.7,73.5 160.5,73.4 160.4,73.3 160.3,73.2 160.1,73.2 160,73.1 159.9,73 159.8,72.9 159.6,72.8 159.5,72.7 159.4,72.6 159.2,72.5 159.1,72.4 159,72.3 158.9,72.3 158.7,72.2 158.6,72.1 158.5,72 158.3,71.9 158.2,71.8 158.1,71.7 157.9,71.6 157.8,71.6 157.7,71.5 157.5,71.4 157.4,71.3 157.3,71.2 157.2,71.1 157,71.1 156.9,71 156.8,70.9 156.6,70.8 156.5,70.7 156.4,70.6 156.2,70.6 156.1,70.5 155.9,70.4 155.8,70.3 155.7,70.2 155.5,70.2 155.4,70.1 155.3,70 155.1,69.9 155,69.8 154.9,69.8 154.7,69.7 154.6,69.6 154.5,69.5 154.3,69.5 154.2,69.4 154,69.3 153.9,69.2 153.8,69.1 153.6,69.1 153.5,69 153.4,68.9 153.2,68.8 153.1,68.8 152.9,68.7 152.8,68.6 152.7,68.6 152.5,68.5 152.4,68.4 152.2,68.3 152.1,68.3 152,68.2 151.8,68.1 151.7,68.1 151.5,68 151.4,67.9 151.3,67.8 151.1,67.8 151,67.7 150.8,67.6 150.7,67.6 150.6,67.5 150.4,67.4 150.3,67.4 150.1,67.3 150,67.2 149.8,67.2 149.7,67.1 149.6,67 149.4,67 149.3,66.9 149.1,66.8 149,66.8 148.8,66.7 148.7,66.7 148.5,66.6 148.4,66.5 148.3,66.5 148.1,66.4 148,66.3 147.8,66.3 147.7,66.2 147.5,66.2 147.4,66.1 147.2,66 147.1,66 147,65.9 146.8,65.9 146.7,65.8 146.5,65.8 146.4,65.7 146.2,65.6 146.1,65.6 145.9,65.5 145.8,65.5 145.6,65.4 145.5,65.4 145.3,65.3 145.2,65.3 145,65.2 144.9,65.1 144.8,65.1 144.6,65 144.5,65 144.3,64.9 144.2,64.9 144,64.8 143.9,64.8 143.7,64.7 143.6,64.7 143.4,64.6 143.3,64.6 143.1,64.5 143,64.5 142.8,64.4 142.7,64.4 142.5,64.3 142.4,64.3 142.2,64.2 142.1,64.2 141.9,64.2 141.8,64.1 141.6,64.1 141.5,64 141.3,64 141.2,63.9 141,63.9 140.9,63.8 140.7,63.8 140.6,63.8 140.4,63.7 140.3,63.7 140.1,63.6 140,63.6 139.8,63.5 139.7,63.5 139.5,63.5 139.3,63.4 139.2,63.4 139,63.3 138.9,63.3 138.7,63.3 138.6,63.2 138.4,63.2 138.3,63.2 138.1,63.1 138,63.1 137.8,63.1 137.7,63 137.5,63 137.4,62.9 137.2,62.9 137.1,62.9 136.9,62.8 136.8,62.8 136.6,62.8 136.4,62.7 136.3,62.7 136.1,62.7 136,62.6 135.8,62.6 135.7,62.6 135.5,62.6 135.4,62.5 135.2,62.5 135.1,62.5 134.9,62.4 134.7,62.4 134.6,62.4 134.4,62.4 134.3,62.3 134.1,62.3 134,62.3 133.8,62.3 133.7,62.2 133.5,62.2 133.4,62.2 133.2,62.2 133,62.1 132.9,62.1 132.7,62.1 132.6,62.1 132.4,62 132.3,62 132.1,62 132,62 131.8,61.9 131.6,61.9 131.5,61.9 131.3,61.9 131.2,61.9 131,61.9 130.9,61.8 130.7,61.8 130.6,61.8 130.4,61.8 130.2,61.8 130.1,61.7 129.9,61.7 129.8,61.7 129.6,61.7 129.5,61.7 129.3,61.7 129.1,61.7 129,61.6 128.8,61.6 128.7,61.6 128.5,61.6 128.4,61.6 128.2,61.6 128.1,61.6 127.9,61.6 127.7,61.5 127.6,61.5 127.4,61.5 127.3,61.5 127.1,61.5 127,61.5 126.8,61.5 126.6,61.5 126.5,61.5 126.3,61.5 126.2,61.5 126,61.5 125.9,61.4 125.7,61.4 125.5,61.4 125.4,61.4 125.2,61.4 125.1,61.4 124.9,61.4 124.8,61.4 124.6,61.4 124.4,61.4 124.3,61.4 124.1,61.4 124,61.4 123.8,61.4 123.7,61.4 123.5,61.4Z" fill="#08a808"/><path d="M123.5,61.4 123.7,61.4 123.8,61.4 124,61.4 124.1,61.4 124.3,61.4 124.4,61.4 124.6,61.4 124.8,61.4 124.9,61.4 125.1,61.4 125.2,61.4 125.4,61.4 125.5,61.4 125.7,61.4 125.9,61.4 126,61.5 126.2,61.5 126.3,61.5 126.5,61.5 126.6,61.5 126.8,61.5 127,61.5 127.1,61.5 127.3,61.5 127.4,61.5 127.6,61.5 127.7,61.5 127.9,61.6 128.1,61.6 128.2,61.6 128.4,61.6 128.5,61.6 128.7,61.6 128.8,61.6 129,61.6 129.1,61.7 129.3,61.7 129.5,61.7 129.6,61.7 129.8,61.7 129.9,61.7 130.1,61.7 130.2,61.8 130.4,61.8 130.6,61.8 130.7,61.8 130.9,61.8 131,61.9 131.2,61.9 131.3,61.9 131.5,61.9 131.6,61.9 131.8,61.9 132,62 132.1,62 132.3,62 132.4,62 132.6,62.1 132.7,62.1 132.9,62.1 133,62.1 133.2,62.2 133.4,62.2 133.5,62.2 133.7,62.2 133.8,62.3 134,62.3 134.1,62.3 134.3,62.3 134.4,62.4 134.6,62.4 134.7,62.4 134.9,62.4 135.1,62.5 135.2,62.5 135.4,62.5 135.5,62.6 135.7,62.6 135.8,62.6 136,62.6 136.1,62.7 136.3,62.7 136.4,62.7 136.6,62.8 136.8,62.8 136.9,62.8 137.1,62.9 137.2,62.9 137.4,62.9 137.5,63 137.7,63 137.8,63.1 138,63.1 138.1,63.1 138.3,63.2 138.4,63.2 138.6,63.2 138.7,63.3 138.9,63.3 139,63.3 139.2,63.4 139.3,63.4 139.5,63.5 139.7,63.5 139.8,63.5 140,63.6 140.1,63.6 140.3,63.7 140.4,63.7 140.6,63.8 140.7,63.8 140.9,63.8 141,63.9 141.2,63.9 141.3,64 141.5,64 141.6,64.1 141.8,64.1 141.9,64.2 142.1,64.2 142.2,64.2 142.4,64.3 142.5,64.3 142.7,64.4 142.8,64.4 143,64.5 143.1,64.5 143.3,64.6 143.4,64.6 143.6,64.7 143.7,64.7 143.9,64.8 144,64.8 144.2,64.9 144.3,64.9 144.5,65 144.6,65 144.8,65.1 144.9,65.1 145,65.2 145.2,65.3 145.3,65.3 145.5,65.4 145.6,65.4 145.8,65.5 145.9,65.5 146.1,65.6 146.2,65.6 146.4,65.7 146.5,65.8 146.7,65.8 146.8,65.9 147,65.9 147.1,66 147.2,66 147.4,66.1 147.5,66.2 147.7,66.2 147.8,66.3 148,66.3 148.1,66.4 148.3,66.5 148.4,66.5 148.5,66.6 148.7,66.7 148.8,66.7 149,66.8 149.1,66.8 149.3,66.9 149.4,67 149.6,67 149.7,67.1 149.8,67.2 150,67.2 150.1,67.3 150.3,67.4 150.4,67.4 150.6,67.5 150.7,67.6 150.8,67.6 151,67.7 151.1,67.8 151.3,67.8 151.4,67.9 151.5,68 151.7,68.1 151.8,68.1 152,68.2 152.1,68.3 152.2,68.3 152.4,68.4 152.5,68.5 152.7,68.6 152.8,68.6 152.9,68.7 153.1,68.8 153.2,68.8 153.4,68.9 153.5,69 153.6,69.1 153.8,69.1 153.9,69.2 154,69.3 154.2,69.4 154.3,69.5 154.5,69.5 154.6,69.6 154.7,69.7 154.9,69.8 155,69.8 155.1,69.9 155.3,70 155.4,70.1 155.5,70.2 155.7,70.2 155.8,70.3 155.9,70.4 156.1,70.5 156.2,70.6 156.4,70.6 156.5,70.7 156.6,70.8 156.8,70.9 156.9,71 157,71.1 157.2,71.1 157.3,71.2 157.4,71.3 157.5,71.4 157.7,71.5 157.8,71.6 157.9,71.6 158.1,71.7 158.2,71.8 158.3,71.9 158.5,72 158.6,72.1 158.7,72.2 158.9,72.3 159,72.3 159.1,72.4 159.2,72.5 159.4,72.6 159.5,72.7 159.6,72.8 159.8,72.9 159.9,73 160,73.1 160.1,73.2 160.3,73.2 160.4,73.3 160.5,73.4 160.7,73.5 160.8,73.6 160.9,73.7 161,73.8 161.2,73.9 161.3,74 161.4,74.1 161.5,74.2 161.7,74.3 161.8,74.4 161.9,74.5 162,74.6 162.2,74.7 162.3,74.8 162.4,74.9 162.5,74.9 162.7,75 162.8,75.1 162.9,75.2 163,75.3 163.1,75.4 163.3,75.5 163.4,75.6 163.5,75.7 163.6,75.8 163.8,75.9 163.9,76 164,76.1 164.1,76.2 164.2,76.3 164.4,76.4 164.5,76.5 164.6,76.6 164.7,76.8 164.8,76.9 165,77 165.1,77.1 165.2,77.2 165.3,77.3 165.4,77.4 165.5,77.5 165.7,77.6 165.8,77.7 165.9,77.8 166,77.9 166.1,78 166.2,78.1 166.4,78.2 166.5,78.3 166.6,78.4 166.7,78.5 166.8,78.6 166.9,78.8 167,78.9 167.2,79 167.3,79.1 167.4,79.2 167.5,79.3 167.6,79.4 167.7,79.5 167.8,79.6 167.9,79.7 168,79.9 168.2,80 168.3,80.1 168.4,80.2 168.5,80.3 168.6,80.4 168.7,80.5 168.8,80.6 168.9,80.7 169,80.9 169.1,81 169.3,81.1 169.4,81.2 169.5,81.3 169.6,81.4 169.7,81.5 169.8,81.7 169.9,81.8 170,81.9 170.1,82 170.2,82.1 170.3,82.2 170.4,82.4 170.5,82.5 170.6,82.6 170.7,82.7 170.8,82.8 170.9,82.9 171,83.1 171.1,83.2 171.3,83.3 171.4,83.4 171.5,83.5 171.6,83.7 171.7,83.8 171.8,83.9 171.9,84 172,84.1 172.1,84.3 172.2,84.4 172.3,84.5 172.4,84.6 172.5,84.8 172.6,84.9 172.7,85 172.8,85.1 172.9,85.2 173,85.4 173,85.5 173.1,85.6 173.2,85.7 173.3,85.9 173.4,86 173.5,86.1 173.6,86.2 173.7,86.4 173.8,86.5 173.9,86.6 174,86.7 174.1,86.9 174.2,87 174.3,87.1 174.4,87.2 174.5,87.4 174.6,87.5 174.7,87.6 174.7,87.8 174.8,87.9 174.9,88 175,88.1 175.1,88.3 175.2,88.4 175.3,88.5 175.4,88.7 175.5,88.8 175.6,88.9 175.6,89 175.7,89.2 175.8,89.3 175.9,89.4 176,89.6 176.1,89.7 176.2,89.8 176.3,90 176.3,90.1 176.4,90.2 176.5,90.4 176.6,90.5 176.7,90.6 176.8,90.7 176.8,90.9 176.9,91 177,91.1 177.1,91.3 177.2,91.4 177.3,91.5 177.3,91.7 177.4,91.8 177.5,92 177.6,92.1 177.7,92.2 177.7,92.4 177.8,92.5 177.9,92.6 178,92.8 178.1,92.9 178.1,93 178.2,93.2 178.3,93.3 178.4,93.4 178.4,93.6 178.5,93.7 178.6,93.9 178.7,94 178.8,94.1 178.8,94.3 178.9,94.4 179,94.5 179.1,94.7 179.1,94.8 179.2,95 179.3,95.1 179.3,95.2 179.4,95.4 179.5,95.5 179.6,95.7 179.6,95.8 179.7,95.9 179.8,96.1 179.8,96.2 179.9,96.4 180,96.5 180.1,96.6 180.1,96.8 180.2,96.9 180.3,97.1 180.3,97.2 180.4,97.3 180.5,97.5 180.5,97.6 180.6,97.8 180.7,97.9 180.7,98.1 180.8,98.2 180.9,98.3 180.9,98.5 181,98.6 181.1,98.8 181.1,98.9 181.2,99.1 181.2,99.2 181.3,99.4 181.4,99.5 181.4,99.6 181.5,99.8 181.6,99.9 181.6,100.1 181.7,100.2 181.7,100.4 181.8,100.5 181.9,100.7 181.9,100.8 182,100.9 182,101.1 182.1,101.2 182.1,101.4 182.2,101.5 182.3,101.7 182.3,101.8 182.4,102 182.4,102.1 182.5,102.3 182.5,102.4 182.6,102.6 182.6,102.7 182.7,102.9 182.8,103 182.8,103.1 182.9,103.3 182.9,103.4 183,103.6 183,103.7 183.1,103.9 183.1,104 183.2,104.2 183.2,104.3 183.3,104.5 183.3,104.6 183.4,104.8 183.4,104.9 183.5,105.1 183.5,105.2 183.6,105.4 183.6,105.5 183.7,105.7 183.7,105.8 183.7,106 183.8,106.1 183.8,106.3 183.9,106.4 183.9,106.6 184,106.7 184,106.9 184.1,107 184.1,107.2 184.1,107.3 184.2,107.5 184.2,107.6 184.3,107.8 184.3,107.9 184.4,108.1 184.4,108.2 184.4,108.4 184.5,108.6 184.5,108.7 184.6,108.9 184.6,109 184.6,109.2 184.7,109.3 184.7,109.5 184.7,109.6 184.8,109.8 184.8,109.9 184.8,110.1 184.9,110.2 184.9,110.4 185,110.5 185,110.7 185,110.8 185.1,111 185.1,111.1 185.1,111.3 185.2,111.5 185.2,111.6 185.2,111.8 185.3,111.9 185.3,112.1 185.3,112.2 185.3,112.4 185.4,112.5 185.4,112.7 185.4,112.8 185.5,113 185.5,113.2 185.5,113.3 185.5,113.5 185.6,113.6 185.6,113.8 185.6,113.9 185.6,114.1 185.7,114.2 185.7,114.4 185.7,114.5 185.7,114.7 185.8,114.9 185.8,115 185.8,115.2 185.8,115.3 185.9,115.5 185.9,115.6 185.9,115.8 185.9,115.9 186,116.1 186,116.3 186,116.4 186,116.6 186,116.7 186,116.9 186.1,117 186.1,117.2 186.1,117.3 186.1,117.5 186.1,117.7 186.2,117.8 186.2,118 186.2,118.1 186.2,118.3 186.2,118.4 186.2,118.6 186.2,118.8 186.3,118.9 186.3,119.1 186.3,119.2 186.3,119.4 186.3,119.5 186.3,119.7 186.3,119.8 186.3,120 186.4,120.2 186.4,120.3 186.4,120.5 186.4,120.6 186.4,120.8 186.4,120.9 186.4,121.1 186.4,121.3 186.4,121.4 186.4,121.6 186.4,121.7 186.4,121.9 186.5,122 186.5,122.2 186.5,122.4 186.5,122.5 186.5,122.7 186.5,122.8 186.5,123 186.5,123.1 186.5,123.3 186.5,123.5 186.5,123.6 186.5,123.8 186.5,123.9 186.5,124.1 186.5,124.2 186.5,124.4 186.5,124.6 186.5,124.7 186.5,124.9 186.5,125 186.5,125.2 186.5,125.3 186.5,125.5 186.5,125.7 186.5,125.8 186.5,126 186.5,126.1 186.5,126.3 186.5,126.4 186.5,126.6 186.5,126.8 186.4,126.9 186.4,127.1 186.4,127.2 186.4,127.4 186.4,127.5 186.4,127.7 186.4,127.9 186.4,128 186.4,128.2 186.4,128.3 186.4,128.5 186.4,128.6 186.3,128.8 186.3,129 186.3,129.1 186.3,129.3 186.3,129.4 186.3,129.6 186.3,129.7 186.3,129.9 186.2,130 186.2,130.2 186.2,130.4 186.2,130.5 186.2,130.7 186.2,130.8 186.2,131 186.1,131.1 186.1,131.3 186.1,131.5 186.1,131.6 186.1,131.8 186,131.9 186,132.1 186,132.2 186,132.4 186,132.5 186,132.7 185.9,132.9 185.9,133 185.9,133.2 185.9,133.3 185.8,133.5 185.8,133.6 185.8,133.8 185.8,133.9 185.7,134.1 185.7,134.3 185.7,134.4 185.7,134.6 185.6,134.7 185.6,134.9 185.6,135 185.6,135.2 185.5,135.3 185.5,135.5 185.5,135.6 185.5,135.8 185.4,136 185.4,136.1 185.4,136.3 185.3,136.4 185.3,136.6 185.3,136.7 185.3,136.9 185.2,137 185.2,137.2 185.2,137.3 185.1,137.5 185.1,137.7 185.1,137.8 185,138 185,138.1 185,138.3 184.9,138.4 184.9,138.6 184.8,138.7 184.8,138.9 184.8,139 184.7,139.2 184.7,139.3 184.7,139.5 184.6,139.6 184.6,139.8 184.6,139.9 184.5,140.1 184.5,140.2 184.4,140.4 184.4,140.6 184.4,140.7 184.3,140.9 184.3,141 184.2,141.2 184.2,141.3 184.1,141.5 184.1,141.6 184.1,141.8 184,141.9 184,142.1 183.9,142.2 183.9,142.4 183.8,142.5 183.8,142.7 183.7,142.8 183.7,143 183.7,143.1 183.6,143.3 183.6,143.4 183.5,143.6 183.5,143.7 183.4,143.9 183.4,144 183.3,144.2 183.3,144.3 183.2,144.5 183.2,144.6 183.1,144.8 183.1,144.9 183,145.1 183,145.2 182.9,145.4 182.9,145.5 182.8,145.7 182.8,145.8 182.7,145.9 182.6,146.1 182.6,146.2 182.5,146.4 182.5,146.5 182.4,146.7 182.4,146.8 182.3,147 182.3,147.1 182.2,147.3 182.1,147.4 182.1,147.6 182,147.7 182,147.9 181.9,148 181.9,148.1 181.8,148.3 181.7,148.4 181.7,148.6 181.6,148.7 181.6,148.9 181.5,149 181.4,149.2 181.4,149.3 181.3,149.4 181.2,149.6 181.2,149.7 181.1,149.9 181.1,150 181,150.2 180.9,150.3 180.9,150.5 180.8,150.6 180.7,150.7 180.7,150.9 180.6,151 180.5,151.2 180.5,151.3 180.4,151.5 180.3,151.6 180.3,151.7 180.2,151.9 180.1,152 180.1,152.2 180,152.3 179.9,152.4 179.8,152.6 179.8,152.7 179.7,152.9 179.6,153 179.6,153.1 179.5,153.3 179.4,153.4 179.3,153.6 179.3,153.7 179.2,153.8 179.1,154 179.1,154.1 179,154.3 178.9,154.4 178.8,154.5 178.8,154.7 178.7,154.8 178.6,154.9 178.5,155.1 178.4,155.2 178.4,155.4 178.3,155.5 178.2,155.6 178.1,155.8 178.1,155.9 178,156 177.9,156.2 177.8,156.3 177.7,156.4 177.7,156.6 177.6,156.7 177.5,156.8 177.4,157 177.3,157.1 177.3,157.3 177.2,157.4 177.1,157.5 177,157.7 176.9,157.8 176.8,157.9 176.8,158.1 176.7,158.2 176.6,158.3 176.5,158.4 176.4,158.6 176.3,158.7 176.3,158.8 176.2,159 176.1,159.1 176,159.2 175.9,159.4 175.8,159.5 175.7,159.6 175.6,159.8 175.6,159.9 175.5,160 175.4,160.1 175.3,160.3 175.2,160.4 175.1,160.5 175,160.7 174.9,160.8 174.8,160.9 174.7,161 174.7,161.2 174.6,161.3 174.5,161.4 174.4,161.6 174.3,161.7 174.2,161.8 174.1,161.9 174,162.1 173.9,162.2 173.8,162.3 173.7,162.4 173.6,162.6 173.5,162.7 173.4,162.8 173.3,162.9 173.2,163.1 173.1,163.2 173,163.3 173,163.4 172.9,163.6 172.8,163.7 172.7,163.8 172.6,163.9 172.5,164 172.4,164.2 172.3,164.3 172.2,164.4 172.1,164.5 172,164.7 171.9,164.8 171.8,164.9 171.7,165 171.6,165.1 171.5,165.3 171.4,165.4 171.3,165.5 171.1,165.6 171,165.7 170.9,165.9 170.8,166 170.7,166.1 170.6,166.2 170.5,166.3 170.4,166.4 170.3,166.6 170.2,166.7 170.1,166.8 170,166.9 169.9,167 169.8,167.1 169.7,167.3 169.6,167.4 169.5,167.5 169.4,167.6 169.3,167.7 169.1,167.8 169,167.9 168.9,168.1 168.8,168.2 168.7,168.3 168.6,168.4 168.5,168.5 168.4,168.6 168.3,168.7 168.2,168.8 168,168.9 167.9,169.1 167.8,169.2 167.7,169.3 167.6,169.4 167.5,169.5 167.4,169.6 167.3,169.7 167.2,169.8 167,169.9 166.9,170 166.8,170.2 166.7,170.3 166.6,170.4 166.5,170.5 166.4,170.6 166.2,170.7 166.1,170.8 166,170.9 165.9,171 165.8,171.1 165.7,171.2 165.5,171.3 165.4,171.4 165.3,171.5 165.2,171.6 165.1,171.7 165,171.8 164.8,171.9 164.7,172 164.6,172.2 164.5,172.3 164.4,172.4 164.2,172.5 164.1,172.6 164,172.7 163.9,172.8 163.8,172.9 163.6,173 163.5,173.1 163.4,173.2 163.3,173.3 163.1,173.4 163,173.5 162.9,173.6 162.8,173.7 162.7,173.8 162.5,173.9 162.4,173.9 162.3,174 161.5,173.3 160.6,172.3 161.6,173.9 161.8,174.4 161.7,174.5 161.5,174.6 161.4,174.7 161.3,174.8 161.2,174.9 161,175 160.9,175.1 160.8,175.2 160.7,175.3 160.5,175.4 160.4,175.5 160.3,175.6 160.1,175.6 160,175.7 159.9,175.8 159.8,175.9 159.6,176 159.5,176.1 159.4,176.2 159.2,176.3 159.1,176.4 159,176.5 158.9,176.5 158.7,176.6 158.6,176.7 158.5,176.8 158.3,176.9 158.2,177 158.1,177.1 157.9,177.2 157.8,177.2 157.7,177.3 157.5,177.4 157.4,177.5 157.3,177.6 157.2,177.7 157,177.7 156.9,177.8 156.8,177.9 156.6,178 156.5,178.1 156.4,178.2 156.2,178.2 156.1,178.3 155.9,178.4 155.8,178.5 155.7,178.6 155.5,178.6 155.4,178.7 155.3,178.8 155.1,178.9 155,179 154.9,179 154.7,179.1 154.6,179.2 154.5,179.3 154.3,179.3 154.2,179.4 154,179.5 153.9,179.6 153.8,179.7 153.6,179.7 153.5,179.8 153.4,179.9 153.2,180 153.1,180 152.9,180.1 152.8,180.2 152.7,180.2 152.5,180.3 152.4,180.4 152.2,180.5 152.1,180.5 152,180.6 151.8,180.7 151.7,180.7 151.5,180.8 151.4,180.9 151.3,181 151.1,181 151,181.1 150.8,181.2 150.7,181.2 150.6,181.3 150.4,181.4 150.3,181.4 150.1,181.5 150,181.6 149.8,181.6 149.7,181.7 149.6,181.8 149.4,181.8 149.3,181.9 149.1,182 149,182 148.8,182.1 148.7,182.1 148.5,182.2 148.4,182.3 148.3,182.3 148.1,182.4 148,182.5 147.8,182.5 147.7,182.6 147.5,182.6 147.4,182.7 147.2,182.8 147.1,182.8 147,182.9 146.8,182.9 146.7,183 146.5,183 146.4,183.1 146.2,183.2 146.1,183.2 145.9,183.3 145.8,183.3 145.6,183.4 145.5,183.4 145.3,183.5 145.2,183.5 145,183.6 144.9,183.7 144.8,183.7 144.6,183.8 144.5,183.8 144.3,183.9 144.2,183.9 144,184 143.9,184 143.7,184.1 143.6,184.1 143.4,184.2 143.3,184.2 143.1,184.3 143,184.3 142.8,184.4 142.7,184.4 142.5,184.5 142.4,184.5 142.2,184.6 142.1,184.6 141.9,184.6 141.8,184.7 141.6,184.7 141.5,184.8 141.3,184.8 141.2,184.9 141,184.9 140.9,185 140.7,185 140.6,185 140.4,185.1 140.3,185.1 140.1,185.2 140,185.2 139.8,185.3 139.7,185.3 139.5,185.3 139.3,185.4 139.2,185.4 139,185.5 138.9,185.5 138.7,185.5 138.6,185.6 138.4,185.6 138.3,185.6 138.1,185.7 138,185.7 137.8,185.7 137.7,185.8 137.5,185.8 137.4,185.9 137.2,185.9 137.1,185.9 136.9,186 136.8,186 136.6,186 136.4,186.1 136.3,186.1 136.1,186.1 136,186.2 135.8,186.2 135.7,186.2 135.5,186.2 135.4,186.3 135.2,186.3 135.1,186.3 134.9,186.4 134.7,186.4 134.6,186.4 134.4,186.4 134.3,186.5 134.1,186.5 134,186.5 133.8,186.5 133.7,186.6 133.5,186.6 133.4,186.6 133.2,186.6 133,186.7 132.9,186.7 132.7,186.7 132.6,186.7 132.4,186.8 132.3,186.8 132.1,186.8 132,186.8 131.3,183.1 131.1,182.6 130.9,182.1 130.7,181.5 130.4,181 130.2,180.4 130.1,180.2 129.9,180 129.7,179.8 129.6,179.6 129.4,179.3 129.3,179.1 129.1,179.4 129,179.8 128.9,180.1 128.8,180.4 128.7,180.7 128.6,181.1 128.4,180.9 128.3,180.8 128.1,180.6 128,180.5 127.8,180.3 127.7,180.2 127.6,180.9 127.5,181.5 127.4,182.2 127.3,182.8 127.2,183.5 127.1,184.2 126.9,184.2 126.8,184.3 126.6,184.4 126.5,184.5 126.4,184.5 126.2,184.6 126.1,184.6 125.9,184.5 125.7,184.5 125.6,184.4 125.4,184.3 125.3,184.3 125.1,183.8 125,183.2 124.8,182.7 124.7,182.2 124.5,181.7 124.3,181.2 124.2,181.1 124.1,181 123.9,180.9 123.8,180.8 123.6,180.7 123.5,180.6 123.4,180.4 123.2,180.3 123.1,180.1 122.9,179.9 122.8,179.8 122.7,179.6 122.5,180.4 122.4,181.2 122.2,182 122,182.8 121.9,183.6 121.7,184.4 121.6,183.9 121.4,183.3 121.3,182.8 121.2,182.2 121.1,181.7 121,181.1 120.8,181.1 120.7,181.1 120.5,181 120.4,181 120.3,181 120.1,180.9 120,180.9 119.8,180.8 119.7,180.8 119.6,180.8 119.4,180.7 119.3,180.7 119.1,181.2 118.9,181.7 118.7,182.1 118.6,182.6 118.4,183.1 118.2,183.5 118.1,182.8 118,182.1 117.9,181.4 117.9,180.7 117.8,180 117.7,179.3 117.5,180 117.3,180.6 117.1,181.3 116.9,182 116.6,182.7 116.4,183.3 116.3,182.8 116.3,182.2 116.2,181.7 116.1,181.1 116,180.6 116,180 115.7,180.7 115.5,181.3 115.3,182 115,182.7 114.8,183.3 114.5,184 114.5,183.3 114.4,182.6 114.4,181.9 114.4,181.2 114.3,180.5 114.3,179.9 114.2,179.4 114.2,178.9 114.1,178.4 114.1,177.9 114,177.4 114,176.9 113.9,176.8 113.7,176.7 113.6,176.6 113.5,176.5 113.4,176.5 113.3,176.4 113,177.2 112.7,178 112.4,178.8 112.1,179.5 111.8,180.3 111.4,181.1 111.3,181.2 111.1,181.2 111,181.3 110.8,181.3 110.7,181.3 110.5,181.4 110.5,180.8 110.5,180.1 110.5,179.5 110.5,178.8 110.5,178.2 110.5,177.6 110.4,177.5 110.3,177.5 110.1,177.5 110,177.5 109.9,177.4 109.7,177.4 109.6,177.2 109.6,177 109.5,176.8 109.4,176.6 109.3,176.4 109.2,176.1 108.9,176.9 108.5,177.7 108.1,178.5 107.7,179.3 107.4,180.1 107,180.9 107.1,179.9 107.3,178.9 107.4,178 107.6,177 107.7,176 107.9,175 107.7,175.1 107.6,175.2 107.4,175.3 107.2,175.4 107.1,175.5 106.9,175.6 106.8,175.3 106.7,175.1 106.7,174.9 106.6,174.7 106.5,174.5 106.5,174.3 106.2,174.5 106,174.7 105.8,174.9 105.6,175.1 105.4,175.3 105.2,175.5 104.8,176.1 104.4,176.8 104.1,177.4 103.7,178 103.3,178.7 102.9,179.3 103,178.5 103.2,177.7 103.3,177 103.5,176.2 103.6,175.4 103.8,174.6 103.6,174.6 103.5,174.6 103.4,174.6 103.2,174.6 103.1,174.5 103,174.5 102.8,174.5 102.6,174.6 102.5,174.6 102.3,174.6 102.2,174.7 102,174.7 101.7,175.1 101.4,175.4 101.1,175.8 100.8,176.2 100.4,176.6 100.1,176.9 100,176.8 99.9,176.7 99.8,176.6 99.7,176.5 99.6,176.4 99.5,176.3 99.6,175.7 99.7,175 99.9,174.4 100,173.8 100.2,173.2 100.3,172.6 99.8,173.2 99.4,173.9 98.9,174.6 98.4,175.2 97.9,175.9 97.4,176.6 97.6,175.9 97.7,175.3 97.9,174.6 98.1,174 98.2,173.4 98.4,172.7 98,173.2 97.6,173.6 97.2,174.1 96.8,174.5 96.4,175 96,175.4 95.9,175.4 95.8,175.4 95.6,175.3 95.5,175.3 95.3,175.2 95.2,175.2 95.5,174.3 95.9,173.4 96.2,172.5 96.5,171.6 96.9,170.8 97.2,169.9 97,170.1 96.7,170.3 96.5,170.4 96.2,170.6 95.9,170.8 95.6,171 95.6,170.9 95.5,170.7 95.4,170.6 95.4,170.5 95.3,170.3 95.2,170.2 95.1,170 95.1,169.9 95,169.8 94.9,169.6 94.8,169.5 94.8,169.4 94.7,169.2 94.6,169.1 94.6,169 94.5,168.8 94.4,168.7 94.4,168.6 94.2,168.5 94.1,168.4 94,168.3 93.9,168.2 93.8,168.2 93.7,168.1 93.5,168.2 93.3,168.2 93.1,168.3 92.9,168.3 92.7,168.4 92.5,168.4 91.9,169 91.4,169.6 90.8,170.1 90.2,170.7 89.7,171.2 89.1,171.8 89,171.6 88.9,171.5 88.9,171.3 88.8,171.1 88.8,171 88.7,170.8 88.9,170.3 89.2,169.7 89.4,169.2 89.6,168.7 89.9,168.1 90.1,167.6 90.1,167.3 90.2,167 90.2,166.8 90.3,166.5 90.3,166.2 90.4,165.9 90.3,165.8 90.3,165.6 90.2,165.5 90.2,165.4 90.1,165.2 90.1,165.1 89.8,165.1 89.6,165.2 89.3,165.3 89.1,165.4 88.9,165.5 88.6,165.6 88.1,165.9 87.6,166.3 87.1,166.7 86.6,167 86.1,167.4 85.6,167.7 85.5,167.7 85.3,167.7 85.1,167.7 84.9,167.7 84.8,167.6 84.6,167.6 84.9,167 85.3,166.4 85.6,165.8 86,165.3 86.3,164.7 86.7,164.1 86.7,163.8 86.8,163.6 86.9,163.3 86.9,163 87,162.8 87.1,162.5 86.8,162.6 86.5,162.8 86.2,162.9 85.8,163 85.5,163.1 85.2,163.3 85.2,163.1 85.2,162.9 85.2,162.7 85.2,162.5 85.2,162.3 85.2,162.2 85,162.1 84.9,162 84.8,161.9 84.7,161.9 84.6,161.8 84.5,161.7 84.3,161.7 84.2,161.6 84,161.6 83.9,161.5 83.8,161.5 83.6,161.4 83.1,161.7 82.5,162.1 82,162.4 81.4,162.7 80.8,163 80.3,163.3 80.8,162.6 81.3,162 81.9,161.3 82.4,160.7 83,160 83.5,159.3 82.9,159.7 82.2,160.1 81.5,160.5 80.9,160.9 80.2,161.3 79.6,161.6 79.3,161.7 79,161.7 78.8,161.8 78.5,161.8 78.2,161.8 78,161.9 78.5,161.2 79.1,160.6 79.6,159.9 80.2,159.3 80.8,158.6 81.4,158 81.3,157.8 81.3,157.7 81.3,157.5 81.3,157.4 81.3,157.2 81.3,157 81.2,156.9 81.2,156.8 81.1,156.7 81,156.6 81,156.4 80.9,156.3 80.2,156.7 79.4,157.1 78.6,157.5 77.9,157.9 77.1,158.3 76.3,158.7 76.4,158.4 76.4,158.2 76.5,158 76.5,157.8 76.6,157.6 76.6,157.4 77,157 77.3,156.6 77.7,156.1 78,155.7 78.4,155.3 78.8,154.9 78.8,154.7 78.7,154.6 78.7,154.4 78.7,154.3 78.7,154.1 78.7,154 78.6,153.9 78.5,153.8 78.5,153.6 78.4,153.5 78.4,153.4 78.3,153.3 78.3,153.1 78.2,153 78.1,152.9 78.1,152.8 78,152.7 78,152.5 78,152.4 78,152.2 78,152.1 77.9,151.9 77.9,151.8 77.9,151.6 77.7,151.6 77.5,151.6 77.2,151.6 77,151.6 76.7,151.6 76.5,151.6 75.9,151.7 75.3,151.9 74.7,152.1 74.1,152.3 73.5,152.4 73,152.6 72.9,152.5 72.8,152.3 72.7,152.2 72.7,152.1 72.6,152 72.5,151.8 72.6,151.6 72.6,151.5 72.6,151.3 72.7,151.1 72.7,150.9 72.7,150.8 73.1,150.4 73.4,150.1 73.7,149.8 74.1,149.4 74.4,149.1 74.8,148.8 74.3,148.8 73.9,148.9 73.4,149 72.9,149.1 72.5,149.1 72,149.2 71.9,149.1 71.7,149 71.6,148.9 71.4,148.8 71.3,148.7 71.1,148.7 71.9,148.2 72.6,147.7 73.3,147.2 74,146.7 74.7,146.3 75.4,145.8 75.1,145.8 74.7,145.8 74.3,145.8 74,145.9 73.6,145.9 73.2,145.9 72.8,145.9 72.3,146 71.8,146 71.4,146.1 70.9,146.1 70.4,146.1 70.9,145.8 71.4,145.5 71.9,145.1 72.3,144.8 72.8,144.4 73.3,144.1 72.4,144.3 71.6,144.5 70.8,144.6 69.9,144.8 69.1,145 68.3,145.1 67.3,145.3 66.4,145.5 65.5,145.7 64.6,145.8 64.2,145.8 64.2,145.7 64.3,145.5 65.8,144.8 67.4,144 68.9,143.3 70.5,142.7 72,142 71.9,141.9 71.8,141.8 71.7,141.6 71.7,141.5 71.6,141.4 71.5,141.3 71.7,141.1 71.8,140.9 72,140.7 72.2,140.5 72.4,140.3 72.6,140.1 71.7,140.2 70.7,140.4 69.8,140.5 68.9,140.6 68,140.8 67.1,140.9 67.9,140.5 68.6,140.1 69.4,139.8 70.2,139.4 71,139 71.8,138.7 71.1,138.7 70.4,138.8 69.6,138.8 68.9,138.9 68.2,138.9 67.4,139 68.1,138.7 68.8,138.3 69.4,138 70.1,137.7 70.8,137.4 71.5,137.1 70.6,137.2 69.7,137.2 68.8,137.3 67.9,137.4 67.1,137.4 66.2,137.5 66.8,137.2 67.5,136.9 68.1,136.6 68.7,136.3 69.4,136 70,135.8 69.3,135.8 68.7,135.8 68,135.8 67.3,135.8 66.6,135.8 65.9,135.7 66.8,135.4 67.6,135.1 68.4,134.8 69.3,134.5 70.1,134.2 71,133.9 71,133.8 71,133.7 71,133.5 71.1,133.4 71.1,133.2 71.1,133.1 69,133.3 66.8,133.5 64.7,133.7 62.6,133.9 61.2,133.9 61.2,133.8 61.2,133.6 62.1,133.3 64,132.9 65.9,132.5 67.8,132.1 69.8,131.7 69,131.6 68.2,131.6 67.4,131.6 66.6,131.5 65.8,131.5 65,131.4 65.8,131.2 66.6,131 67.4,130.7 68.2,130.5 69,130.3 69.8,130 69.6,129.9 69.5,129.8 69.4,129.7 69.3,129.6 69.1,129.4 69,129.3 68.4,129.2 67.8,129.1 67.1,129 66.5,129 65.9,128.9 65.3,128.8 66.1,128.6 67,128.3 67.9,128.1 68.8,128 69.6,127.8 70.5,127.6 70.4,127.4 70.4,127.3 70.3,127.2 70.3,127.1 70.2,126.9 70.1,126.8 69.3,126.7 68.4,126.6 67.5,126.5 66.6,126.4 65.7,126.3 64.8,126.2 64.8,126 64.8,125.9 64.8,125.7 64.8,125.6 64.8,125.4 64.8,125.3 64.8,125.1 64.8,125 64.9,124.8 64.9,124.7 64.9,124.5 64.9,124.4 64.8,124.3 64.8,124.1 64.8,124 64.7,123.8 64.7,123.7 64.7,123.5 65.3,123.4 66,123.3 66.7,123.1 67.4,123 68.1,122.9 68.8,122.8 68.2,122.6 67.6,122.4 67,122.3 66.4,122.1 65.8,122 65.2,121.8 65.4,121.6 65.6,121.5 65.8,121.4 65.9,121.2 66.1,121.1 66.3,121 67.1,120.9 67.9,120.8 68.7,120.7 69.5,120.6 70.3,120.5 71.1,120.5 70.8,120.3 70.6,120.2 70.3,120 70,119.9 69.7,119.7 69.4,119.5 69.5,119.4 69.6,119.3 69.7,119.2 69.8,119 69.9,118.9 70.1,118.8 70.1,118.7 70.2,118.5 70.2,118.4 70.3,118.3 70.4,118.1 70.4,118 69.6,117.8 68.8,117.5 68,117.3 67.2,117.1 66.4,116.8 65.5,116.5 65.5,116.4 65.5,116.2 65.4,116.1 65.4,115.9 65.4,115.8 65.3,115.6 65.5,115.5 65.6,115.4 65.7,115.3 65.9,115.1 66,115 66.1,114.9 66.8,114.8 67.4,114.8 68.1,114.8 68.8,114.7 69.4,114.7 70.1,114.7 69.6,114.5 69.1,114.2 68.6,114 68.1,113.8 67.6,113.5 67.1,113.3 67.8,113.3 68.6,113.3 69.4,113.3 70.1,113.3 70.9,113.4 71.6,113.4 71.6,113.2 71.6,113.1 71.6,113 71.5,112.8 71.5,112.7 71.5,112.5 70.8,112.2 70.2,111.9 69.5,111.6 68.8,111.3 68.2,111 67.5,110.7 67.6,110.6 67.6,110.5 67.6,110.3 67.6,110.2 67.6,110 67.7,109.9 68.5,110 69.4,110 70.2,110.1 71.1,110.2 71.9,110.3 72.7,110.4 72.8,110.3 72.8,110.1 72.9,110 72.9,109.9 73,109.8 73,109.7 72.2,109.3 71.4,108.9 70.6,108.5 69.8,108.1 69,107.7 68.2,107.3 68.2,107.2 68.2,107 68.2,106.9 68.3,106.8 68.3,106.6 68.3,106.5 69.1,106.6 69.9,106.7 70.7,106.8 71.5,106.9 72.3,107 73.1,107.2 72.9,107 72.7,106.8 72.6,106.6 72.4,106.4 72.2,106.2 72.1,106 71.6,105.7 71.2,105.4 70.8,105.1 70.3,104.7 69.9,104.4 69.4,104.1 69.5,104 69.6,103.9 69.7,103.7 69.7,103.6 69.8,103.5 69.9,103.4 70.5,103.4 71.1,103.5 71.6,103.6 72.2,103.7 72.8,103.8 73.4,103.9 73.7,103.8 74,103.8 74.3,103.8 74.6,103.8 74.9,103.8 75.2,103.7 75.2,103.6 75.1,103.4 75.1,103.3 75.1,103.2 75.1,103 75.1,102.9 75.1,102.7 75.1,102.6 75.1,102.4 75.1,102.3 75.1,102.1 75.1,102 75.2,101.9 75.3,101.8 75.4,101.7 75.4,101.6 75.5,101.4 75.6,101.3 74.8,100.8 74,100.3 73.2,99.7 72.5,99.2 71.7,98.6 70.9,98.1 71.6,98.3 72.3,98.5 72.9,98.6 73.6,98.8 74.3,99 74.9,99.2 74.7,98.9 74.4,98.6 74.1,98.3 73.8,98 73.5,97.7 73.2,97.3 73.1,97.1 73,96.9 72.8,96.6 72.7,96.4 72.6,96.2 72.5,96 72.2,95.6 71.9,95.3 71.6,94.9 71.3,94.6 71,94.3 70.7,93.9 70.8,93.8 70.9,93.7 71,93.6 71.1,93.4 71.2,93.3 71.3,93.2 72.1,93.5 72.9,93.8 73.7,94.1 74.4,94.4 75.2,94.7 76,95 75.5,94.6 75.1,94.1 74.6,93.7 74.1,93.2 73.7,92.8 73.2,92.3 73.2,92.1 73.2,91.9 73.2,91.7 73.2,91.6 73.2,91.4 73.2,91.2 73.4,91.2 73.7,91.1 73.9,91.1 74.1,91.1 74.4,91.1 74.6,91.1 75.4,91.4 76.2,91.8 77,92.2 77.8,92.5 78.5,92.9 79.3,93.3 78.6,92.6 77.9,91.9 77.2,91.3 76.5,90.6 75.7,89.9 75,89.2 75.1,89 75.1,88.8 75.1,88.7 75.1,88.5 75.1,88.3 75.1,88.2 76.1,88.7 77,89.2 78,89.7 78.9,90.3 79.8,90.8 80.8,91.4 80.2,90.7 79.6,90.1 79,89.5 78.5,88.8 77.9,88.2 77.3,87.6 77.9,87.9 78.6,88.2 79.2,88.5 79.8,88.8 80.4,89.1 81,89.5 81,89.3 81,89.1 81,89 81.1,88.8 81.1,88.6 81.1,88.5 81.2,88.4 81.3,88.3 81.5,88.2 81.6,88.2 81.7,88.1 81.8,88 82,88 82.3,88 82.5,88 82.7,88 82.9,88 83.1,88 82.6,87.3 82,86.7 81.5,86 81,85.3 80.5,84.7 79.9,84 80.5,84.3 81,84.6 81.5,84.9 82.1,85.2 82.6,85.5 83.1,85.8 82.8,85.3 82.6,84.9 82.3,84.4 82,83.9 81.8,83.5 81.5,83 81.5,82.8 81.5,82.6 81.5,82.4 81.5,82.2 81.5,82 81.6,81.8 81.7,81.7 81.8,81.7 81.9,81.6 82.1,81.5 82.2,81.4 82.3,81.3 82.4,81.2 82.5,81.1 82.6,81 82.7,80.8 82.8,80.7 82.9,80.6 83.5,81.1 84.2,81.6 84.8,82.1 85.5,82.6 86.1,83.1 86.8,83.6 86.4,83 86,82.4 85.7,81.7 85.3,81.1 84.9,80.5 84.6,79.9 84.7,79.8 84.8,79.7 85,79.6 85.1,79.5 85.2,79.5 85.3,79.4 85.4,79.2 85.4,79 85.5,78.9 85.6,78.7 85.6,78.6 85.7,78.4 86.2,78.9 86.8,79.3 87.4,79.8 87.9,80.3 88.5,80.7 89.1,81.2 89.2,81.1 89.3,81 89.4,81 89.5,80.9 89.6,80.8 89.7,80.7 89.4,80 89,79.4 88.7,78.7 88.4,78 88,77.3 87.7,76.7 87.7,76.4 87.7,76.1 87.7,75.9 87.7,75.6 87.7,75.4 87.7,75.1 88.4,75.8 89.1,76.5 89.8,77.3 90.5,78 91.2,78.7 91.9,79.5 91.5,78.6 91.1,77.8 90.7,77 90.3,76.2 89.9,75.4 89.5,74.6 90.2,75.3 90.9,76.1 91.6,76.9 92.3,77.6 93,78.4 93.7,79.2 93.3,78.3 92.8,77.5 92.4,76.6 92.1,75.7 91.7,74.8 91.3,73.9 91.5,74 91.7,74 91.9,74 92,74.1 92.2,74.1 92.4,74.1 92.5,73.9 92.5,73.6 92.5,73.4 92.5,73.2 92.6,72.9 92.6,72.7 93.2,73.3 93.7,74 94.3,74.6 94.8,75.3 95.4,76 95.9,76.6 96,76.6 96.1,76.5 96.2,76.4 96.3,76.3 96.5,76.2 96.6,76.1 96.7,76 96.8,75.9 96.9,75.8 97,75.8 97.1,75.7 97.2,75.6 97,74.9 96.8,74.2 96.6,73.6 96.4,72.9 96.2,72.2 96,71.5 96.2,71.5 96.4,71.5 96.6,71.6 96.8,71.6 96.9,71.6 97.1,71.6 97.2,71.5 97.3,71.3 97.3,71.1 97.4,70.9 97.5,70.8 97.6,70.6 97.7,70.4 97.8,70.3 97.9,70.1 98,70 98.1,69.8 98.2,69.7 98.6,70.4 99.1,71 99.6,71.7 100,72.4 100.5,73.1 101,73.8 101.1,73.7 101.2,73.7 101.3,73.6 101.5,73.5 101.6,73.5 101.7,73.4 101.6,72.8 101.5,72.2 101.4,71.5 101.3,70.9 101.1,70.3 101,69.6 101.1,69.3 101.1,69 101.1,68.6 101.2,68.3 101.2,68 101.2,67.7 101.7,68.6 102.2,69.4 102.7,70.3 103.2,71.2 103.7,72.1 104.2,73 104.1,72.2 103.9,71.3 103.7,70.5 103.6,69.7 103.4,68.8 103.3,68 103.5,68 103.6,68.1 103.8,68.2 104,68.2 104.2,68.3 104.4,68.4 104.5,68.2 104.6,68.1 104.7,68 104.8,67.9 104.9,67.8 105.1,67.6 105.2,67.5 105.3,67.4 105.4,67.2 105.5,67.1 105.6,67 105.7,66.8 105.9,66.8 106,66.7 106.2,66.7 106.3,66.6 106.4,66.5 106.6,66.5 106.9,67.1 107.2,67.7 107.6,68.3 107.9,68.9 108.2,69.6 108.5,70.2 108.7,70.3 108.9,70.4 109.1,70.5 109.2,70.6 109.4,70.7 109.6,70.8 109.5,69.9 109.4,68.9 109.3,68 109.2,67.1 109.1,66.2 109.1,65.2 109.4,66.1 109.8,66.9 110.1,67.7 110.4,68.5 110.8,69.3 111.1,70.1 111.3,70.2 111.4,70.2 111.6,70.3 111.7,70.4 111.9,70.5 112.1,70.6 112,69.6 111.9,68.6 111.9,67.6 111.8,66.6 111.8,65.6 111.7,64.6 112.1,65.5 112.4,66.5 112.7,67.4 113,68.3 113.3,69.2 113.6,70.1 113.7,69.9 113.8,69.7 113.9,69.4 114.1,69.2 114.2,69 114.3,68.8 114.4,69 114.6,69.3 114.8,69.5 115,69.8 115.2,70.1 115.3,70.3 115.4,69.6 115.4,68.9 115.5,68.2 115.5,67.4 115.5,66.7 115.6,66 115.8,66.6 116,67.2 116.3,67.9 116.5,68.5 116.7,69.1 116.9,69.7 117,69 117,68.2 117.1,67.5 117.1,66.7 117.2,66 117.3,65.2 117.4,65.1 117.6,64.9 117.7,64.8 117.8,64.7 118,64.6 118.1,64.4 118.3,64.6 118.4,64.7 118.6,64.8 118.7,65 118.9,65.1 119.1,65.2 119.3,66 119.5,66.8 119.7,67.6 119.9,68.4 120.1,69.2 120.2,69.9 120.3,69.2 120.4,68.4 120.5,67.6 120.6,66.9 120.7,66.1 120.8,65.3 121,66 121.2,66.7 121.4,67.3 121.5,68 121.7,68.7 121.9,69.3 122,68.4 122.1,67.5 122.2,66.6 122.3,65.7 122.5,64.8 122.6,63.9 122.7,61.7 122.9,61.4 123,61.4 123.2,61.4 123.3,61.4 123.5,61.4 L123.5,61.4 123.3,61.4 123.2,61.4 123,61.4 122.9,61.4 122.7,61.4 122.6,61.4 122.4,61.4 122.2,61.4 122.1,61.4 121.9,61.4 121.8,61.4 121.6,61.4 121.5,61.4 121.3,61.4 121.1,61.4 121,61.5 120.8,61.5 120.7,61.5 120.5,61.5 120.4,61.5 120.2,61.5 120,61.5 119.9,61.5 119.7,61.5 119.6,61.5 119.4,61.5 119.3,61.5 119.1,61.6 118.9,61.6 118.8,61.6 118.6,61.6 118.5,61.6 118.3,61.6 118.2,61.6 118,61.6 117.9,61.7 117.7,61.7 117.5,61.7 117.4,61.7 117.2,61.7 117.1,61.7 116.9,61.7 116.8,61.8 116.6,61.8 116.4,61.8 116.3,61.8 116.1,61.8 116,61.9 115.8,61.9 115.7,61.9 115.5,61.9 115.4,61.9 115.2,61.9 115,62 114.9,62 114.7,62 114.6,62 114.4,62.1 114.3,62.1 114.1,62.1 114,62.1 113.8,62.2 113.6,62.2 113.5,62.2 113.3,62.2 113.2,62.3 113,62.3 112.9,62.3 112.7,62.3 112.6,62.4 112.4,62.4 112.3,62.4 112.1,62.4 111.9,62.5 111.8,62.5 111.6,62.5 111.5,62.6 111.3,62.6 111.2,62.6 111,62.6 110.9,62.7 110.7,62.7 110.6,62.7 110.4,62.8 110.2,62.8 110.1,62.8 109.9,62.9 109.8,62.9 109.6,62.9 109.5,63 109.3,63 109.2,63.1 109,63.1 108.9,63.1 108.7,63.2 108.6,63.2 108.4,63.2 108.3,63.3 108.1,63.3 108,63.3 107.8,63.4 107.7,63.4 107.5,63.5 107.3,63.5 107.2,63.5 107,63.6 106.9,63.6 106.7,63.7 106.6,63.7 106.4,63.8 106.3,63.8 106.1,63.8 106,63.9 105.8,63.9 105.7,64 105.5,64 105.4,64.1 105.2,64.1 105.1,64.2 104.9,64.2 104.8,64.2 104.6,64.3 104.5,64.3 104.3,64.4 104.2,64.4 104,64.5 103.9,64.5 103.7,64.6 103.6,64.6 103.4,64.7 103.3,64.7 103.1,64.8 103,64.8 102.8,64.9 102.7,64.9 102.5,65 102.4,65 102.2,65.1 102.1,65.1 102,65.2 101.8,65.3 101.7,65.3 101.5,65.4 101.4,65.4 101.2,65.5 101.1,65.5 100.9,65.6 100.8,65.6 100.6,65.7 100.5,65.8 100.3,65.8 100.2,65.9 100,65.9 99.9,66 99.8,66 99.6,66.1 99.5,66.2 99.3,66.2 99.2,66.3 99,66.3 98.9,66.4 98.7,66.5 98.6,66.5 98.5,66.6 98.3,66.7 98.2,66.7 98,66.8 97.9,66.8 97.7,66.9 97.6,67 97.4,67 97.3,67.1 97.2,67.2 97,67.2 96.9,67.3 96.7,67.4 96.6,67.4 96.4,67.5 96.3,67.6 96.2,67.6 96,67.7 95.9,67.8 95.7,67.8 95.6,67.9 95.5,68 95.3,68.1 95.2,68.1 95,68.2 94.9,68.3 94.8,68.3 94.6,68.4 94.5,68.5 94.3,68.6 94.2,68.6 94.1,68.7 93.9,68.8 93.8,68.8 93.6,68.9 93.5,69 93.4,69.1 93.2,69.1 93.1,69.2 93,69.3 92.8,69.4 92.7,69.5 92.5,69.5 92.4,69.6 92.3,69.7 92.1,69.8 92,69.8 91.9,69.9 91.7,70 91.6,70.1 91.5,70.2 91.3,70.2 91.2,70.3 91.1,70.4 90.9,70.5 90.8,70.6 90.6,70.6 90.5,70.7 90.4,70.8 90.2,70.9 90.1,71 90,71.1 89.8,71.1 89.7,71.2 89.6,71.3 89.5,71.4 89.3,71.5 89.2,71.6 89.1,71.6 88.9,71.7 88.8,71.8 88.7,71.9 88.5,72 88.4,72.1 88.3,72.2 88.1,72.3 88,72.3 87.9,72.4 87.8,72.5 87.6,72.6 87.5,72.7 87.4,72.8 87.2,72.9 87.1,73 87,73.1 86.9,73.2 86.7,73.2 86.6,73.3 86.5,73.4 86.3,73.5 86.2,73.6 86.1,73.7 86,73.8 85.8,73.9 85.7,74 85.6,74.1 85.5,74.2 85.3,74.3 85.2,74.4 85.1,74.5 85,74.6 84.8,74.7 84.7,74.8 84.6,74.9 84.5,74.9 84.3,75 84.2,75.1 84.1,75.2 84,75.3 83.9,75.4 83.7,75.5 83.6,75.6 83.5,75.7 83.4,75.8 83.2,75.9 83.1,76 83,76.1 82.9,76.2 82.8,76.3 82.6,76.4 82.5,76.5 82.4,76.6 82.3,76.8 82.2,76.9 82,77 81.9,77.1 81.8,77.2 81.7,77.3 81.6,77.4 81.5,77.5 81.3,77.6 81.2,77.7 81.1,77.8 81,77.9 80.9,78 80.8,78.1 80.6,78.2 80.5,78.3 80.4,78.4 80.3,78.5 80.2,78.6 80.1,78.8 80,78.9 79.8,79 79.7,79.1 79.6,79.2 79.5,79.3 79.4,79.4 79.3,79.5 79.2,79.6 79.1,79.7 79,79.9 78.8,80 78.7,80.1 78.6,80.2 78.5,80.3 78.4,80.4 78.3,80.5 78.2,80.6 78.1,80.7 78,80.9 77.9,81 77.7,81.1 77.6,81.2 77.5,81.3 77.4,81.4 77.3,81.5 77.2,81.7 77.1,81.8 77,81.9 76.9,82 76.8,82.1 76.7,82.2 76.6,82.4 76.5,82.5 76.4,82.6 76.3,82.7 76.2,82.8 76.1,82.9 76,83.1 75.9,83.2 75.7,83.3 75.6,83.4 75.5,83.5 75.4,83.7 75.3,83.8 75.2,83.9 75.1,84 75,84.1 74.9,84.3 74.8,84.4 74.7,84.5 74.6,84.6 74.5,84.8 74.4,84.9 74.3,85 74.2,85.1 74.1,85.2 74,85.4 74,85.5 73.9,85.6 73.8,85.7 73.7,85.9 73.6,86 73.5,86.1 73.4,86.2 73.3,86.4 73.2,86.5 73.1,86.6 73,86.7 72.9,86.9 72.8,87 72.7,87.1 72.6,87.2 72.5,87.4 72.4,87.5 72.3,87.6 72.3,87.8 72.2,87.9 72.1,88 72,88.1 71.9,88.3 71.8,88.4 71.7,88.5 71.6,88.7 71.5,88.8 71.4,88.9 71.4,89 71.3,89.2 71.2,89.3 71.1,89.4 71,89.6 70.9,89.7 70.8,89.8 70.7,90 70.7,90.1 70.6,90.2 70.5,90.4 70.4,90.5 70.3,90.6 70.2,90.7 70.2,90.9 70.1,91 70,91.1 69.9,91.3 69.8,91.4 69.7,91.5 69.7,91.7 69.6,91.8 69.5,92 69.4,92.1 69.3,92.2 69.3,92.4 69.2,92.5 69.1,92.6 69,92.8 68.9,92.9 68.9,93 68.8,93.2 68.7,93.3 68.6,93.4 68.6,93.6 68.5,93.7 68.4,93.9 68.3,94 68.2,94.1 68.2,94.3 68.1,94.4 68,94.5 67.9,94.7 67.9,94.8 67.8,95 67.7,95.1 67.7,95.2 67.6,95.4 67.5,95.5 67.4,95.7 67.4,95.8 67.3,95.9 67.2,96.1 67.2,96.2 67.1,96.4 67,96.5 66.9,96.6 66.9,96.8 66.8,96.9 66.7,97.1 66.7,97.2 66.6,97.3 66.5,97.5 66.5,97.6 66.4,97.8 66.3,97.9 66.3,98.1 66.2,98.2 66.1,98.3 66.1,98.5 66,98.6 65.9,98.8 65.9,98.9 65.8,99.1 65.8,99.2 65.7,99.4 65.6,99.5 65.6,99.6 65.5,99.8 65.4,99.9 65.4,100.1 65.3,100.2 65.3,100.4 65.2,100.5 65.1,100.7 65.1,100.8 65,100.9 65,101.1 64.9,101.2 64.9,101.4 64.8,101.5 64.7,101.7 64.7,101.8 64.6,102 64.6,102.1 64.5,102.3 64.5,102.4 64.4,102.6 64.4,102.7 64.3,102.9 64.2,103 64.2,103.1 64.1,103.3 64.1,103.4 64,103.6 64,103.7 63.9,103.9 63.9,104 63.8,104.2 63.8,104.3 63.7,104.5 63.7,104.6 63.6,104.8 63.6,104.9 63.5,105.1 63.5,105.2 63.4,105.4 63.4,105.5 63.3,105.7 63.3,105.8 63.3,106 63.2,106.1 63.2,106.3 63.1,106.4 63.1,106.6 63,106.7 63,106.9 62.9,107 62.9,107.2 62.9,107.3 62.8,107.5 62.8,107.6 62.7,107.8 62.7,107.9 62.6,108.1 62.6,108.2 62.6,108.4 62.5,108.6 62.5,108.7 62.4,108.9 62.4,109 62.4,109.2 62.3,109.3 62.3,109.5 62.3,109.6 62.2,109.8 62.2,109.9 62.2,110.1 62.1,110.2 62.1,110.4 62,110.5 62,110.7 62,110.8 61.9,111 61.9,111.1 61.9,111.3 61.8,111.5 61.8,111.6 61.8,111.8 61.7,111.9 61.7,112.1 61.7,112.2 61.7,112.4 61.6,112.5 61.6,112.7 61.6,112.8 61.5,113 61.5,113.2 61.5,113.3 61.5,113.5 61.4,113.6 61.4,113.8 61.4,113.9 61.4,114.1 61.3,114.2 61.3,114.4 61.3,114.5 61.3,114.7 61.2,114.9 61.2,115 61.2,115.2 61.2,115.3 61.1,115.5 61.1,115.6 61.1,115.8 61.1,115.9 61,116.1 61,116.3 61,116.4 61,116.6 61,116.7 61,116.9 60.9,117 60.9,117.2 60.9,117.3 60.9,117.5 60.9,117.7 60.8,117.8 60.8,118 60.8,118.1 60.8,118.3 60.8,118.4 60.8,118.6 60.8,118.8 60.7,118.9 60.7,119.1 60.7,119.2 60.7,119.4 60.7,119.5 60.7,119.7 60.7,119.8 60.7,120 60.6,120.2 60.6,120.3 60.6,120.5 60.6,120.6 60.6,120.8 60.6,120.9 60.6,121.1 60.6,121.3 60.6,121.4 60.6,121.6 60.6,121.7 60.6,121.9 60.5,122 60.5,122.2 60.5,122.4 60.5,122.5 60.5,122.7 60.5,122.8 60.5,123 60.5,123.1 60.5,123.3 60.5,123.5 60.5,123.6 60.5,123.8 60.5,123.9 60.5,124.1 60.5,124.2 60.5,124.4 60.5,124.6 60.5,124.7 60.5,124.9 60.5,125 60.5,125.2 60.5,125.3 60.5,125.5 60.5,125.7 60.5,125.8 60.5,126 60.5,126.1 60.5,126.3 60.5,126.4 60.5,126.6 60.5,126.8 60.6,126.9 60.6,127.1 60.6,127.2 60.6,127.4 60.6,127.5 60.6,127.7 60.6,127.9 60.6,128 60.6,128.2 60.6,128.3 60.6,128.5 60.6,128.6 60.7,128.8 60.7,129 60.7,129.1 60.7,129.3 60.7,129.4 60.7,129.6 60.7,129.7 60.7,129.9 60.8,130 60.8,130.2 60.8,130.4 60.8,130.5 60.8,130.7 60.8,130.8 60.8,131 60.9,131.1 60.9,131.3 60.9,131.5 60.9,131.6 60.9,131.8 61,131.9 61,132.1 61,132.2 61,132.4 61,132.5 61,132.7 61.1,132.9 61.1,133 61.1,133.2 61.1,133.3 61.2,133.5 61.2,133.6 61.2,133.8 61.2,133.9 61.3,134.1 61.3,134.3 61.3,134.4 61.3,134.6 61.4,134.7 61.4,134.9 61.4,135 61.4,135.2 61.5,135.3 61.5,135.5 61.5,135.6 61.5,135.8 61.6,136 61.6,136.1 61.6,136.3 61.7,136.4 61.7,136.6 61.7,136.7 61.7,136.9 61.8,137 61.8,137.2 61.8,137.3 61.9,137.5 61.9,137.7 61.9,137.8 62,138 62,138.1 62,138.3 62.1,138.4 62.1,138.6 62.2,138.7 62.2,138.9 62.2,139 62.3,139.2 62.3,139.3 62.3,139.5 62.4,139.6 62.4,139.8 62.4,139.9 62.5,140.1 62.5,140.2 62.6,140.4 62.6,140.6 62.6,140.7 62.7,140.9 62.7,141 62.8,141.2 62.8,141.3 62.9,141.5 62.9,141.6 62.9,141.8 63,141.9 63,142.1 63.1,142.2 63.1,142.4 63.2,142.5 63.2,142.7 63.3,142.8 63.3,143 63.3,143.1 63.4,143.3 63.4,143.4 63.5,143.6 63.5,143.7 63.6,143.9 63.6,144 63.7,144.2 63.7,144.3 63.8,144.5 63.8,144.6 63.9,144.8 63.9,144.9 64,145.1 64,145.2 64.1,145.4 64.1,145.5 64.2,145.7 64.2,145.8 64.3,145.9 64.4,146.1 64.4,146.2 64.5,146.4 64.5,146.5 64.6,146.7 64.6,146.8 64.7,147 64.7,147.1 64.8,147.3 64.9,147.4 64.9,147.6 65,147.7 65,147.9 65.1,148 65.1,148.1 65.2,148.3 65.3,148.4 65.3,148.6 65.4,148.7 65.4,148.9 65.5,149 65.6,149.2 65.6,149.3 65.7,149.4 65.8,149.6 65.8,149.7 65.9,149.9 65.9,150 66,150.2 66.1,150.3 66.1,150.5 66.2,150.6 66.3,150.7 66.3,150.9 66.4,151 66.5,151.2 66.5,151.3 66.6,151.5 66.7,151.6 66.7,151.7 66.8,151.9 66.9,152 66.9,152.2 67,152.3 67.1,152.4 67.2,152.6 67.2,152.7 67.3,152.9 67.4,153 67.4,153.1 67.5,153.3 67.6,153.4 67.7,153.6 67.7,153.7 67.8,153.8 67.9,154 67.9,154.1 68,154.3 68.1,154.4 68.2,154.5 68.2,154.7 68.3,154.8 68.4,154.9 68.5,155.1 68.6,155.2 68.6,155.4 68.7,155.5 68.8,155.6 68.9,155.8 68.9,155.9 69,156 69.1,156.2 69.2,156.3 69.3,156.4 69.3,156.6 69.4,156.7 69.5,156.8 69.6,157 69.7,157.1 69.7,157.3 69.8,157.4 69.9,157.5 70,157.7 70.1,157.8 70.2,157.9 70.2,158.1 70.3,158.2 70.4,158.3 70.5,158.4 70.6,158.6 70.7,158.7 70.7,158.8 70.8,159 70.9,159.1 71,159.2 71.1,159.4 71.2,159.5 71.3,159.6 71.4,159.8 71.4,159.9 71.5,160 71.6,160.1 71.7,160.3 71.8,160.4 71.9,160.5 72,160.7 72.1,160.8 72.2,160.9 72.3,161 72.3,161.2 72.4,161.3 72.5,161.4 72.6,161.6 72.7,161.7 72.8,161.8 72.9,161.9 73,162.1 73.1,162.2 73.2,162.3 73.3,162.4 73.4,162.6 73.5,162.7 73.6,162.8 73.7,162.9 73.8,163.1 73.9,163.2 74,163.3 74,163.4 74.1,163.6 74.2,163.7 74.3,163.8 74.4,163.9 74.5,164 74.6,164.2 74.7,164.3 74.8,164.4 74.9,164.5 75,164.7 75.1,164.8 75.2,164.9 75.3,165 75.4,165.1 75.5,165.3 75.6,165.4 75.7,165.5 75.9,165.6 76,165.7 76.1,165.9 76.2,166 76.3,166.1 76.4,166.2 76.5,166.3 76.6,166.4 76.7,166.6 76.8,166.7 76.9,166.8 77,166.9 77.1,167 77.2,167.1 77.3,167.3 77.4,167.4 77.5,167.5 77.6,167.6 77.7,167.7 77.9,167.8 78,167.9 78.1,168.1 78.2,168.2 78.3,168.3 78.4,168.4 78.5,168.5 78.6,168.6 78.7,168.7 78.8,168.8 79,168.9 79.1,169.1 79.2,169.2 79.3,169.3 79.4,169.4 79.5,169.5 79.6,169.6 79.7,169.7 79.8,169.8 80,169.9 80.1,170 80.2,170.2 80.3,170.3 80.4,170.4 80.5,170.5 80.6,170.6 80.8,170.7 80.9,170.8 81,170.9 81.1,171 81.2,171.1 81.3,171.2 81.5,171.3 81.6,171.4 81.7,171.5 81.8,171.6 81.9,171.7 82,171.8 82.2,171.9 82.3,172 82.4,172.2 82.5,172.3 82.6,172.4 82.8,172.5 82.9,172.6 83,172.7 83.1,172.8 83.2,172.9 83.4,173 83.5,173.1 83.6,173.2 83.7,173.3 83.9,173.4 84,173.5 84.1,173.6 84.2,173.7 84.3,173.8 84.5,173.9 84.6,173.9 84.7,174 84.8,174.1 85,174.2 85.1,174.3 85.2,174.4 85.3,174.5 85.5,174.6 85.6,174.7 85.7,174.8 85.8,174.9 86,175 86.1,175.1 86.2,175.2 86.3,175.3 86.5,175.4 86.6,175.5 86.7,175.6 86.9,175.6 87,175.7 87.1,175.8 87.2,175.9 87.4,176 87.5,176.1 87.6,176.2 87.8,176.3 87.9,176.4 88,176.5 88.1,176.5 88.3,176.6 88.4,176.7 88.5,176.8 88.7,176.9 88.8,177 88.9,177.1 89.1,177.2 89.2,177.2 89.3,177.3 89.5,177.4 89.6,177.5 89.7,177.6 89.8,177.7 90,177.7 90.1,177.8 90.2,177.9 90.4,178 90.5,178.1 90.6,178.2 90.8,178.2 90.9,178.3 91.1,178.4 91.2,178.5 91.3,178.6 91.5,178.6 91.6,178.7 91.7,178.8 91.9,178.9 92,179 92.1,179 92.3,179.1 92.4,179.2 92.5,179.3 92.7,179.3 92.8,179.4 93,179.5 93.1,179.6 93.2,179.7 93.4,179.7 93.5,179.8 93.6,179.9 93.8,180 93.9,180 94.1,180.1 94.2,180.2 94.3,180.2 94.5,180.3 94.6,180.4 94.8,180.5 94.9,180.5 95,180.6 95.2,180.7 95.3,180.7 95.5,180.8 95.6,180.9 95.7,181 95.9,181 96,181.1 96.2,181.2 96.3,181.2 96.4,181.3 96.6,181.4 96.7,181.4 96.9,181.5 97,181.6 97.2,181.6 97.3,181.7 97.4,181.8 97.6,181.8 97.7,181.9 97.9,182 98,182 98.2,182.1 98.3,182.1 98.5,182.2 98.6,182.3 98.7,182.3 98.9,182.4 99,182.5 99.2,182.5 99.3,182.6 99.5,182.6 99.6,182.7 99.8,182.8 99.9,182.8 100,182.9 100.2,182.9 100.3,183 100.5,183 100.6,183.1 100.8,183.2 100.9,183.2 101.1,183.3 101.2,183.3 101.4,183.4 101.5,183.4 101.7,183.5 101.8,183.5 102,183.6 102.1,183.7 102.2,183.7 102.4,183.8 102.5,183.8 102.7,183.9 102.8,183.9 103,184 103.1,184 103.3,184.1 103.4,184.1 103.6,184.2 103.7,184.2 103.9,184.3 104,184.3 104.2,184.4 104.3,184.4 104.5,184.5 104.6,184.5 104.8,184.6 104.9,184.6 105.1,184.6 105.2,184.7 105.4,184.7 105.5,184.8 105.7,184.8 105.8,184.9 106,184.9 106.1,185 106.3,185 106.4,185 106.6,185.1 106.7,185.1 106.9,185.2 107,185.2 107.2,185.3 107.3,185.3 107.5,185.3 107.7,185.4 107.8,185.4 108,185.5 108.1,185.5 108.3,185.5 108.4,185.6 108.6,185.6 108.7,185.6 108.9,185.7 109,185.7 109.2,185.7 109.3,185.8 109.5,185.8 109.6,185.9 109.8,185.9 109.9,185.9 110.1,186 110.2,186 110.4,186 110.6,186.1 110.7,186.1 110.9,186.1 111,186.2 111.2,186.2 111.3,186.2 111.5,186.2 111.6,186.3 111.8,186.3 111.9,186.3 112.1,186.4 112.3,186.4 112.4,186.4 112.6,186.4 112.7,186.5 112.9,186.5 113,186.5 113.2,186.5 113.3,186.6 113.5,186.6 113.6,186.6 113.8,186.6 114,186.7 114.1,186.7 114.3,186.7 114.4,186.7 114.6,186.8 114.7,186.8 114.9,186.8 115,186.8 115.2,186.9 115.4,186.9 115.5,186.9 115.7,186.9 115.8,186.9 116,186.9 116.1,187 116.3,187 116.4,187 116.6,187 116.8,187 116.9,187.1 117.1,187.1 117.2,187.1 117.4,187.1 117.5,187.1 117.7,187.1 117.9,187.1 118,187.2 118.2,187.2 118.3,187.2 118.5,187.2 118.6,187.2 118.8,187.2 118.9,187.2 119.1,187.2 119.3,187.3 119.4,187.3 119.6,187.3 119.7,187.3 119.9,187.3 120,187.3 120.2,187.3 120.4,187.3 120.5,187.3 120.7,187.3 120.8,187.3 121,187.3 121.1,187.4 121.3,187.4 121.5,187.4 121.6,187.4 121.8,187.4 121.9,187.4 122.1,187.4 122.2,187.4 122.4,187.4 122.6,187.4 122.7,187.4 122.9,187.4 123,187.4 123.2,187.4 123.3,187.4 123.5,187.4 123.7,187.4 123.8,187.4 124,187.4 124.1,187.4 124.3,187.4 124.4,187.4 124.6,187.4 124.8,187.4 124.9,187.4 125.1,187.4 125.2,187.4 125.4,187.4 125.5,187.4 125.7,187.4 125.9,187.4 126,187.3 126.2,187.3 126.3,187.3 126.5,187.3 126.6,187.3 126.8,187.3 127,187.3 127.1,187.3 127.3,187.3 127.4,187.3 127.6,187.3 127.7,187.3 127.9,187.2 128.1,187.2 128.2,187.2 128.4,187.2 128.5,187.2 128.7,187.2 128.8,187.2 129,187.2 129.1,187.1 129.3,187.1 129.5,187.1 129.6,187.1 129.8,187.1 129.9,187.1 130.1,187.1 130.2,187 130.4,187 130.6,187 130.7,187 130.9,187 131,186.9 131.2,186.9 131.3,186.9 131.5,186.9 131.6,186.9 131.8,186.9 132,186.8 132.1,186.8 132.3,186.8 132.4,186.8 132.6,186.7 132.7,186.7 132.9,186.7 133,186.7 133.2,186.6 133.4,186.6 133.5,186.6 133.7,186.6 133.8,186.5 134,186.5 134.1,186.5 134.3,186.5 134.4,186.4 134.6,186.4 134.7,186.4 134.9,186.4 135.1,186.3 135.2,186.3 135.4,186.3 135.5,186.2 135.7,186.2 135.8,186.2 136,186.2 136.1,186.1 136.3,186.1 136.4,186.1 136.6,186 136.8,186 136.9,186 137.1,185.9 137.2,185.9 137.4,185.9 137.5,185.8 137.7,185.8 137.8,185.7 138,185.7 138.1,185.7 138.3,185.6 138.4,185.6 138.6,185.6 138.7,185.5 138.9,185.5 139,185.5 139.2,185.4 139.3,185.4 139.5,185.3 139.7,185.3 139.8,185.3 140,185.2 140.1,185.2 140.3,185.1 140.4,185.1 140.6,185 140.7,185 140.9,185 141,184.9 141.2,184.9 141.3,184.8 141.5,184.8 141.6,184.7 141.8,184.7 141.9,184.6 142.1,184.6 142.2,184.6 142.4,184.5 142.5,184.5 142.7,184.4 142.8,184.4 143,184.3 143.1,184.3 143.3,184.2 143.4,184.2 143.6,184.1 143.7,184.1 143.9,184 144,184 144.2,183.9 144.3,183.9 144.5,183.8 144.6,183.8 144.8,183.7 144.9,183.7 145,183.6 145.2,183.5 145.3,183.5 145.5,183.4 145.6,183.4 145.8,183.3 145.9,183.3 146.1,183.2 146.2,183.2 146.4,183.1 146.5,183 146.7,183 146.8,182.9 147,182.9 147.1,182.8 147.2,182.8 147.4,182.7 147.5,182.6 147.7,182.6 147.8,182.5 148,182.5 148.1,182.4 148.3,182.3 148.4,182.3 148.5,182.2 148.7,182.1 148.8,182.1 149,182 149.1,182 149.3,181.9 149.4,181.8 149.6,181.8 149.7,181.7 149.8,181.6 150,181.6 150.1,181.5 150.3,181.4 150.4,181.4 150.6,181.3 150.7,181.2 150.8,181.2 151,181.1 151.1,181 151.3,181 151.4,180.9 151.5,180.8 151.7,180.7 151.8,180.7 152,180.6 152.1,180.5 152.2,180.5 152.4,180.4 152.5,180.3 152.7,180.2 152.8,180.2 152.9,180.1 153.1,180 153.2,180 153.4,179.9 153.5,179.8 153.6,179.7 153.8,179.7 153.9,179.6 154,179.5 154.2,179.4 154.3,179.3 154.5,179.3 154.6,179.2 154.7,179.1 154.9,179 155,179 155.1,178.9 155.3,178.8 155.4,178.7 155.5,178.6 155.7,178.6 155.8,178.5 155.9,178.4 156.1,178.3 156.2,178.2 156.4,178.2 156.5,178.1 156.6,178 156.8,177.9 156.9,177.8 157,177.7 157.2,177.7 157.3,177.6 157.4,177.5 157.5,177.4 157.7,177.3 157.8,177.2 157.9,177.2 158.1,177.1 158.2,177 158.3,176.9 158.5,176.8 158.6,176.7 158.7,176.6 158.9,176.5 159,176.5 159.1,176.4 159.2,176.3 159.4,176.2 159.5,176.1 159.6,176 159.8,175.9 159.9,175.8 160,175.7 160.1,175.6 160.3,175.6 160.4,175.5 160.5,175.4 160.7,175.3 160.8,175.2 160.9,175.1 161,175 161.2,174.9 161.3,174.8 161.4,174.7 161.5,174.6 161.7,174.5 161.8,174.4 161.9,174.3 162,174.2 162.2,174.1 162.3,174 162.4,173.9 162.5,173.9 162.7,173.8 162.8,173.7 162.9,173.6 163,173.5 163.1,173.4 163.3,173.3 163.4,173.2 163.5,173.1 163.6,173 163.8,172.9 163.9,172.8 164,172.7 164.1,172.6 164.2,172.5 164.4,172.4 164.5,172.3 164.6,172.2 164.7,172 164.8,171.9 165,171.8 165.1,171.7 165.2,171.6 165.3,171.5 165.4,171.4 165.5,171.3 165.7,171.2 165.8,171.1 165.9,171 166,170.9 166.1,170.8 166.2,170.7 166.4,170.6 166.5,170.5 166.6,170.4 166.7,170.3 166.8,170.2 166.9,170 167,169.9 167.2,169.8 167.3,169.7 167.4,169.6 167.5,169.5 167.6,169.4 167.7,169.3 167.8,169.2 167.9,169.1 168,168.9 168.2,168.8 168.3,168.7 168.4,168.6 168.5,168.5 168.6,168.4 168.7,168.3 168.8,168.2 168.9,168.1 169,167.9 169.1,167.8 169.3,167.7 169.4,167.6 169.5,167.5 169.6,167.4 169.7,167.3 169.8,167.1 169.9,167 170,166.9 170.1,166.8 170.2,166.7 170.3,166.6 170.4,166.4 170.5,166.3 170.6,166.2 170.7,166.1 170.8,166 170.9,165.9 171,165.7 171.1,165.6 171.3,165.5 171.4,165.4 171.5,165.3 171.6,165.1 171.7,165 171.8,164.9 171.9,164.8 172,164.7 172.1,164.5 172.2,164.4 172.3,164.3 172.4,164.2 172.5,164 172.6,163.9 172.7,163.8 172.8,163.7 172.9,163.6 173,163.4 173,163.3 173.1,163.2 173.2,163.1 173.3,162.9 173.4,162.8 173.5,162.7 173.6,162.6 173.7,162.4 173.8,162.3 173.9,162.2 174,162.1 174.1,161.9 174.2,161.8 174.3,161.7 174.4,161.6 174.5,161.4 174.6,161.3 174.7,161.2 174.7,161 174.8,160.9 174.9,160.8 175,160.7 175.1,160.5 175.2,160.4 175.3,160.3 175.4,160.1 175.5,160 175.6,159.9 175.6,159.8 175.7,159.6 175.8,159.5 175.9,159.4 176,159.2 176.1,159.1 176.2,159 176.3,158.8 176.3,158.7 176.4,158.6 176.5,158.4 176.6,158.3 176.7,158.2 176.8,158.1 176.8,157.9 176.9,157.8 177,157.7 177.1,157.5 177.2,157.4 177.3,157.3 177.3,157.1 177.4,157 177.5,156.8 177.6,156.7 177.7,156.6 177.7,156.4 177.8,156.3 177.9,156.2 178,156 178.1,155.9 178.1,155.8 178.2,155.6 178.3,155.5 178.4,155.4 178.4,155.2 178.5,155.1 178.6,154.9 178.7,154.8 178.8,154.7 178.8,154.5 178.9,154.4 179,154.3 179.1,154.1 179.1,154 179.2,153.8 179.3,153.7 179.3,153.6 179.4,153.4 179.5,153.3 179.6,153.1 179.6,153 179.7,152.9 179.8,152.7 179.8,152.6 179.9,152.4 180,152.3 180.1,152.2 180.1,152 180.2,151.9 180.3,151.7 180.3,151.6 180.4,151.5 180.5,151.3 180.5,151.2 180.6,151 180.7,150.9 180.7,150.7 180.8,150.6 180.9,150.5 180.9,150.3 181,150.2 181.1,150 181.1,149.9 181.2,149.7 181.2,149.6 181.3,149.4 181.4,149.3 181.4,149.2 181.5,149 181.6,148.9 181.6,148.7 181.7,148.6 181.7,148.4 181.8,148.3 181.9,148.1 181.9,148 182,147.9 182,147.7 182.1,147.6 182.1,147.4 182.2,147.3 182.3,147.1 182.3,147 182.4,146.8 182.4,146.7 182.5,146.5 182.5,146.4 182.6,146.2 182.6,146.1 182.7,145.9 182.8,145.8 182.8,145.7 182.9,145.5 182.9,145.4 183,145.2 183,145.1 183.1,144.9 183.1,144.8 183.2,144.6 183.2,144.5 183.3,144.3 183.3,144.2 183.4,144 183.4,143.9 183.5,143.7 183.5,143.6 183.6,143.4 183.6,143.3 183.7,143.1 183.7,143 183.7,142.8 183.8,142.7 183.8,142.5 183.9,142.4 183.9,142.2 184,142.1 184,141.9 184.1,141.8 184.1,141.6 184.1,141.5 184.2,141.3 184.2,141.2 184.3,141 184.3,140.9 184.4,140.7 184.4,140.6 184.4,140.4 184.5,140.2 184.5,140.1 184.6,139.9 184.6,139.8 184.6,139.6 184.7,139.5 184.7,139.3 184.7,139.2 184.8,139 184.8,138.9 184.8,138.7 184.9,138.6 184.9,138.4 185,138.3 185,138.1 185,138 185.1,137.8 185.1,137.7 185.1,137.5 185.2,137.3 185.2,137.2 185.2,137 185.3,136.9 185.3,136.7 185.3,136.6 185.3,136.4 185.4,136.3 185.4,136.1 185.4,136 185.5,135.8 185.5,135.6 185.5,135.5 185.5,135.3 185.6,135.2 185.6,135 185.6,134.9 185.6,134.7 185.7,134.6 185.7,134.4 185.7,134.3 185.7,134.1 185.8,133.9 185.8,133.8 185.8,133.6 185.8,133.5 185.9,133.3 185.9,133.2 185.9,133 185.9,132.9 186,132.7 186,132.5 186,132.4 186,132.2 186,132.1 186,131.9 186.1,131.8 186.1,131.6 186.1,131.5 186.1,131.3 186.1,131.1 186.2,131 186.2,130.8 186.2,130.7 186.2,130.5 186.2,130.4 186.2,130.2 186.2,130 186.3,129.9 186.3,129.7 186.3,129.6 186.3,129.4 186.3,129.3 186.3,129.1 186.3,129 186.3,128.8 186.4,128.6 186.4,128.5 186.4,128.3 186.4,128.2 186.4,128 186.4,127.9 186.4,127.7 186.4,127.5 186.4,127.4 186.4,127.2 186.4,127.1 186.4,126.9 186.5,126.8 186.5,126.6 186.5,126.4 186.5,126.3 186.5,126.1 186.5,126 186.5,125.8 186.5,125.7 186.5,125.5 186.5,125.3 186.5,125.2 186.5,125 186.5,124.9 186.5,124.7 186.5,124.6 186.5,124.4 186.5,124.2 186.5,124.1 186.5,123.9 186.5,123.8 186.5,123.6 186.5,123.5 186.5,123.3 186.5,123.1 186.5,123 186.5,122.8 186.5,122.7 186.5,122.5 186.5,122.4 186.5,122.2 186.5,122 186.4,121.9 186.4,121.7 186.4,121.6 186.4,121.4 186.4,121.3 186.4,121.1 186.4,120.9 186.4,120.8 186.4,120.6 186.4,120.5 186.4,120.3 186.4,120.2 186.3,120 186.3,119.8 186.3,119.7 186.3,119.5 186.3,119.4 186.3,119.2 186.3,119.1 186.3,118.9 186.2,118.8 186.2,118.6 186.2,118.4 186.2,118.3 186.2,118.1 186.2,118 186.2,117.8 186.1,117.7 186.1,117.5 186.1,117.3 186.1,117.2 186.1,117 186,116.9 186,116.7 186,116.6 186,116.4 186,116.3 186,116.1 185.9,115.9 185.9,115.8 185.9,115.6 185.9,115.5 185.8,115.3 185.8,115.2 185.8,115 185.8,114.9 185.7,114.7 185.7,114.5 185.7,114.4 185.7,114.2 185.6,114.1 185.6,113.9 185.6,113.8 185.6,113.6 185.5,113.5 185.5,113.3 185.5,113.2 185.5,113 185.4,112.8 185.4,112.7 185.4,112.5 185.3,112.4 185.3,112.2 185.3,112.1 185.3,111.9 185.2,111.8 185.2,111.6 185.2,111.5 185.1,111.3 185.1,111.1 185.1,111 185,110.8 185,110.7 185,110.5 184.9,110.4 184.9,110.2 184.8,110.1 184.8,109.9 184.8,109.8 184.7,109.6 184.7,109.5 184.7,109.3 184.6,109.2 184.6,109 184.6,108.9 184.5,108.7 184.5,108.6 184.4,108.4 184.4,108.2 184.4,108.1 184.3,107.9 184.3,107.8 184.2,107.6 184.2,107.5 184.1,107.3 184.1,107.2 184.1,107 184,106.9 184,106.7 183.9,106.6 183.9,106.4 183.8,106.3 183.8,106.1 183.7,106 183.7,105.8 183.7,105.7 183.6,105.5 183.6,105.4 183.5,105.2 183.5,105.1 183.4,104.9 183.4,104.8 183.3,104.6 183.3,104.5 183.2,104.3 183.2,104.2 183.1,104 183.1,103.9 183,103.7 183,103.6 182.9,103.4 182.9,103.3 182.8,103.1 182.8,103 182.7,102.9 182.6,102.7 182.6,102.6 182.5,102.4 182.5,102.3 182.4,102.1 182.4,102 182.3,101.8 182.3,101.7 182.2,101.5 182.1,101.4 182.1,101.2 182,101.1 182,100.9 181.9,100.8 181.9,100.7 181.8,100.5 181.7,100.4 181.7,100.2 181.6,100.1 181.6,99.9 181.5,99.8 181.4,99.6 181.4,99.5 181.3,99.4 181.2,99.2 181.2,99.1 181.1,98.9 181.1,98.8 181,98.6 180.9,98.5 180.9,98.3 180.8,98.2 180.7,98.1 180.7,97.9 180.6,97.8 180.5,97.6 180.5,97.5 180.4,97.3 180.3,97.2 180.3,97.1 180.2,96.9 180.1,96.8 180.1,96.6 180,96.5 179.9,96.4 179.8,96.2 179.8,96.1 179.7,95.9 179.6,95.8 179.6,95.7 179.5,95.5 179.4,95.4 179.3,95.2 179.3,95.1 179.2,95 179.1,94.8 179.1,94.7 179,94.5 178.9,94.4 178.8,94.3 178.8,94.1 178.7,94 178.6,93.9 178.5,93.7 178.4,93.6 178.4,93.4 178.3,93.3 178.2,93.2 178.1,93 178.1,92.9 178,92.8 177.9,92.6 177.8,92.5 177.7,92.4 177.7,92.2 177.6,92.1 177.5,92 177.4,91.8 177.3,91.7 177.3,91.5 177.2,91.4 177.1,91.3 177,91.1 176.9,91 176.8,90.9 176.8,90.7 176.7,90.6 176.6,90.5 176.5,90.4 176.4,90.2 176.3,90.1 176.3,90 176.2,89.8 176.1,89.7 176,89.6 175.9,89.4 175.8,89.3 175.7,89.2 175.6,89 175.6,88.9 175.5,88.8 175.4,88.7 175.3,88.5 175.2,88.4 175.1,88.3 175,88.1 174.9,88 174.8,87.9 174.7,87.8 174.7,87.6 174.6,87.5 174.5,87.4 174.4,87.2 174.3,87.1 174.2,87 174.1,86.9 174,86.7 173.9,86.6 173.8,86.5 173.7,86.4 173.6,86.2 173.5,86.1 173.4,86 173.3,85.9 173.2,85.7 173.1,85.6 173,85.5 173,85.4 172.9,85.2 172.8,85.1 172.7,85 172.6,84.9 172.5,84.8 172.4,84.6 172.3,84.5 172.2,84.4 172.1,84.3 172,84.1 171.9,84 171.8,83.9 171.7,83.8 171.6,83.7 171.5,83.5 171.4,83.4 171.3,83.3 171.1,83.2 171,83.1 170.9,82.9 170.8,82.8 170.7,82.7 170.6,82.6 170.5,82.5 170.4,82.4 170.3,82.2 170.2,82.1 170.1,82 170,81.9 169.9,81.8 169.8,81.7 169.7,81.5 169.6,81.4 169.5,81.3 169.4,81.2 169.3,81.1 169.1,81 169,80.9 168.9,80.7 168.8,80.6 168.7,80.5 168.6,80.4 168.5,80.3 168.4,80.2 168.3,80.1 168.2,80 168,79.9 167.9,79.7 167.8,79.6 167.7,79.5 167.6,79.4 167.5,79.3 167.4,79.2 167.3,79.1 167.2,79 167,78.9 166.9,78.8 166.8,78.6 166.7,78.5 166.6,78.4 166.5,78.3 166.4,78.2 166.2,78.1 166.1,78 166,77.9 165.9,77.8 165.8,77.7 165.7,77.6 165.5,77.5 165.4,77.4 165.3,77.3 165.2,77.2 165.1,77.1 165,77 164.8,76.9 164.7,76.8 164.6,76.6 164.5,76.5 164.4,76.4 164.2,76.3 164.1,76.2 164,76.1 163.9,76 163.8,75.9 163.6,75.8 163.5,75.7 163.4,75.6 163.3,75.5 163.1,75.4 163,75.3 162.9,75.2 162.8,75.1 162.7,75 162.5,74.9 162.4,74.9 162.3,74.8 162.2,74.7 162,74.6 161.9,74.5 161.8,74.4 161.7,74.3 161.5,74.2 161.4,74.1 161.3,74 161.2,73.9 161,73.8 160.9,73.7 160.8,73.6 160.7,73.5 160.5,73.4 160.4,73.3 160.3,73.2 160.1,73.2 160,73.1 159.9,73 159.8,72.9 159.6,72.8 159.5,72.7 159.4,72.6 159.2,72.5 159.1,72.4 159,72.3 158.9,72.3 158.7,72.2 158.6,72.1 158.5,72 158.3,71.9 158.2,71.8 158.1,71.7 157.9,71.6 157.8,71.6 157.7,71.5 157.5,71.4 157.4,71.3 157.3,71.2 157.2,71.1 157,71.1 156.9,71 156.8,70.9 156.6,70.8 156.5,70.7 156.4,70.6 156.2,70.6 156.1,70.5 155.9,70.4 155.8,70.3 155.7,70.2 155.5,70.2 155.4,70.1 155.3,70 155.1,69.9 155,69.8 154.9,69.8 154.7,69.7 154.6,69.6 154.5,69.5 154.3,69.5 154.2,69.4 154,69.3 153.9,69.2 153.8,69.1 153.6,69.1 153.5,69 153.4,68.9 153.2,68.8 153.1,68.8 152.9,68.7 152.8,68.6 152.7,68.6 152.5,68.5 152.4,68.4 152.2,68.3 152.1,68.3 152,68.2 151.8,68.1 151.7,68.1 151.5,68 151.4,67.9 151.3,67.8 151.1,67.8 151,67.7 150.8,67.6 150.7,67.6 150.6,67.5 150.4,67.4 150.3,67.4 150.1,67.3 150,67.2 149.8,67.2 149.7,67.1 149.6,67 149.4,67 149.3,66.9 149.1,66.8 149,66.8 148.8,66.7 148.7,66.7 148.5,66.6 148.4,66.5 148.3,66.5 148.1,66.4 148,66.3 147.8,66.3 147.7,66.2 147.5,66.2 147.4,66.1 147.2,66 147.1,66 147,65.9 146.8,65.9 146.7,65.8 146.5,65.8 146.4,65.7 146.2,65.6 146.1,65.6 145.9,65.5 145.8,65.5 145.6,65.4 145.5,65.4 145.3,65.3 145.2,65.3 145,65.2 144.9,65.1 144.8,65.1 144.6,65 144.5,65 144.3,64.9 144.2,64.9 144,64.8 143.9,64.8 143.7,64.7 143.6,64.7 143.4,64.6 143.3,64.6 143.1,64.5 143,64.5 142.8,64.4 142.7,64.4 142.5,64.3 142.4,64.3 142.2,64.2 142.1,64.2 141.9,64.2 141.8,64.1 141.6,64.1 141.5,64 141.3,64 141.2,63.9 141,63.9 140.9,63.8 140.7,63.8 140.6,63.8 140.4,63.7 140.3,63.7 140.1,63.6 140,63.6 139.8,63.5 139.7,63.5 139.5,63.5 139.3,63.4 139.2,63.4 139,63.3 138.9,63.3 138.7,63.3 138.6,63.2 138.4,63.2 138.3,63.2 138.1,63.1 138,63.1 137.8,63.1 137.7,63 137.5,63 137.4,62.9 137.2,62.9 137.1,62.9 136.9,62.8 136.8,62.8 136.6,62.8 136.4,62.7 136.3,62.7 136.1,62.7 136,62.6 135.8,62.6 135.7,62.6 135.5,62.6 135.4,62.5 135.2,62.5 135.1,62.5 134.9,62.4 134.7,62.4 134.6,62.4 134.4,62.4 134.3,62.3 134.1,62.3 134,62.3 133.8,62.3 133.7,62.2 133.5,62.2 133.4,62.2 133.2,62.2 133,62.1 132.9,62.1 132.7,62.1 132.6,62.1 132.4,62 132.3,62 132.1,62 132,62 131.8,61.9 131.6,61.9 131.5,61.9 131.3,61.9 131.2,61.9 131,61.9 130.9,61.8 130.7,61.8 130.6,61.8 130.4,61.8 130.2,61.8 130.1,61.7 129.9,61.7 129.8,61.7 129.6,61.7 129.5,61.7 129.3,61.7 129.1,61.7 129,61.6 128.8,61.6 128.7,61.6 128.5,61.6 128.4,61.6 128.2,61.6 128.1,61.6 127.9,61.6 127.7,61.5 127.6,61.5 127.4,61.5 127.3,61.5 127.1,61.5 127,61.5 126.8,61.5 126.6,61.5 126.5,61.5 126.3,61.5 126.2,61.5 126,61.5 125.9,61.4 125.7,61.4 125.5,61.4 125.4,61.4 125.2,61.4 125.1,61.4 124.9,61.4 124.8,61.4 124.6,61.4 124.4,61.4 124.3,61.4 124.1,61.4 124,61.4 123.8,61.4 123.7,61.4 123.5,61.4Z" fill="#b818b8"/>
</g>
<g>
<circle cx="123.5" cy="124.4" r="50.5" fill="none" stroke="#bdbdbd" stroke-width="0.7"/>
<line x1="123.5" y1="73.9" x2="123.5" y2="75.9" stroke="#333" stroke-width="0.7"/>
<line x1="131.5" y1="74.5" x2="131.4" y2="75.4" stroke="#ccc" stroke-width="0.35"/>
<line x1="139.4" y1="76.5" x2="139.1" y2="77.3" stroke="#ccc" stroke-width="0.35"/>
<line x1="146.8" y1="79.6" x2="146.4" y2="80.4" stroke="#ccc" stroke-width="0.35"/>
<line x1="153.6" y1="83.9" x2="153.1" y2="84.6" stroke="#ccc" stroke-width="0.35"/>
<line x1="159.7" y1="89.2" x2="158.3" y2="90.6" stroke="#333" stroke-width="0.7"/>
<line x1="164.8" y1="95.4" x2="164.1" y2="95.9" stroke="#ccc" stroke-width="0.35"/>
<line x1="168.9" y1="102.4" x2="168.1" y2="102.8" stroke="#ccc" stroke-width="0.35"/>
<line x1="171.9" y1="109.9" x2="171" y2="110.1" stroke="#ccc" stroke-width="0.35"/>
<line x1="173.6" y1="117.8" x2="172.7" y2="117.9" stroke="#ccc" stroke-width="0.35"/>
<line x1="174" y1="125.8" x2="172" y2="125.8" stroke="#333" stroke-width="0.7"/>
<line x1="173.1" y1="133.8" x2="172.2" y2="133.7" stroke="#ccc" stroke-width="0.35"/>
<line x1="171" y1="141.6" x2="170.1" y2="141.3" stroke="#ccc" stroke-width="0.35"/>
<line x1="167.6" y1="149" x2="166.8" y2="148.5" stroke="#ccc" stroke-width="0.35"/>
<line x1="163.2" y1="155.7" x2="162.5" y2="155.1" stroke="#ccc" stroke-width="0.35"/>
<line x1="157.7" y1="161.6" x2="156.3" y2="160.1" stroke="#333" stroke-width="0.7"/>
<line x1="151.3" y1="166.5" x2="150.8" y2="165.8" stroke="#ccc" stroke-width="0.35"/>
<line x1="144.3" y1="170.4" x2="143.9" y2="169.6" stroke="#ccc" stroke-width="0.35"/>
<line x1="136.7" y1="173.2" x2="136.4" y2="172.3" stroke="#ccc" stroke-width="0.35"/>
<line x1="128.7" y1="174.6" x2="128.6" y2="173.7" stroke="#ccc" stroke-width="0.35"/>
<line x1="120.7" y1="174.8" x2="120.8" y2="172.8" stroke="#333" stroke-width="0.7"/>
<line x1="112.7" y1="173.7" x2="112.9" y2="172.8" stroke="#ccc" stroke-width="0.35"/>
<line x1="105" y1="171.4" x2="105.3" y2="170.5" stroke="#ccc" stroke-width="0.35"/>
<line x1="97.7" y1="167.8" x2="98.2" y2="167" stroke="#ccc" stroke-width="0.35"/>
<line x1="91.1" y1="163.2" x2="91.7" y2="162.5" stroke="#ccc" stroke-width="0.35"/>
<line x1="85.4" y1="157.5" x2="86.9" y2="156.2" stroke="#333" stroke-width="0.7"/>
<line x1="80.6" y1="151" x2="81.4" y2="150.6" stroke="#ccc" stroke-width="0.35"/>
<line x1="76.9" y1="143.9" x2="77.7" y2="143.5" stroke="#ccc" stroke-width="0.35"/>
<line x1="74.4" y1="136.2" x2="75.3" y2="136" stroke="#ccc" stroke-width="0.35"/>
<line x1="73.1" y1="128.2" x2="74" y2="128.2" stroke="#ccc" stroke-width="0.35"/>
<line x1="73.2" y1="120.2" x2="75.2" y2="120.3" stroke="#333" stroke-width="0.7"/>
<line x1="74.5" y1="112.2" x2="75.4" y2="112.4" stroke="#ccc" stroke-width="0.35"/>
<line x1="77.1" y1="104.5" x2="77.9" y2="104.9" stroke="#ccc" stroke-width="0.35"/>
<line x1="80.8" y1="97.4" x2="81.6" y2="97.9" stroke="#ccc" stroke-width="0.35"/>
<line x1="85.7" y1="91" x2="86.3" y2="91.6" stroke="#ccc" stroke-width="0.35"/>
<line x1="91.5" y1="85.4" x2="92.7" y2="86.9" stroke="#333" stroke-width="0.7"/>
<line x1="98.1" y1="80.8" x2="98.5" y2="81.5" stroke="#ccc" stroke-width="0.35"/>
<line x1="105.4" y1="77.3" x2="105.7" y2="78.1" stroke="#ccc" stroke-width="0.35"/>
<line x1="113.1" y1="75" x2="113.3" y2="75.9" stroke="#ccc" stroke-width="0.35"/>
<line x1="121.1" y1="74" x2="121.1" y2="74.9" stroke="#ccc" stroke-width="0.35"/>
<text x="153.2" y="96.5" text-anchor="middle" class="tk">500 kbp</text>
<text x="160.2" y="125.8" text-anchor="middle" class="tk">1000 kbp</text>
<text x="151.5" y="155.8" text-anchor="middle" class="tk">1500 kbp</text>
<text x="120.1" y="167.8" text-anchor="middle" class="tk">2000 kbp</text>
<text x="92.2" y="152.7" text-anchor="middle" class="tk">2500 kbp</text>
<text x="87" y="122.1" text-anchor="middle" class="tk">3000 kbp</text>
<text x="97.8" y="93.4" text-anchor="middle" class="tk">3500 kbp</text>
<text x="124.1" y="113.5" text-anchor="middle" class="dc" font-weight="bold" font-style="italic" font-size="5.85" stroke="#000" stroke-width="0.08">Bacillus vallismortis</text>
<text x="122.6" y="124.7" text-anchor="middle" class="dc" font-weight="bold" font-size="5.0" stroke="#000" stroke-width="0.15">NBIF-001</text>
<text x="123.7" y="136.4" text-anchor="middle" class="dc" font-size="6.0" fill="#111" stroke="#111" stroke-width="0.1">Length: 3,929,787 bp</text>
</g>
<g id="legend">
<rect x="243.3" y="63.6" width="2.2" height="2.2" fill="#ff5050"/>
<text transform="translate(247.2 65.7) scale(0.8 1)" class="lg">A (COG)</text>
<rect x="243.3" y="67.3" width="2.2" height="2.2" fill="#f89070"/>
<text transform="translate(247.2 69.4) scale(0.8 1)" class="lg">B (COG)</text>
<rect x="243.3" y="71.1" width="2.2" height="2.2" fill="#ffb8c0"/>
<text transform="translate(247.2 73.2) scale(0.8 1)" class="lg">C (COG)</text>
<rect x="243.3" y="74.8" width="2.2" height="2.2" fill="#ffb050"/>
<text transform="translate(247.2 76.9) scale(0.8 1)" class="lg">D (COG)</text>
<rect x="243.3" y="78.6" width="2.2" height="2.2" fill="#ff60c8"/>
<text transform="translate(247.2 80.7) scale(0.8 1)" class="lg">E (COG)</text>
<rect x="243.3" y="82.3" width="2.2" height="2.2" fill="#fff0a0"/>
<text transform="translate(247.2 84.4) scale(0.8 1)" class="lg">F (COG)</text>
<rect x="243.3" y="86" width="2.2" height="2.2" fill="#d8d8a0"/>
<text transform="translate(247.2 88.1) scale(0.8 1)" class="lg">G (COG)</text>
<rect x="243.3" y="89.8" width="2.2" height="2.2" fill="#98b860"/>
<text transform="translate(247.2 91.9) scale(0.8 1)" class="lg">H (COG)</text>
<rect x="243.3" y="93.5" width="2.2" height="2.2" fill="#50b070"/>
<text transform="translate(247.2 95.6) scale(0.8 1)" class="lg">I (COG)</text>
<rect x="243.3" y="97.3" width="2.2" height="2.2" fill="#b0f090"/>
<text transform="translate(247.2 99.4) scale(0.8 1)" class="lg">J (COG)</text>
<rect x="243.3" y="101" width="2.2" height="2.2" fill="#40f080"/>
<text transform="translate(247.2 103.1) scale(0.8 1)" class="lg">K (COG)</text>
<rect x="243.3" y="104.7" width="2.2" height="2.2" fill="#d0f060"/>
<text transform="translate(247.2 106.8) scale(0.8 1)" class="lg">L (COG)</text>
<rect x="243.3" y="108.5" width="2.2" height="2.2" fill="#40e8c0"/>
<text transform="translate(247.2 110.6) scale(0.8 1)" class="lg">M (COG)</text>
<rect x="243.3" y="112.2" width="2.2" height="2.2" fill="#c0d8c8"/>
<text transform="translate(247.2 114.3) scale(0.8 1)" class="lg">N (COG)</text>
<rect x="243.3" y="116" width="2.2" height="2.2" fill="#70c8a0"/>
<text transform="translate(247.2 118.1) scale(0.8 1)" class="lg">O (COG)</text>
<rect x="243.3" y="119.7" width="2.2" height="2.2" fill="#ffff60"/>
<text transform="translate(247.2 121.8) scale(0.8 1)" class="lg">P (COG)</text>
<rect x="243.3" y="123.4" width="2.2" height="2.2" fill="#50f0f0"/>
<text transform="translate(247.2 125.5) scale(0.8 1)" class="lg">Q (COG)</text>
<rect x="243.3" y="127.2" width="2.2" height="2.2" fill="#60e0d8"/>
<text transform="translate(247.2 129.3) scale(0.8 1)" class="lg">R (COG)</text>
<rect x="243.3" y="130.9" width="2.2" height="2.2" fill="#a0b8e8"/>
<text transform="translate(247.2 133) scale(0.8 1)" class="lg">S (COG)</text>
<rect x="243.3" y="134.7" width="2.2" height="2.2" fill="#40c8f8"/>
<text transform="translate(247.2 136.8) scale(0.8 1)" class="lg">T (COG)</text>
<rect x="243.3" y="138.4" width="2.2" height="2.2" fill="#7070f0"/>
<text transform="translate(247.2 140.5) scale(0.8 1)" class="lg">U (COG)</text>
<rect x="243.3" y="142.1" width="2.2" height="2.2" fill="#c0b0f0"/>
<text transform="translate(247.2 144.2) scale(0.8 1)" class="lg">V (COG)</text>
<rect x="243.3" y="145.9" width="2.2" height="2.2" fill="#6860b0"/>
<text transform="translate(247.2 148) scale(0.8 1)" class="lg">W (COG)</text>
<rect x="243.3" y="149.6" width="2.2" height="2.2" fill="#f0f0f0"/>
<text transform="translate(247.2 151.7) scale(0.8 1)" class="lg">Y (COG)</text>
<rect x="243.3" y="153.4" width="2.2" height="2.2" fill="#d0d0d0"/>
<text transform="translate(247.2 155.5) scale(0.8 1)" class="lg">Z (COG)</text>
<rect x="243.3" y="157.1" width="2.2" height="2.2" fill="#666"/>
<text transform="translate(247.2 159.2) scale(0.8 1)" class="lg">Unknown (COG)</text>
<rect x="243.3" y="160.8" width="2.2" height="2.2" fill="#3a3ae0"/>
<text transform="translate(247.2 162.9) scale(0.8 1)" class="lg">CDS</text>
<rect x="243.3" y="164.6" width="2.2" height="2.2" fill="#e05050"/>
<text transform="translate(247.2 166.7) scale(0.8 1)" class="lg">tRNA</text>
<rect x="243.3" y="168.3" width="2.2" height="2.2" fill="#e040e0"/>
<text transform="translate(247.2 170.4) scale(0.8 1)" class="lg">rRNA</text>
<rect x="243.3" y="172.1" width="2.2" height="2.2" fill="#999"/>
<text transform="translate(247.2 174.2) scale(0.8 1)" class="lg">Other</text>
<rect x="243.3" y="175.8" width="2.2" height="2.2" fill="#000"/>
<text transform="translate(247.2 177.9) scale(0.8 1)" class="lg">GC content</text>
<rect x="243.3" y="179.5" width="2.2" height="2.2" fill="#109a10"/>
<text transform="translate(247.2 181.6) scale(0.8 1)" class="lg">GC skew+</text>
<rect x="243.3" y="183.3" width="2.2" height="2.2" fill="#9a109a"/>
<text transform="translate(247.2 185.4) scale(0.8 1)" class="lg">GC skew-</text>
</g>
<g id="bars">
<line x1="332.8" y1="149.3" x2="332.8" y2="40.2" stroke="#000" stroke-width="0.8"/>
<line x1="332.40000000000003" y1="149.3" x2="547.5" y2="149.3" stroke="#000" stroke-width="0.8"/>
<line x1="330.2" y1="149.3" x2="332.8" y2="149.3" stroke="#000" stroke-width="0.7"/>
<text x="327.9" y="151.8" text-anchor="end" class="ax">0</text>
<line x1="331.40000000000003" y1="138.4" x2="332.8" y2="138.4" stroke="#000" stroke-width="0.7"/>
<line x1="330.2" y1="127.6" x2="332.8" y2="127.6" stroke="#000" stroke-width="0.7"/>
<text x="327.9" y="130.1" text-anchor="end" class="ax">10</text>
<line x1="331.40000000000003" y1="116.7" x2="332.8" y2="116.7" stroke="#000" stroke-width="0.7"/>
<line x1="330.2" y1="105.8" x2="332.8" y2="105.8" stroke="#000" stroke-width="0.7"/>
<text x="327.9" y="108.3" text-anchor="end" class="ax">20</text>
<line x1="331.40000000000003" y1="94.9" x2="332.8" y2="94.9" stroke="#000" stroke-width="0.7"/>
<line x1="330.2" y1="84.1" x2="332.8" y2="84.1" stroke="#000" stroke-width="0.7"/>
<text x="327.9" y="86.6" text-anchor="end" class="ax">30</text>
<line x1="331.40000000000003" y1="73.2" x2="332.8" y2="73.2" stroke="#000" stroke-width="0.7"/>
<line x1="330.2" y1="62.3" x2="332.8" y2="62.3" stroke="#000" stroke-width="0.7"/>
<text x="327.9" y="64.8" text-anchor="end" class="ax">40</text>
<line x1="331.40000000000003" y1="51.4" x2="332.8" y2="51.4" stroke="#000" stroke-width="0.7"/>
<line x1="330.2" y1="40.6" x2="332.8" y2="40.6" stroke="#000" stroke-width="0.7"/>
<text x="327.9" y="43.1" text-anchor="end" class="ax">50</text>
<rect x="335.4" y="138.4" width="10" height="10.9" fill="#00ff00" stroke="#000" stroke-width="0.6"/>
<text x="340.4" y="135.5" text-anchor="middle" class="ax">5</text>
<line x1="340.4" y1="149.3" x2="340.4" y2="151.9" stroke="#000" stroke-width="0.6"/>
<line x1="347.5" y1="149.3" x2="347.5" y2="150.70000000000002" stroke="#000" stroke-width="0.5"/>
<text transform="translate(341.5 161.5) rotate(-45)" text-anchor="end" class="xl">accessory colonization factor</text>
<rect x="349.6" y="108" width="10" height="41.3" fill="#0000ff" stroke="#000" stroke-width="0.6"/>
<text x="354.6" y="105.1" text-anchor="middle" class="ax">19</text>
<line x1="354.6" y1="149.3" x2="354.6" y2="151.9" stroke="#000" stroke-width="0.6"/>
<line x1="361.8" y1="149.3" x2="361.8" y2="150.70000000000002" stroke="#000" stroke-width="0.5"/>
<text transform="translate(355.8 161.5) rotate(-45)" text-anchor="end" class="xl">beta-hemolysin/cytolysin ABC transporter</text>
<rect x="363.9" y="127.6" width="10" height="21.8" fill="#00ffff" stroke="#000" stroke-width="0.6"/>
<text x="368.9" y="124.7" text-anchor="middle" class="ax">10</text>
<line x1="368.9" y1="149.3" x2="368.9" y2="151.9" stroke="#000" stroke-width="0.6"/>
<line x1="376" y1="149.3" x2="376" y2="150.70000000000002" stroke="#000" stroke-width="0.5"/>
<text transform="translate(370 161.5) rotate(-45)" text-anchor="end" class="xl">biofilm-controlling response regulator</text>
<rect x="378.1" y="129.7" width="10" height="19.6" fill="#ff00ff" stroke="#000" stroke-width="0.6"/>
<text x="383.1" y="126.8" text-anchor="middle" class="ax">9</text>
<line x1="383.1" y1="149.3" x2="383.1" y2="151.9" stroke="#000" stroke-width="0.6"/>
<line x1="390.3" y1="149.3" x2="390.3" y2="150.70000000000002" stroke="#000" stroke-width="0.5"/>
<text transform="translate(384.2 161.5) rotate(-45)" text-anchor="end" class="xl">chemotaxis</text>
<rect x="392.4" y="110.2" width="10" height="39.1" fill="#ffff00" stroke="#000" stroke-width="0.6"/>
<text x="397.4" y="107.2" text-anchor="middle" class="ax">18</text>
<line x1="397.4" y1="149.3" x2="397.4" y2="151.9" stroke="#000" stroke-width="0.6"/>
<line x1="404.5" y1="149.3" x2="404.5" y2="150.70000000000002" stroke="#000" stroke-width="0.5"/>
<text transform="translate(398.5 161.5) rotate(-45)" text-anchor="end" class="xl">colibactin biosynthesis</text>
<rect x="406.6" y="62.3" width="10" height="87" fill="#888800" stroke="#000" stroke-width="0.6"/>
<text x="411.6" y="59.4" text-anchor="middle" class="ax">40</text>
<line x1="411.6" y1="149.3" x2="411.6" y2="151.9" stroke="#000" stroke-width="0.6"/>
<line x1="418.8" y1="149.3" x2="418.8" y2="150.70000000000002" stroke="#000" stroke-width="0.5"/>
<text transform="translate(412.8 161.5) rotate(-45)" text-anchor="end" class="xl">capsular polysaccharide biosynthesis</text>
<rect x="420.9" y="129.7" width="10" height="19.6" fill="#0000aa" stroke="#000" stroke-width="0.6"/>
<text x="425.9" y="126.8" text-anchor="middle" class="ax">9</text>
<line x1="425.9" y1="149.3" x2="425.9" y2="151.9" stroke="#000" stroke-width="0.6"/>
<line x1="433" y1="149.3" x2="433" y2="150.70000000000002" stroke="#000" stroke-width="0.5"/>
<text transform="translate(427 161.5) rotate(-45)" text-anchor="end" class="xl">exopolysaccharide biosynthesis</text>
<rect x="435.1" y="55.8" width="10" height="93.5" fill="#aa00aa" stroke="#000" stroke-width="0.6"/>
<text x="440.1" y="52.9" text-anchor="middle" class="ax">43</text>
<line x1="440.1" y1="149.3" x2="440.1" y2="151.9" stroke="#000" stroke-width="0.6"/>
<line x1="447.3" y1="149.3" x2="447.3" y2="150.70000000000002" stroke="#000" stroke-width="0.5"/>
<text transform="translate(441.2 161.5) rotate(-45)" text-anchor="end" class="xl">flagellar synthesis</text>
<rect x="449.4" y="140.6" width="10" height="8.7" fill="#aa0008" stroke="#000" stroke-width="0.6"/>
<text x="454.4" y="137.7" text-anchor="middle" class="ax">4</text>
<line x1="454.4" y1="149.3" x2="454.4" y2="151.9" stroke="#000" stroke-width="0.6"/>
<line x1="461.5" y1="149.3" x2="461.5" y2="150.70000000000002" stroke="#000" stroke-width="0.5"/>
<text transform="translate(455.5 161.5) rotate(-45)" text-anchor="end" class="xl">ferric siderophore ABC transporter</text>
<rect x="463.6" y="99.3" width="10" height="50" fill="#008800" stroke="#000" stroke-width="0.6"/>
<text x="468.6" y="96.4" text-anchor="middle" class="ax">23</text>
<line x1="468.6" y1="149.3" x2="468.6" y2="151.9" stroke="#000" stroke-width="0.6"/>
<line x1="475.8" y1="149.3" x2="475.8" y2="150.70000000000002" stroke="#000" stroke-width="0.5"/>
<text transform="translate(469.8 161.5) rotate(-45)" text-anchor="end" class="xl">iron (III) ABC transporter</text>
<rect x="477.9" y="123.2" width="10" height="26.1" fill="#008c88" stroke="#000" stroke-width="0.6"/>
<text x="482.9" y="120.3" text-anchor="middle" class="ax">12</text>
<line x1="482.9" y1="149.3" x2="482.9" y2="151.9" stroke="#000" stroke-width="0.6"/>
<line x1="490" y1="149.3" x2="490" y2="150.70000000000002" stroke="#000" stroke-width="0.5"/>
<text transform="translate(484 161.5) rotate(-45)" text-anchor="end" class="xl">iron-enterobactin transporter</text>
<rect x="492.1" y="138.4" width="10" height="10.9" fill="#0000c8" stroke="#000" stroke-width="0.6"/>
<text x="497.1" y="135.5" text-anchor="middle" class="ax">5</text>
<line x1="497.1" y1="149.3" x2="497.1" y2="151.9" stroke="#000" stroke-width="0.6"/>
<line x1="504.3" y1="149.3" x2="504.3" y2="150.70000000000002" stroke="#000" stroke-width="0.5"/>
<text transform="translate(498.2 161.5) rotate(-45)" text-anchor="end" class="xl">lipid transporter</text>
<rect x="506.4" y="138.4" width="10" height="10.9" fill="#ff8c00" stroke="#000" stroke-width="0.6"/>
<text x="511.4" y="135.5" text-anchor="middle" class="ax">5</text>
<line x1="511.4" y1="149.3" x2="511.4" y2="151.9" stroke="#000" stroke-width="0.6"/>
<line x1="518.5" y1="149.3" x2="518.5" y2="150.70000000000002" stroke="#000" stroke-width="0.5"/>
<text transform="translate(512.5 161.5) rotate(-45)" text-anchor="end" class="xl">Mg<tspan dy="-1.6" font-size="5.6">2+</tspan><tspan dy="1.6"> </tspan>transport</text>
<rect x="520.6" y="101.5" width="10" height="47.8" fill="#9600ff" stroke="#000" stroke-width="0.6"/>
<text x="525.6" y="98.6" text-anchor="middle" class="ax">22</text>
<line x1="525.6" y1="149.3" x2="525.6" y2="151.9" stroke="#000" stroke-width="0.6"/>
<line x1="532.8" y1="149.3" x2="532.8" y2="150.70000000000002" stroke="#000" stroke-width="0.5"/>
<text transform="translate(526.8 161.5) rotate(-45)" text-anchor="end" class="xl">peptide synthase</text>
<rect x="534.9" y="134.1" width="10" height="15.2" fill="#ff0096" stroke="#000" stroke-width="0.6"/>
<text x="539.9" y="131.2" text-anchor="middle" class="ax">7</text>
<line x1="539.9" y1="149.3" x2="539.9" y2="151.9" stroke="#000" stroke-width="0.6"/>
<line x1="547" y1="149.3" x2="547" y2="150.70000000000002" stroke="#000" stroke-width="0.5"/>
<text transform="translate(541 161.5) rotate(-45)" text-anchor="end" class="xl">two component system</text>
</g>
</svg>
</body></html>
